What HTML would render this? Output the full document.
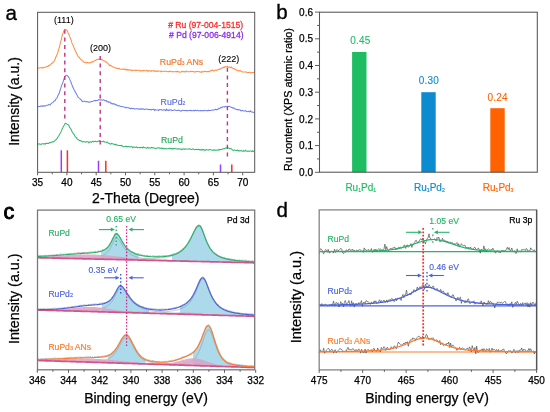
<!DOCTYPE html>
<html><head><meta charset="utf-8"><style>
html,body{margin:0;padding:0;background:#fff;width:550px;height:412px;overflow:hidden}
svg{display:block;filter:blur(0.4px)}
text{font-family:"Liberation Sans", sans-serif}
</style></head><body>
<svg width="550" height="412" viewBox="0 0 550 412">
<rect width="550" height="412" fill="#fff"/>
<text x="5.6" y="20.4" font-size="20.5" fill="#000" text-anchor="start" font-weight="normal"  stroke="#000" stroke-width="0.35">a</text>
<line x1="61.3" y1="150.3" x2="61.3" y2="172" stroke="#9b3cff" stroke-width="1.5"/>
<line x1="67.4" y1="150.3" x2="67.4" y2="172" stroke="#ff2a2a" stroke-width="1.5"/>
<line x1="98.5" y1="160.7" x2="98.5" y2="172" stroke="#9b3cff" stroke-width="1.5"/>
<line x1="105.8" y1="160.7" x2="105.8" y2="172" stroke="#ff2a2a" stroke-width="1.5"/>
<line x1="220.5" y1="164.5" x2="220.5" y2="172" stroke="#9b3cff" stroke-width="1.5"/>
<line x1="231.8" y1="164.5" x2="231.8" y2="172" stroke="#ff2a2a" stroke-width="1.5"/>
<path d="M37.6,68.3 L38.3,68.3 L39.0,68.0 L39.7,67.8 L40.4,67.8 L41.1,67.6 L41.8,67.8 L42.5,68.1 L43.2,67.4 L43.9,67.2 L44.6,67.4 L45.3,67.2 L46.0,66.9 L46.7,66.4 L47.4,66.5 L48.1,66.4 L48.8,65.5 L49.5,65.4 L50.2,64.6 L50.9,64.2 L51.6,63.5 L52.3,63.3 L53.0,62.2 L53.7,61.8 L54.4,60.6 L55.1,59.3 L55.8,57.1 L56.5,56.1 L57.2,54.3 L57.9,52.3 L58.6,49.5 L59.3,47.3 L60.0,44.4 L60.7,41.6 L61.4,39.3 L62.1,36.0 L62.8,33.7 L63.5,31.9 L64.2,30.0 L64.9,29.4 L65.6,29.6 L66.3,30.0 L67.0,30.4 L67.7,31.9 L68.4,33.7 L69.1,34.4 L69.8,36.9 L70.5,38.5 L71.2,40.2 L71.9,42.9 L72.6,44.4 L73.3,45.6 L74.0,47.7 L74.7,49.5 L75.4,50.8 L76.1,52.6 L76.8,53.7 L77.5,55.2 L78.2,56.6 L78.9,57.0 L79.6,58.2 L80.3,58.8 L81.0,59.7 L81.7,60.0 L82.4,60.8 L83.1,61.4 L83.8,62.1 L84.5,62.5 L85.2,62.0 L85.9,62.4 L86.6,63.0 L87.3,62.3 L88.0,62.7 L88.7,62.8 L89.4,63.1 L90.1,62.8 L90.8,62.4 L91.5,62.1 L92.2,61.9 L92.9,62.1 L93.6,61.2 L94.3,60.9 L95.0,60.8 L95.7,60.3 L96.4,59.9 L97.1,59.3 L97.8,59.4 L98.5,59.1 L99.2,59.5 L99.9,59.3 L100.6,59.2 L101.3,59.6 L102.0,59.5 L102.7,60.3 L103.4,60.4 L104.1,61.0 L104.8,61.0 L105.5,62.0 L106.2,61.9 L106.9,62.4 L107.6,63.4 L108.3,63.8 L109.0,64.6 L109.7,65.7 L110.4,65.2 L111.1,65.7 L111.8,66.3 L112.5,66.7 L113.2,66.9 L113.9,67.2 L114.6,67.7 L115.3,67.9 L116.0,67.7 L116.7,68.2 L117.4,68.4 L118.1,68.2 L118.8,68.8 L119.5,68.6 L120.2,69.3 L120.9,69.2 L121.6,69.2 L122.3,69.1 L123.0,69.4 L123.7,68.9 L124.4,69.2 L125.1,69.8 L125.8,69.1 L126.5,70.0 L127.2,69.3 L127.9,70.1 L128.6,69.7 L129.3,70.2 L130.0,70.1 L130.7,69.6 L131.4,70.5 L132.1,70.6 L132.8,70.2 L133.5,70.2 L134.2,70.3 L134.9,70.1 L135.6,70.7 L136.3,70.3 L137.0,70.5 L137.7,70.3 L138.4,70.3 L139.1,70.2 L139.8,71.0 L140.5,70.6 L141.2,70.9 L141.9,70.7 L142.6,70.5 L143.3,70.6 L144.0,70.6 L144.7,70.8 L145.4,70.7 L146.1,70.7 L146.8,70.4 L147.5,70.6 L148.2,71.4 L148.9,70.7 L149.6,70.6 L150.3,71.1 L151.0,71.4 L151.7,70.6 L152.4,71.0 L153.1,70.9 L153.8,70.5 L154.5,71.3 L155.2,71.1 L155.9,71.2 L156.6,70.9 L157.3,71.3 L158.0,71.0 L158.7,71.2 L159.4,70.9 L160.1,70.9 L160.8,71.7 L161.5,71.1 L162.2,71.4 L162.9,71.3 L163.6,71.2 L164.3,71.2 L165.0,71.5 L165.7,71.3 L166.4,71.3 L167.1,71.4 L167.8,71.8 L168.5,71.6 L169.2,71.6 L169.9,71.3 L170.6,71.1 L171.3,71.8 L172.0,71.8 L172.7,71.5 L173.4,71.7 L174.1,71.8 L174.8,71.8 L175.5,71.8 L176.2,71.4 L176.9,72.0 L177.6,71.2 L178.3,71.9 L179.0,71.8 L179.7,71.9 L180.4,72.2 L181.1,72.1 L181.8,71.3 L182.5,71.2 L183.2,71.9 L183.9,71.4 L184.6,71.7 L185.3,72.0 L186.0,71.2 L186.7,71.1 L187.4,71.8 L188.1,71.7 L188.8,71.7 L189.5,71.8 L190.2,71.5 L190.9,71.3 L191.6,71.7 L192.3,71.5 L193.0,71.3 L193.7,71.9 L194.4,71.8 L195.1,71.9 L195.8,71.5 L196.5,71.6 L197.2,71.5 L197.9,71.5 L198.6,71.8 L199.3,71.5 L200.0,71.9 L200.7,71.9 L201.4,72.4 L202.1,71.3 L202.8,72.0 L203.5,71.7 L204.2,71.7 L204.9,71.2 L205.6,71.5 L206.3,71.8 L207.0,71.5 L207.7,71.6 L208.4,71.4 L209.1,71.8 L209.8,71.4 L210.5,70.6 L211.2,71.0 L211.9,70.5 L212.6,70.0 L213.3,70.7 L214.0,71.1 L214.7,70.6 L215.4,70.1 L216.1,70.0 L216.8,70.4 L217.5,69.9 L218.2,69.6 L218.9,69.3 L219.6,69.1 L220.3,69.1 L221.0,68.7 L221.7,68.3 L222.4,67.6 L223.1,67.8 L223.8,67.2 L224.5,67.5 L225.2,66.6 L225.9,66.8 L226.6,66.7 L227.3,66.3 L228.0,67.3 L228.7,67.3 L229.4,66.9 L230.1,67.4 L230.8,67.6 L231.5,67.0 L232.2,68.1 L232.9,68.3 L233.6,68.7 L234.3,68.6 L235.0,69.2 L235.7,69.5 L236.4,70.2 L237.1,70.2 L237.8,70.3 L238.5,71.0 L239.2,70.6 L239.9,70.9 L240.6,70.6 L241.3,71.8 L242.0,71.8 L242.7,71.9 L243.4,71.9 L244.1,71.9 L244.8,72.0 L245.5,72.0 L246.2,72.0 L246.9,72.2 L247.6,72.7 L248.3,72.5 L249.0,72.4 L249.7,72.2 L250.4,72.3 L251.1,73.0 L251.8,72.7 L252.5,72.6 L253.2,72.5 L253.9,72.3 L254.6,72.7" fill="none" stroke="#ff8f45" stroke-width="1.05"/>
<path d="M37.6,106.9 L38.3,106.4 L39.0,106.4 L39.7,106.4 L40.4,106.4 L41.1,105.8 L41.8,106.2 L42.5,105.9 L43.2,106.3 L43.9,105.7 L44.6,106.0 L45.3,106.2 L46.0,105.5 L46.7,105.2 L47.4,105.3 L48.1,105.0 L48.8,104.5 L49.5,104.7 L50.2,104.9 L50.9,103.8 L51.6,103.4 L52.3,102.7 L53.0,102.6 L53.7,101.5 L54.4,100.8 L55.1,100.7 L55.8,99.1 L56.5,98.6 L57.2,97.5 L57.9,95.7 L58.6,94.3 L59.3,93.0 L60.0,90.5 L60.7,88.4 L61.4,86.1 L62.1,84.4 L62.8,82.7 L63.5,80.5 L64.2,78.1 L64.9,76.7 L65.6,75.8 L66.3,75.5 L67.0,75.4 L67.7,76.0 L68.4,76.9 L69.1,77.9 L69.8,79.4 L70.5,81.1 L71.2,82.7 L71.9,84.6 L72.6,86.8 L73.3,88.1 L74.0,89.5 L74.7,90.5 L75.4,92.6 L76.1,93.2 L76.8,94.6 L77.5,96.3 L78.2,97.3 L78.9,97.9 L79.6,98.2 L80.3,99.2 L81.0,99.7 L81.7,100.6 L82.4,101.5 L83.1,101.2 L83.8,101.2 L84.5,101.3 L85.2,101.8 L85.9,101.8 L86.6,101.6 L87.3,102.0 L88.0,101.6 L88.7,102.3 L89.4,102.2 L90.1,102.1 L90.8,101.5 L91.5,101.7 L92.2,101.4 L92.9,101.2 L93.6,101.0 L94.3,100.6 L95.0,100.4 L95.7,100.9 L96.4,100.4 L97.1,100.4 L97.8,100.5 L98.5,99.6 L99.2,99.8 L99.9,100.0 L100.6,100.1 L101.3,99.8 L102.0,100.3 L102.7,100.1 L103.4,99.8 L104.1,100.0 L104.8,100.7 L105.5,100.8 L106.2,100.4 L106.9,101.6 L107.6,101.6 L108.3,102.1 L109.0,101.9 L109.7,102.2 L110.4,102.3 L111.1,103.7 L111.8,103.2 L112.5,104.0 L113.2,103.6 L113.9,104.2 L114.6,103.9 L115.3,104.5 L116.0,105.2 L116.7,104.8 L117.4,105.7 L118.1,105.8 L118.8,105.6 L119.5,105.9 L120.2,106.2 L120.9,106.5 L121.6,106.5 L122.3,106.6 L123.0,106.9 L123.7,106.9 L124.4,106.9 L125.1,107.4 L125.8,107.9 L126.5,107.3 L127.2,107.8 L127.9,107.7 L128.6,107.7 L129.3,108.4 L130.0,108.1 L130.7,108.8 L131.4,108.2 L132.1,108.6 L132.8,108.5 L133.5,108.4 L134.2,108.9 L134.9,108.7 L135.6,109.0 L136.3,108.8 L137.0,108.6 L137.7,108.9 L138.4,109.0 L139.1,109.3 L139.8,108.8 L140.5,109.1 L141.2,108.7 L141.9,109.4 L142.6,108.9 L143.3,108.8 L144.0,109.3 L144.7,109.7 L145.4,109.0 L146.1,109.1 L146.8,109.3 L147.5,109.2 L148.2,109.7 L148.9,109.3 L149.6,109.4 L150.3,109.8 L151.0,109.4 L151.7,109.8 L152.4,109.4 L153.1,109.4 L153.8,109.2 L154.5,110.4 L155.2,109.7 L155.9,109.9 L156.6,109.9 L157.3,109.9 L158.0,109.9 L158.7,110.5 L159.4,109.6 L160.1,109.5 L160.8,109.7 L161.5,109.6 L162.2,110.3 L162.9,110.3 L163.6,109.8 L164.3,109.7 L165.0,110.0 L165.7,110.6 L166.4,109.3 L167.1,110.3 L167.8,109.9 L168.5,110.5 L169.2,109.9 L169.9,110.2 L170.6,109.8 L171.3,110.0 L172.0,110.7 L172.7,110.6 L173.4,110.2 L174.1,110.1 L174.8,109.8 L175.5,110.3 L176.2,110.4 L176.9,110.4 L177.6,110.4 L178.3,110.1 L179.0,110.5 L179.7,110.5 L180.4,110.9 L181.1,111.1 L181.8,110.5 L182.5,110.3 L183.2,110.5 L183.9,110.4 L184.6,110.4 L185.3,110.6 L186.0,110.3 L186.7,110.8 L187.4,110.6 L188.1,110.7 L188.8,110.6 L189.5,110.5 L190.2,110.4 L190.9,110.6 L191.6,110.5 L192.3,110.8 L193.0,110.7 L193.7,110.3 L194.4,110.8 L195.1,110.3 L195.8,110.6 L196.5,110.7 L197.2,110.1 L197.9,110.8 L198.6,110.8 L199.3,110.7 L200.0,110.6 L200.7,110.6 L201.4,110.5 L202.1,110.7 L202.8,110.6 L203.5,110.8 L204.2,110.4 L204.9,110.8 L205.6,110.7 L206.3,110.6 L207.0,110.5 L207.7,110.8 L208.4,110.1 L209.1,110.6 L209.8,110.5 L210.5,110.5 L211.2,110.4 L211.9,110.0 L212.6,110.1 L213.3,110.2 L214.0,110.0 L214.7,109.8 L215.4,109.2 L216.1,109.6 L216.8,109.6 L217.5,109.4 L218.2,109.0 L218.9,108.2 L219.6,108.7 L220.3,108.1 L221.0,107.2 L221.7,107.8 L222.4,107.0 L223.1,106.8 L223.8,106.7 L224.5,107.1 L225.2,106.4 L225.9,106.5 L226.6,106.9 L227.3,106.8 L228.0,106.3 L228.7,106.4 L229.4,106.2 L230.1,106.6 L230.8,107.1 L231.5,107.4 L232.2,107.6 L232.9,108.1 L233.6,107.9 L234.3,108.4 L235.0,108.9 L235.7,109.1 L236.4,109.5 L237.1,109.6 L237.8,109.6 L238.5,110.0 L239.2,109.8 L239.9,109.8 L240.6,110.6 L241.3,110.6 L242.0,110.8 L242.7,110.4 L243.4,110.9 L244.1,110.9 L244.8,110.9 L245.5,110.6 L246.2,111.3 L246.9,111.7 L247.6,111.6 L248.3,111.4 L249.0,111.6 L249.7,111.9 L250.4,110.9 L251.1,111.7 L251.8,112.0 L252.5,112.0 L253.2,112.4 L253.9,112.3 L254.6,112.0" fill="none" stroke="#7282ea" stroke-width="1.05"/>
<path d="M37.6,144.1 L38.3,144.2 L39.0,143.8 L39.7,143.9 L40.4,144.2 L41.1,144.5 L41.8,143.8 L42.5,143.8 L43.2,143.8 L43.9,144.1 L44.6,143.7 L45.3,144.0 L46.0,143.2 L46.7,143.4 L47.4,143.3 L48.1,143.5 L48.8,143.4 L49.5,142.5 L50.2,142.5 L50.9,142.7 L51.6,142.2 L52.3,141.6 L53.0,142.1 L53.7,141.5 L54.4,141.1 L55.1,140.3 L55.8,140.1 L56.5,139.0 L57.2,138.6 L57.9,137.0 L58.6,136.0 L59.3,135.1 L60.0,133.5 L60.7,132.5 L61.4,130.9 L62.1,129.0 L62.8,127.7 L63.5,126.1 L64.2,125.3 L64.9,123.8 L65.6,123.2 L66.3,123.6 L67.0,124.1 L67.7,124.6 L68.4,124.9 L69.1,126.0 L69.8,127.7 L70.5,128.5 L71.2,129.6 L71.9,131.2 L72.6,132.6 L73.3,133.5 L74.0,134.4 L74.7,135.5 L75.4,137.0 L76.1,137.4 L76.8,138.4 L77.5,139.1 L78.2,139.8 L78.9,140.0 L79.6,140.7 L80.3,140.6 L81.0,141.0 L81.7,141.1 L82.4,141.9 L83.1,141.7 L83.8,141.6 L84.5,141.8 L85.2,141.9 L85.9,142.2 L86.6,141.5 L87.3,141.7 L88.0,141.8 L88.7,142.7 L89.4,142.2 L90.1,141.8 L90.8,141.9 L91.5,142.3 L92.2,141.5 L92.9,141.4 L93.6,141.8 L94.3,141.5 L95.0,141.5 L95.7,141.1 L96.4,141.8 L97.1,141.7 L97.8,141.3 L98.5,141.3 L99.2,140.6 L99.9,141.4 L100.6,141.2 L101.3,141.5 L102.0,141.7 L102.7,141.5 L103.4,141.2 L104.1,142.0 L104.8,141.8 L105.5,142.1 L106.2,142.2 L106.9,142.5 L107.6,142.1 L108.3,143.3 L109.0,143.2 L109.7,143.7 L110.4,144.1 L111.1,143.7 L111.8,143.4 L112.5,143.8 L113.2,143.9 L113.9,144.3 L114.6,144.6 L115.3,144.1 L116.0,145.0 L116.7,144.6 L117.4,145.3 L118.1,145.3 L118.8,145.4 L119.5,145.5 L120.2,145.5 L120.9,145.6 L121.6,145.4 L122.3,146.0 L123.0,146.6 L123.7,146.8 L124.4,146.7 L125.1,146.6 L125.8,146.2 L126.5,146.9 L127.2,146.6 L127.9,146.6 L128.6,146.6 L129.3,146.8 L130.0,146.7 L130.7,146.9 L131.4,146.6 L132.1,146.9 L132.8,147.7 L133.5,147.1 L134.2,147.1 L134.9,147.3 L135.6,147.4 L136.3,146.9 L137.0,147.2 L137.7,147.6 L138.4,147.5 L139.1,147.5 L139.8,147.9 L140.5,147.3 L141.2,147.5 L141.9,147.4 L142.6,148.0 L143.3,147.0 L144.0,147.5 L144.7,147.5 L145.4,147.9 L146.1,147.9 L146.8,148.2 L147.5,147.3 L148.2,148.1 L148.9,147.8 L149.6,147.7 L150.3,148.1 L151.0,147.7 L151.7,147.4 L152.4,147.9 L153.1,147.6 L153.8,147.9 L154.5,148.2 L155.2,148.2 L155.9,148.6 L156.6,148.1 L157.3,147.8 L158.0,148.0 L158.7,148.0 L159.4,147.9 L160.1,148.4 L160.8,148.2 L161.5,147.8 L162.2,148.6 L162.9,148.4 L163.6,148.6 L164.3,148.5 L165.0,148.7 L165.7,148.5 L166.4,148.9 L167.1,148.7 L167.8,148.7 L168.5,148.7 L169.2,148.2 L169.9,148.6 L170.6,148.6 L171.3,148.8 L172.0,148.3 L172.7,149.3 L173.4,148.8 L174.1,148.4 L174.8,148.3 L175.5,148.8 L176.2,148.9 L176.9,148.7 L177.6,149.0 L178.3,148.8 L179.0,149.1 L179.7,148.8 L180.4,149.0 L181.1,149.3 L181.8,149.8 L182.5,148.8 L183.2,149.0 L183.9,148.9 L184.6,149.4 L185.3,148.8 L186.0,149.1 L186.7,149.2 L187.4,149.0 L188.1,149.0 L188.8,149.1 L189.5,148.7 L190.2,148.9 L190.9,149.2 L191.6,149.4 L192.3,149.3 L193.0,148.9 L193.7,149.3 L194.4,149.7 L195.1,149.6 L195.8,149.5 L196.5,149.3 L197.2,149.7 L197.9,149.4 L198.6,149.2 L199.3,149.4 L200.0,150.1 L200.7,149.7 L201.4,150.0 L202.1,149.5 L202.8,150.0 L203.5,149.5 L204.2,149.7 L204.9,150.5 L205.6,150.0 L206.3,149.6 L207.0,149.8 L207.7,149.9 L208.4,150.2 L209.1,149.7 L209.8,149.3 L210.5,149.8 L211.2,149.9 L211.9,149.9 L212.6,150.3 L213.3,150.0 L214.0,150.1 L214.7,149.6 L215.4,150.2 L216.1,150.5 L216.8,150.1 L217.5,149.9 L218.2,149.8 L218.9,150.3 L219.6,149.4 L220.3,149.5 L221.0,149.6 L221.7,149.5 L222.4,149.0 L223.1,149.0 L223.8,148.6 L224.5,148.6 L225.2,148.3 L225.9,147.8 L226.6,148.0 L227.3,148.3 L228.0,147.8 L228.7,148.1 L229.4,148.6 L230.1,148.3 L230.8,148.9 L231.5,148.8 L232.2,149.7 L232.9,150.3 L233.6,150.4 L234.3,149.9 L235.0,150.3 L235.7,150.2 L236.4,150.4 L237.1,150.9 L237.8,150.1 L238.5,150.9 L239.2,150.6 L239.9,151.1 L240.6,150.8 L241.3,150.6 L242.0,150.9 L242.7,151.1 L243.4,150.9 L244.1,151.1 L244.8,150.8 L245.5,150.3 L246.2,151.3 L246.9,151.2 L247.6,151.1 L248.3,151.1 L249.0,151.4 L249.7,151.0 L250.4,151.0 L251.1,151.1 L251.8,151.6 L252.5,150.8 L253.2,151.6 L253.9,151.1 L254.6,151.0" fill="none" stroke="#36b870" stroke-width="1.05"/>
<line x1="64.8" y1="29.7" x2="64.8" y2="122" stroke="#c23282" stroke-width="1.4" stroke-dasharray="4,3.7"/>
<line x1="100.2" y1="55.9" x2="100.2" y2="147" stroke="#c23282" stroke-width="1.4" stroke-dasharray="4,3.7"/>
<line x1="227.4" y1="67.7" x2="227.4" y2="157" stroke="#c23282" stroke-width="1.4" stroke-dasharray="4,3.7"/>
<rect x="37.6" y="12.3" width="217.1" height="160.0" fill="none" stroke="#555" stroke-width="1.0"/>
<line x1="37.60" y1="172.3" x2="37.60" y2="175.3" stroke="#606060" stroke-width="1"/>
<text x="37.60" y="186.2" font-size="10" fill="#000" text-anchor="middle" font-weight="normal"  stroke="#000" stroke-width="0.25">35</text>
<line x1="52.25" y1="172.3" x2="52.25" y2="174.3" stroke="#606060" stroke-width="1"/>
<line x1="66.90" y1="172.3" x2="66.90" y2="175.3" stroke="#606060" stroke-width="1"/>
<text x="66.90" y="186.2" font-size="10" fill="#000" text-anchor="middle" font-weight="normal"  stroke="#000" stroke-width="0.25">40</text>
<line x1="81.55" y1="172.3" x2="81.55" y2="174.3" stroke="#606060" stroke-width="1"/>
<line x1="96.20" y1="172.3" x2="96.20" y2="175.3" stroke="#606060" stroke-width="1"/>
<text x="96.20" y="186.2" font-size="10" fill="#000" text-anchor="middle" font-weight="normal"  stroke="#000" stroke-width="0.25">45</text>
<line x1="110.85" y1="172.3" x2="110.85" y2="174.3" stroke="#606060" stroke-width="1"/>
<line x1="125.50" y1="172.3" x2="125.50" y2="175.3" stroke="#606060" stroke-width="1"/>
<text x="125.50" y="186.2" font-size="10" fill="#000" text-anchor="middle" font-weight="normal"  stroke="#000" stroke-width="0.25">50</text>
<line x1="140.15" y1="172.3" x2="140.15" y2="174.3" stroke="#606060" stroke-width="1"/>
<line x1="154.80" y1="172.3" x2="154.80" y2="175.3" stroke="#606060" stroke-width="1"/>
<text x="154.80" y="186.2" font-size="10" fill="#000" text-anchor="middle" font-weight="normal"  stroke="#000" stroke-width="0.25">55</text>
<line x1="169.45" y1="172.3" x2="169.45" y2="174.3" stroke="#606060" stroke-width="1"/>
<line x1="184.10" y1="172.3" x2="184.10" y2="175.3" stroke="#606060" stroke-width="1"/>
<text x="184.10" y="186.2" font-size="10" fill="#000" text-anchor="middle" font-weight="normal"  stroke="#000" stroke-width="0.25">60</text>
<line x1="198.75" y1="172.3" x2="198.75" y2="174.3" stroke="#606060" stroke-width="1"/>
<line x1="213.40" y1="172.3" x2="213.40" y2="175.3" stroke="#606060" stroke-width="1"/>
<text x="213.40" y="186.2" font-size="10" fill="#000" text-anchor="middle" font-weight="normal"  stroke="#000" stroke-width="0.25">65</text>
<line x1="228.05" y1="172.3" x2="228.05" y2="174.3" stroke="#606060" stroke-width="1"/>
<line x1="242.70" y1="172.3" x2="242.70" y2="175.3" stroke="#606060" stroke-width="1"/>
<text x="242.70" y="186.2" font-size="10" fill="#000" text-anchor="middle" font-weight="normal"  stroke="#000" stroke-width="0.25">70</text>
<text x="145.8" y="203.3" font-size="14" fill="#000" text-anchor="middle" font-weight="normal"  stroke="#000" stroke-width="0.25">2-Theta (Degree)</text>
<text transform="translate(19,101.5) rotate(-90)" font-size="14" text-anchor="middle" stroke="#000" stroke-width="0.25">Intensity (a.u.)</text>
<text x="63.8" y="23.2" font-size="9" fill="#000" text-anchor="middle" font-weight="normal"  stroke="#000" stroke-width="0.12">(111)</text>
<text x="100.4" y="51.4" font-size="9" fill="#000" text-anchor="middle" font-weight="normal"  stroke="#000" stroke-width="0.12">(200)</text>
<text x="228.8" y="61.5" font-size="9" fill="#000" text-anchor="middle" font-weight="normal"  stroke="#000" stroke-width="0.12">(222)</text>
<text x="168.2" y="27.8" font-size="8.6" fill="#ff2a2a" text-anchor="start" font-weight="normal"  stroke="#ff2a2a" stroke-width="0.28"># Ru (97-004-1515)</text>
<text x="169" y="37.6" font-size="8.6" fill="#8a2ee8" text-anchor="start" font-weight="normal"  stroke="#8a2ee8" stroke-width="0.28"># Pd (97-006-4914)</text>
<text x="159.8" y="64.5" font-size="8.8" fill="#f07428" text-anchor="start" font-weight="normal"  stroke="#f07428" stroke-width="0.15">RuPd<tspan font-size="5">3</tspan> ANs</text>
<text x="160.6" y="105.2" font-size="8.8" fill="#5c6ee0" text-anchor="start" font-weight="normal"  stroke="#5c6ee0" stroke-width="0.15">RuPd<tspan font-size="5">2</tspan></text>
<text x="161" y="143.3" font-size="8.8" fill="#22ac5c" text-anchor="start" font-weight="normal"  stroke="#22ac5c" stroke-width="0.15">RuPd</text>
<text x="276.3" y="19.4" font-size="20.5" fill="#000" text-anchor="start" font-weight="normal"  stroke="#000" stroke-width="0.35">b</text>
<rect x="352.1" y="52.0" width="14.4" height="120.30000000000001" fill="#1fbd62"/>
<text x="360.3" y="43.8" font-size="10" fill="#1fbd62" text-anchor="middle" font-weight="normal" letter-spacing="0.2" stroke="#1fbd62" stroke-width="0.1">0.45</text>
<text x="360.8" y="191" font-size="10" fill="#1fbd62" text-anchor="middle" font-weight="normal"  stroke="#1fbd62" stroke-width="0.15">Ru<tspan font-size="5.2" dy="1">1</tspan><tspan dy="-1">Pd</tspan><tspan font-size="5.2" dy="1">1</tspan></text>
<rect x="421.3" y="92.2" width="14.4" height="80.10000000000001" fill="#0d8bd0"/>
<text x="428.9" y="84.4" font-size="10" fill="#0d8bd0" text-anchor="middle" font-weight="normal" letter-spacing="0.2" stroke="#0d8bd0" stroke-width="0.1">0.30</text>
<text x="429.4" y="191" font-size="10" fill="#0d8bd0" text-anchor="middle" font-weight="normal"  stroke="#0d8bd0" stroke-width="0.15">Ru<tspan font-size="5.2" dy="1">1</tspan><tspan dy="-1">Pd</tspan><tspan font-size="5.2" dy="1">2</tspan></text>
<rect x="490.3" y="108.2" width="14.4" height="64.10000000000001" fill="#ff6200"/>
<text x="497.6" y="100.7" font-size="10" fill="#ff6200" text-anchor="middle" font-weight="normal" letter-spacing="0.2" stroke="#ff6200" stroke-width="0.1">0.24</text>
<text x="498.1" y="191" font-size="10" fill="#ff6200" text-anchor="middle" font-weight="normal"  stroke="#ff6200" stroke-width="0.15">Ru<tspan font-size="5.2" dy="1">1</tspan><tspan dy="-1">Pd</tspan><tspan font-size="5.2" dy="1">3</tspan></text>
<rect x="319.5" y="12.2" width="217.79999999999995" height="160.0" fill="none" stroke="#555" stroke-width="1.05"/>
<line x1="315.0" y1="172.30" x2="319.5" y2="172.30" stroke="#606060" stroke-width="1"/>
<text x="313" y="175.90" font-size="10" fill="#000" text-anchor="end" font-weight="normal"  stroke="#000" stroke-width="0.25">0.0</text>
<line x1="317.0" y1="158.95" x2="319.5" y2="158.95" stroke="#606060" stroke-width="1"/>
<line x1="315.0" y1="145.60" x2="319.5" y2="145.60" stroke="#606060" stroke-width="1"/>
<text x="313" y="149.20" font-size="10" fill="#000" text-anchor="end" font-weight="normal"  stroke="#000" stroke-width="0.25">0.1</text>
<line x1="317.0" y1="132.25" x2="319.5" y2="132.25" stroke="#606060" stroke-width="1"/>
<line x1="315.0" y1="118.90" x2="319.5" y2="118.90" stroke="#606060" stroke-width="1"/>
<text x="313" y="122.50" font-size="10" fill="#000" text-anchor="end" font-weight="normal"  stroke="#000" stroke-width="0.25">0.2</text>
<line x1="317.0" y1="105.55" x2="319.5" y2="105.55" stroke="#606060" stroke-width="1"/>
<line x1="315.0" y1="92.20" x2="319.5" y2="92.20" stroke="#606060" stroke-width="1"/>
<text x="313" y="95.80" font-size="10" fill="#000" text-anchor="end" font-weight="normal"  stroke="#000" stroke-width="0.25">0.3</text>
<line x1="317.0" y1="78.85" x2="319.5" y2="78.85" stroke="#606060" stroke-width="1"/>
<line x1="315.0" y1="65.50" x2="319.5" y2="65.50" stroke="#606060" stroke-width="1"/>
<text x="313" y="69.10" font-size="10" fill="#000" text-anchor="end" font-weight="normal"  stroke="#000" stroke-width="0.25">0.4</text>
<line x1="317.0" y1="52.15" x2="319.5" y2="52.15" stroke="#606060" stroke-width="1"/>
<line x1="315.0" y1="38.80" x2="319.5" y2="38.80" stroke="#606060" stroke-width="1"/>
<text x="313" y="42.40" font-size="10" fill="#000" text-anchor="end" font-weight="normal"  stroke="#000" stroke-width="0.25">0.5</text>
<line x1="317.0" y1="25.45" x2="319.5" y2="25.45" stroke="#606060" stroke-width="1"/>
<line x1="315.0" y1="12.10" x2="319.5" y2="12.10" stroke="#606060" stroke-width="1"/>
<text x="313" y="15.70" font-size="10" fill="#000" text-anchor="end" font-weight="normal"  stroke="#000" stroke-width="0.25">0.6</text>
<text transform="translate(292,99.5) rotate(-90)" font-size="10.8" text-anchor="middle" stroke="#000" stroke-width="0.25">Ru content (XPS atomic ratio)</text>
<text x="3.6" y="218.6" font-size="21.5" fill="#000" text-anchor="start" font-weight="normal"  stroke="#000" stroke-width="0.9">c</text>
<path d="M101.0,251.3 L101.5,251.2 L102.0,251.0 L102.5,250.8 L103.0,250.6 L103.5,250.4 L104.0,250.2 L104.5,249.9 L105.0,249.6 L105.5,249.3 L106.0,248.9 L106.5,248.5 L107.0,248.1 L107.5,247.6 L108.0,247.1 L108.5,246.5 L109.0,245.8 L109.5,245.1 L110.0,244.3 L110.5,243.5 L111.0,242.6 L111.5,241.6 L112.0,240.6 L112.5,239.5 L113.0,238.4 L113.5,237.4 L114.0,236.4 L114.5,235.5 L115.0,234.7 L115.5,234.2 L116.0,233.9 L116.5,233.8 L117.0,234.0 L117.5,234.3 L118.0,234.8 L118.5,235.4 L119.0,236.0 L119.5,236.8 L120.0,237.6 L120.5,238.5 L121.0,239.4 L121.5,240.3 L122.0,241.2 L122.5,242.1 L123.0,242.9 L123.5,243.8 L124.0,244.5 L124.5,245.3 L125.0,246.0 L125.5,246.6 L126.0,247.3 L126.5,247.8 L127.0,248.4 L127.5,248.9 L128.0,249.4 L128.5,249.8 L129.0,250.3 L129.5,250.7 L130.0,251.0 L130.5,251.4 L131.0,251.7 L131.5,252.0 L132.0,252.3 L132.5,252.6 L133.0,252.8 L133.5,253.1 L134.0,253.3 L134.5,253.5 L135.0,253.7 L135.5,253.9 L136.0,254.1 L136.5,254.2 L137.0,254.4 L137.5,254.6 L138.0,254.7 L138.5,254.9 L138.5,260.1 L138.0,260.1 L137.5,260.0 L137.0,260.0 L136.5,260.0 L136.0,260.0 L135.5,260.0 L135.0,260.0 L134.5,260.0 L134.0,260.0 L133.5,260.0 L133.0,259.9 L132.5,259.9 L132.0,259.9 L131.5,259.9 L131.0,259.9 L130.5,259.9 L130.0,259.9 L129.5,259.9 L129.0,259.8 L128.5,259.8 L128.0,259.8 L127.5,259.8 L127.0,259.8 L126.5,259.8 L126.0,259.8 L125.5,259.8 L125.0,259.8 L124.5,259.7 L124.0,259.7 L123.5,259.7 L123.0,259.7 L122.5,259.7 L122.0,259.7 L121.5,259.7 L121.0,259.7 L120.5,259.6 L120.0,259.6 L119.5,259.6 L119.0,259.6 L118.5,259.6 L118.0,259.6 L117.5,259.6 L117.0,259.6 L116.5,259.6 L116.0,259.5 L115.5,259.5 L115.0,259.5 L114.5,259.5 L114.0,259.5 L113.5,259.5 L113.0,259.5 L112.5,259.5 L112.0,259.4 L111.5,259.4 L111.0,259.4 L110.5,259.4 L110.0,259.4 L109.5,259.4 L109.0,259.4 L108.5,259.4 L108.0,259.4 L107.5,259.3 L107.0,259.3 L106.5,259.3 L106.0,259.3 L105.5,259.3 L105.0,259.3 L104.5,259.3 L104.0,259.3 L103.5,259.2 L103.0,259.2 L102.5,259.2 L102.0,259.2 L101.5,259.2 L101.0,259.2 Z" fill="#acdaeb"/>
<path d="M172.0,255.2 L172.5,255.1 L173.0,255.0 L173.5,254.8 L174.0,254.6 L174.5,254.5 L175.0,254.3 L175.5,254.1 L176.0,253.9 L176.5,253.7 L177.0,253.5 L177.5,253.2 L178.0,253.0 L178.5,252.7 L179.0,252.4 L179.5,252.1 L180.0,251.8 L180.5,251.5 L181.0,251.1 L181.5,250.7 L182.0,250.3 L182.5,249.9 L183.0,249.5 L183.5,249.0 L184.0,248.5 L184.5,248.0 L185.0,247.4 L185.5,246.8 L186.0,246.2 L186.5,245.5 L187.0,244.8 L187.5,244.1 L188.0,243.3 L188.5,242.5 L189.0,241.7 L189.5,240.8 L190.0,239.9 L190.5,239.0 L191.0,238.0 L191.5,237.0 L192.0,236.0 L192.5,234.9 L193.0,233.9 L193.5,232.8 L194.0,231.8 L194.5,230.8 L195.0,229.9 L195.5,229.0 L196.0,228.2 L196.5,227.4 L197.0,226.8 L197.5,226.3 L198.0,225.9 L198.5,225.7 L199.0,225.6 L199.5,225.7 L200.0,226.0 L200.5,226.6 L201.0,227.4 L201.5,228.3 L202.0,229.5 L202.5,230.7 L203.0,232.0 L203.5,233.4 L204.0,234.7 L204.5,236.1 L205.0,237.5 L205.5,238.8 L206.0,240.1 L206.5,241.3 L207.0,242.5 L207.5,243.6 L208.0,244.6 L208.5,245.6 L209.0,246.5 L209.5,247.4 L210.0,248.2 L210.5,249.0 L211.0,249.7 L211.5,250.3 L212.0,250.9 L212.5,251.5 L213.0,252.1 L213.5,252.6 L214.0,253.0 L214.5,253.5 L215.0,253.9 L215.5,254.3 L216.0,254.6 L216.5,255.0 L217.0,255.3 L217.5,255.6 L218.0,255.9 L218.5,256.1 L219.0,256.4 L219.5,256.6 L220.0,256.8 L220.5,257.1 L221.0,257.3 L221.5,257.5 L222.0,257.6 L222.5,257.8 L223.0,258.0 L223.5,258.1 L224.0,258.3 L224.5,258.4 L225.0,258.6 L225.5,258.7 L226.0,258.8 L226.5,258.9 L227.0,259.0 L227.5,259.1 L228.0,259.2 L228.5,259.4 L229.0,259.4 L229.5,259.5 L230.0,259.6 L230.5,259.7 L231.0,259.8 L231.5,259.9 L232.0,260.0 L232.5,260.0 L233.0,260.1 L233.5,260.2 L234.0,260.2 L234.5,260.3 L235.0,260.4 L235.5,260.4 L236.0,260.5 L236.5,260.5 L237.0,260.6 L237.5,260.7 L238.0,260.7 L238.5,260.8 L239.0,260.8 L239.5,260.9 L240.0,260.9 L240.5,260.9 L241.0,261.0 L241.5,261.0 L242.0,261.1 L242.5,261.1 L243.0,261.2 L243.5,261.2 L244.0,261.2 L244.5,261.3 L245.0,261.3 L245.5,261.4 L246.0,261.4 L246.5,261.4 L247.0,261.5 L247.0,262.6 L246.5,262.6 L246.0,262.6 L245.5,262.6 L245.0,262.6 L244.5,262.6 L244.0,262.5 L243.5,262.5 L243.0,262.5 L242.5,262.5 L242.0,262.5 L241.5,262.5 L241.0,262.5 L240.5,262.5 L240.0,262.5 L239.5,262.4 L239.0,262.4 L238.5,262.4 L238.0,262.4 L237.5,262.4 L237.0,262.4 L236.5,262.4 L236.0,262.4 L235.5,262.3 L235.0,262.3 L234.5,262.3 L234.0,262.3 L233.5,262.3 L233.0,262.3 L232.5,262.3 L232.0,262.3 L231.5,262.3 L231.0,262.2 L230.5,262.2 L230.0,262.2 L229.5,262.2 L229.0,262.2 L228.5,262.2 L228.0,262.2 L227.5,262.2 L227.0,262.1 L226.5,262.1 L226.0,262.1 L225.5,262.1 L225.0,262.1 L224.5,262.1 L224.0,262.1 L223.5,262.1 L223.0,262.1 L222.5,262.0 L222.0,262.0 L221.5,262.0 L221.0,262.0 L220.5,262.0 L220.0,262.0 L219.5,262.0 L219.0,262.0 L218.5,261.9 L218.0,261.9 L217.5,261.9 L217.0,261.9 L216.5,261.9 L216.0,261.9 L215.5,261.9 L215.0,261.9 L214.5,261.9 L214.0,261.8 L213.5,261.8 L213.0,261.8 L212.5,261.8 L212.0,261.8 L211.5,261.8 L211.0,261.8 L210.5,261.8 L210.0,261.8 L209.5,261.7 L209.0,261.7 L208.5,261.7 L208.0,261.7 L207.5,261.7 L207.0,261.7 L206.5,261.7 L206.0,261.7 L205.5,261.6 L205.0,261.6 L204.5,261.6 L204.0,261.6 L203.5,261.6 L203.0,261.6 L202.5,261.6 L202.0,261.6 L201.5,261.6 L201.0,261.5 L200.5,261.5 L200.0,261.5 L199.5,261.5 L199.0,261.5 L198.5,261.5 L198.0,261.5 L197.5,261.5 L197.0,261.4 L196.5,261.4 L196.0,261.4 L195.5,261.4 L195.0,261.4 L194.5,261.4 L194.0,261.4 L193.5,261.4 L193.0,261.4 L192.5,261.3 L192.0,261.3 L191.5,261.3 L191.0,261.3 L190.5,261.3 L190.0,261.3 L189.5,261.3 L189.0,261.3 L188.5,261.2 L188.0,261.2 L187.5,261.2 L187.0,261.2 L186.5,261.2 L186.0,261.2 L185.5,261.2 L185.0,261.2 L184.5,261.2 L184.0,261.1 L183.5,261.1 L183.0,261.1 L182.5,261.1 L182.0,261.1 L181.5,261.1 L181.0,261.1 L180.5,261.1 L180.0,261.0 L179.5,261.0 L179.0,261.0 L178.5,261.0 L178.0,261.0 L177.5,261.0 L177.0,261.0 L176.5,261.0 L176.0,261.0 L175.5,260.9 L175.0,260.9 L174.5,260.9 L174.0,260.9 L173.5,260.9 L173.0,260.9 L172.5,260.9 L172.0,260.9 Z" fill="#acdaeb"/>
<path d="M63.0,258.0 L63.5,258.0 L64.0,258.0 L64.5,258.0 L65.0,258.0 L65.5,258.0 L66.0,258.0 L66.5,258.0 L67.0,258.0 L67.5,258.0 L68.0,258.0 L68.5,258.1 L69.0,258.1 L69.5,258.1 L70.0,258.1 L70.5,258.1 L71.0,258.1 L71.5,258.1 L72.0,258.1 L72.5,258.1 L73.0,258.1 L73.5,258.1 L74.0,258.1 L74.5,258.1 L75.0,258.1 L75.5,258.1 L76.0,258.1 L76.5,258.1 L77.0,258.1 L77.5,258.1 L78.0,258.1 L78.5,258.1 L79.0,258.1 L79.5,258.1 L80.0,258.1 L80.5,258.1 L81.0,258.0 L81.5,258.0 L82.0,258.0 L82.5,258.0 L83.0,258.0 L83.5,258.0 L84.0,258.0 L84.5,258.0 L85.0,258.0 L85.5,257.9 L86.0,257.9 L86.5,257.9 L87.0,257.9 L87.5,257.9 L88.0,257.9 L88.5,257.8 L89.0,257.8 L89.5,257.8 L90.0,257.7 L90.5,257.7 L91.0,257.7 L91.5,257.6 L92.0,257.6 L92.5,257.6 L93.0,257.5 L93.5,257.5 L94.0,257.4 L94.5,257.4 L95.0,257.3 L95.5,257.2 L96.0,257.2 L96.5,257.1 L97.0,257.0 L97.5,256.9 L98.0,256.8 L98.5,256.7 L99.0,256.6 L99.5,256.5 L100.0,256.3 L100.5,256.2 L101.0,256.0 L101.5,255.9 L102.0,255.7 L102.5,255.5 L103.0,255.3 L103.5,255.0 L104.0,254.8 L104.5,254.5 L105.0,254.1 L105.5,253.8 L106.0,253.4 L106.5,253.0 L107.0,252.5 L107.5,252.0 L108.0,251.5 L108.5,250.8 L109.0,250.2 L109.5,249.4 L110.0,248.6 L110.5,247.7 L111.0,246.8 L111.5,245.8 L112.0,244.7 L112.5,243.6 L113.0,242.5 L113.5,241.4 L114.0,240.4 L114.5,239.5 L115.0,238.7 L115.5,238.1 L116.0,237.8 L116.5,237.7 L117.0,237.8 L117.5,238.1 L118.0,238.5 L118.5,239.1 L119.0,239.7 L119.5,240.4 L120.0,241.2 L120.5,242.1 L121.0,242.9 L121.5,243.8 L122.0,244.7 L122.5,245.5 L123.0,246.3 L123.5,247.1 L124.0,247.9 L124.5,248.6 L125.0,249.2 L125.5,249.9 L126.0,250.4 L126.5,251.0 L127.0,251.5 L127.5,252.0 L128.0,252.4 L128.5,252.9 L129.0,253.2 L129.5,253.6 L130.0,254.0 L130.5,254.3 L131.0,254.6 L131.5,254.8 L132.0,255.1 L132.5,255.4 L133.0,255.6 L133.5,255.8 L134.0,256.0 L134.5,256.2 L135.0,256.4 L135.5,256.5 L136.0,256.7 L136.5,256.8 L137.0,257.0 L137.5,257.1 L138.0,257.3 L138.5,257.4 L139.0,257.5 L139.5,257.6 L140.0,257.7 L140.5,257.8 L141.0,257.9 L141.5,258.0 L142.0,258.1 L142.5,258.2 L143.0,258.2 L143.5,258.3 L144.0,258.4 L144.5,258.5 L145.0,258.5 L145.5,258.6 L146.0,258.7 L146.5,258.7 L147.0,258.8 L147.5,258.8 L148.0,258.9 L148.5,258.9 L149.0,259.0 L149.5,259.0 L150.0,259.1 L150.5,259.1 L151.0,259.2 L151.5,259.2 L152.0,259.3 L152.5,259.3 L153.0,259.3 L153.5,259.4 L154.0,259.4 L154.5,259.5 L155.0,259.5 L155.5,259.5 L156.0,259.6 L156.5,259.6 L157.0,259.6 L157.5,259.7 L158.0,259.7 L158.5,259.7 L159.0,259.8 L159.5,259.8 L160.0,259.8 L160.5,259.8 L161.0,259.9 L161.5,259.9 L162.0,259.9 L162.5,260.0 L163.0,260.0 L163.5,260.0 L164.0,260.0 L164.5,260.1 L165.0,260.1 L165.5,260.1 L166.0,260.1 L166.5,260.1 L167.0,260.2 L167.5,260.2 L168.0,260.2 L168.5,260.2 L169.0,260.3 L169.5,260.3 L170.0,260.3 L170.5,260.3 L171.0,260.3 L171.5,260.4 L172.0,260.4 L172.5,260.4 L173.0,260.4 L173.5,260.4 L174.0,260.5 L174.5,260.5 L175.0,260.5 L175.5,260.5 L176.0,260.5 L176.5,260.6 L177.0,260.6 L177.5,260.6 L178.0,260.6 L178.5,260.6 L179.0,260.6 L179.5,260.7 L180.0,260.7 L180.5,260.7 L181.0,260.7 L181.5,260.7 L182.0,260.7 L182.5,260.8 L183.0,260.8 L183.5,260.8 L184.0,260.8 L184.5,260.8 L185.0,260.8 L185.5,260.9 L186.0,260.9 L186.5,260.9" fill="none" stroke="#7a8a98" stroke-width="0.45"/>
<path d="M80.5,258.4 L81.0,258.4 L81.5,258.4 L82.0,258.4 L82.5,258.4 L83.0,258.5 L83.5,258.5 L84.0,258.5 L84.5,258.5 L85.0,258.5 L85.5,258.5 L86.0,258.5 L86.5,258.5 L87.0,258.5 L87.5,258.5 L88.0,258.5 L88.5,258.6 L89.0,258.6 L89.5,258.6 L90.0,258.6 L90.5,258.6 L91.0,258.6 L91.5,258.6 L92.0,258.6 L92.5,258.6 L93.0,258.6 L93.5,258.6 L94.0,258.6 L94.5,258.7 L95.0,258.7 L95.5,258.7 L96.0,258.7 L96.5,258.7 L97.0,258.7 L97.5,258.7 L98.0,258.7 L98.5,258.7 L99.0,258.7 L99.5,258.7 L100.0,258.7 L100.5,258.7 L101.0,258.8 L101.5,258.8 L102.0,258.8 L102.5,258.8 L103.0,258.8 L103.5,258.8 L104.0,258.8 L104.5,258.8 L105.0,258.8 L105.5,258.8 L106.0,258.8 L106.5,258.8 L107.0,258.8 L107.5,258.8 L108.0,258.8 L108.5,258.9 L109.0,258.9 L109.5,258.9 L110.0,258.9 L110.5,258.9 L111.0,258.9 L111.5,258.9 L112.0,258.9 L112.5,258.9 L113.0,258.9 L113.5,258.9 L114.0,258.9 L114.5,258.9 L115.0,258.9 L115.5,258.9 L116.0,258.9 L116.5,258.9 L117.0,258.9 L117.5,258.9 L118.0,259.0 L118.5,259.0 L119.0,259.0 L119.5,259.0 L120.0,259.0 L120.5,259.0 L121.0,259.0 L121.5,259.0 L122.0,259.0 L122.5,259.0 L123.0,259.0 L123.5,259.0 L124.0,259.0 L124.5,259.0 L125.0,259.0 L125.5,259.0 L126.0,259.0 L126.5,259.0 L127.0,259.0 L127.5,259.0 L128.0,259.0 L128.5,259.0 L129.0,259.0 L129.5,259.0 L130.0,259.0 L130.5,259.0 L131.0,259.0 L131.5,259.0 L132.0,259.0 L132.5,259.0 L133.0,259.0 L133.5,259.0 L134.0,259.0 L134.5,259.0 L135.0,259.0 L135.5,259.0 L136.0,259.0 L136.5,259.0 L137.0,259.0 L137.5,259.0 L138.0,259.0 L138.5,258.9 L139.0,258.9 L139.5,258.9 L140.0,258.9 L140.5,258.9 L141.0,258.9 L141.5,258.9 L142.0,258.9 L142.5,258.9 L143.0,258.9 L143.5,258.9 L144.0,258.8 L144.5,258.8 L145.0,258.8 L145.5,258.8 L146.0,258.8 L146.5,258.8 L147.0,258.8 L147.5,258.7 L148.0,258.7 L148.5,258.7 L149.0,258.7 L149.5,258.7 L150.0,258.7 L150.5,258.6 L151.0,258.6 L151.5,258.6 L152.0,258.6 L152.5,258.5 L153.0,258.5 L153.5,258.5 L154.0,258.5 L154.5,258.4 L155.0,258.4 L155.5,258.4 L156.0,258.3 L156.5,258.3 L157.0,258.2 L157.5,258.2 L158.0,258.2 L158.5,258.1 L159.0,258.1 L159.5,258.0 L160.0,258.0 L160.5,257.9 L161.0,257.9 L161.5,257.8 L162.0,257.8 L162.5,257.7 L163.0,257.6 L163.5,257.6 L164.0,257.5 L164.5,257.4 L165.0,257.4 L165.5,257.3 L166.0,257.2 L166.5,257.1 L167.0,257.0 L167.5,256.9 L168.0,256.8 L168.5,256.7 L169.0,256.6 L169.5,256.5 L170.0,256.4 L170.5,256.3 L171.0,256.1 L171.5,256.0 L172.0,255.9 L172.5,255.7 L173.0,255.6 L173.5,255.4 L174.0,255.2 L174.5,255.0 L175.0,254.8 L175.5,254.6 L176.0,254.4 L176.5,254.2 L177.0,254.0 L177.5,253.7 L178.0,253.4 L178.5,253.2 L179.0,252.9 L179.5,252.6 L180.0,252.2 L180.5,251.9 L181.0,251.5 L181.5,251.1 L182.0,250.7 L182.5,250.3 L183.0,249.9 L183.5,249.4 L184.0,248.9 L184.5,248.3 L185.0,247.8 L185.5,247.2 L186.0,246.5 L186.5,245.9 L187.0,245.2 L187.5,244.4 L188.0,243.7 L188.5,242.9 L189.0,242.0 L189.5,241.1 L190.0,240.2 L190.5,239.2 L191.0,238.3 L191.5,237.3 L192.0,236.2 L192.5,235.2 L193.0,234.1 L193.5,233.1 L194.0,232.1 L194.5,231.1 L195.0,230.1 L195.5,229.2 L196.0,228.4 L196.5,227.7 L197.0,227.0 L197.5,226.5 L198.0,226.2 L198.5,225.9 L199.0,225.8 L199.5,225.9 L200.0,226.3 L200.5,226.8 L201.0,227.6 L201.5,228.6 L202.0,229.7 L202.5,230.9 L203.0,232.2 L203.5,233.6 L204.0,234.9 L204.5,236.3 L205.0,237.7 L205.5,239.0 L206.0,240.3 L206.5,241.5 L207.0,242.7 L207.5,243.8 L208.0,244.8 L208.5,245.8 L209.0,246.7 L209.5,247.6 L210.0,248.4 L210.5,249.1 L211.0,249.8 L211.5,250.5 L212.0,251.1 L212.5,251.7 L213.0,252.2 L213.5,252.7 L214.0,253.2 L214.5,253.6 L215.0,254.0 L215.5,254.4 L216.0,254.8 L216.5,255.1 L217.0,255.4 L217.5,255.7 L218.0,256.0 L218.5,256.3 L219.0,256.5 L219.5,256.8 L220.0,257.0 L220.5,257.2 L221.0,257.4 L221.5,257.6 L222.0,257.8 L222.5,257.9 L223.0,258.1 L223.5,258.3 L224.0,258.4 L224.5,258.5 L225.0,258.7 L225.5,258.8 L226.0,258.9 L226.5,259.0 L227.0,259.2 L227.5,259.3 L228.0,259.4 L228.5,259.5 L229.0,259.6 L229.5,259.7 L230.0,259.7 L230.5,259.8 L231.0,259.9 L231.5,260.0 L232.0,260.1 L232.5,260.1 L233.0,260.2 L233.5,260.3 L234.0,260.3 L234.5,260.4 L235.0,260.5 L235.5,260.5 L236.0,260.6 L236.5,260.6 L237.0,260.7 L237.5,260.8 L238.0,260.8 L238.5,260.9 L239.0,260.9 L239.5,261.0 L240.0,261.0 L240.5,261.0 L241.0,261.1 L241.5,261.1 L242.0,261.2 L242.5,261.2 L243.0,261.3 L243.5,261.3 L244.0,261.3 L244.5,261.4 L245.0,261.4 L245.5,261.4 L246.0,261.5 L246.5,261.5 L247.0,261.5 L247.5,261.6 L248.0,261.6 L248.5,261.6 L249.0,261.7 L249.5,261.7 L250.0,261.7 L250.5,261.8 L251.0,261.8 L251.5,261.8 L252.0,261.9 L252.5,261.9 L253.0,261.9 L253.5,261.9 L254.0,262.0 L254.5,262.0" fill="none" stroke="#7a8a98" stroke-width="0.45"/>
<path d="M37.5,256.8 L38.0,256.8 L38.5,256.8 L39.0,256.7 L39.5,256.7 L40.0,256.7 L40.5,256.7 L41.0,256.7 L41.5,256.7 L42.0,256.6 L42.5,256.6 L43.0,256.6 L43.5,256.6 L44.0,256.6 L44.5,256.5 L45.0,256.5 L45.5,256.5 L46.0,256.5 L46.5,256.4 L47.0,256.4 L47.5,256.4 L48.0,256.4 L48.5,256.3 L49.0,256.3 L49.5,256.3 L50.0,256.3 L50.5,256.2 L51.0,256.2 L51.5,256.2 L52.0,256.1 L52.5,256.1 L53.0,256.1 L53.5,256.1 L54.0,256.0 L54.5,256.0 L55.0,256.0 L55.5,255.9 L56.0,255.9 L56.5,255.9 L57.0,255.8 L57.5,255.8 L58.0,255.8 L58.5,255.8 L59.0,255.7 L59.5,255.7 L60.0,255.7 L60.5,255.6 L61.0,255.6 L61.5,255.6 L62.0,255.5 L62.5,255.5 L63.0,255.5 L63.5,255.4 L64.0,255.4 L64.5,255.4 L65.0,255.3 L65.5,255.3 L66.0,255.3 L66.5,255.2 L67.0,255.2 L67.5,255.2 L68.0,255.1 L68.5,255.1 L69.0,255.1 L69.5,255.1 L70.0,255.0 L70.5,255.0 L71.0,255.0 L71.5,254.9 L72.0,254.9 L72.5,254.9 L73.0,254.9 L73.5,254.8 L74.0,254.8 L74.5,254.8 L75.0,254.8 L75.5,254.7 L76.0,254.7 L76.5,254.7 L77.0,254.7 L77.5,254.7 L78.0,254.6 L78.5,254.6 L79.0,254.6 L79.5,254.6 L80.0,254.6 L80.5,254.6 L81.0,254.5 L81.5,254.5 L82.0,254.5 L82.5,254.5 L83.0,254.5 L83.5,254.5 L84.0,254.5 L84.5,254.5 L85.0,254.5 L85.5,254.5 L86.0,254.5 L86.5,254.5 L87.0,254.5 L87.5,254.5 L88.0,254.5 L88.5,254.5 L89.0,254.5 L89.5,254.5 L90.0,254.5 L90.5,254.5 L91.0,254.5 L91.5,254.5 L92.0,254.5 L92.5,254.5 L93.0,254.6 L93.5,254.6 L94.0,254.6 L94.5,254.6 L95.0,254.6 L95.5,254.6 L96.0,254.7 L96.5,254.7 L97.0,254.7 L97.5,254.7 L98.0,254.8 L98.5,254.8 L99.0,254.8 L99.5,254.8 L100.0,254.9 L100.5,254.9 L101.0,254.9 L101.5,255.0 L102.0,255.0 L102.5,255.0 L103.0,255.1 L103.5,255.1 L104.0,255.1 L104.5,255.2 L105.0,255.2 L105.5,255.3 L106.0,255.3 L106.5,255.3 L107.0,255.4 L107.5,255.4 L108.0,255.5 L108.5,255.5 L109.0,255.6 L109.5,255.6 L110.0,255.7 L110.5,255.7 L111.0,255.8 L111.5,255.8 L112.0,255.9 L112.5,255.9 L113.0,256.0 L113.5,256.0 L114.0,256.1 L114.5,256.1 L115.0,256.2 L115.5,256.2 L116.0,256.3 L116.5,256.3 L117.0,256.4 L117.5,256.4 L118.0,256.5 L118.5,256.5 L119.0,256.6 L119.5,256.7 L120.0,256.7 L120.5,256.8 L121.0,256.8 L121.5,256.9 L122.0,256.9 L122.5,257.0 L123.0,257.0 L123.5,257.1 L124.0,257.2 L124.5,257.2 L125.0,257.3 L125.5,257.3 L126.0,257.4 L126.5,257.4 L127.0,257.5 L127.5,257.5 L128.0,257.6 L128.5,257.7 L129.0,257.7 L129.5,257.8 L130.0,257.8 L130.5,257.9 L131.0,257.9 L131.5,258.0 L132.0,258.0 L132.5,258.1 L133.0,258.1 L133.5,258.2 L134.0,258.2 L134.5,258.3 L135.0,258.3 L135.5,258.4 L136.0,258.4 L136.5,258.5 L137.0,258.5 L137.5,258.6 L138.0,258.6 L138.5,258.7 L139.0,258.7 L139.5,258.8 L140.0,258.8 L140.5,258.9 L141.0,258.9 L141.5,258.9 L142.0,259.0 L142.5,259.0 L143.0,259.1 L143.5,259.1 L144.0,259.2 L144.5,259.2 L145.0,259.2 L145.5,259.3 L146.0,259.3 L146.5,259.4 L147.0,259.4 L147.5,259.4 L148.0,259.5 L148.5,259.5 L149.0,259.5 L149.5,259.6 L150.0,259.6 L150.5,259.6 L151.0,259.7 L151.5,259.7 L152.0,259.7 L152.5,259.8 L153.0,259.8 L153.5,259.8 L154.0,259.9 L154.5,259.9 L155.0,259.9 L155.5,260.0 L156.0,260.0 L156.5,260.0 L157.0,260.0 L157.5,260.1 L158.0,260.1 L158.5,260.1 L159.0,260.1 L159.5,260.2 L160.0,260.2 L160.5,260.2 L161.0,260.3 L161.5,260.3 L162.0,260.3 L162.5,260.3 L163.0,260.3 L163.5,260.4 L164.0,260.4 L164.5,260.4 L165.0,260.4 L165.5,260.5 L166.0,260.5 L166.5,260.5 L167.0,260.5 L167.5,260.5 L168.0,260.6 L168.5,260.6 L169.0,260.6 L169.5,260.6 L170.0,260.6 L170.5,260.7 L171.0,260.7 L171.5,260.7 L172.0,260.7 L172.5,260.7 L173.0,260.7 L173.5,260.8 L174.0,260.8 L174.5,260.8 L175.0,260.8 L175.5,260.8 L176.0,260.8 L176.5,260.9 L177.0,260.9 L177.5,260.9 L178.0,260.9 L178.5,260.9 L179.0,260.9 L179.5,261.0 L180.0,261.0 L180.5,261.0 L181.0,261.0 L181.5,261.0 L182.0,261.0 L182.5,261.0 L183.0,261.1 L183.5,261.1 L184.0,261.1 L184.5,261.1 L185.0,261.1 L185.5,261.1 L186.0,261.1 L186.5,261.2 L187.0,261.2 L187.5,261.2 L188.0,261.2 L188.5,261.2 L189.0,261.2 L189.5,261.2 L190.0,261.3 L190.5,261.3 L191.0,261.3 L191.5,261.3 L192.0,261.3 L192.5,261.3 L193.0,261.3 L193.5,261.3 L194.0,261.4 L194.5,261.4 L195.0,261.4 L195.5,261.4 L196.0,261.4 L196.5,261.4 L197.0,261.4 L197.5,261.4 L198.0,261.5 L198.5,261.5 L199.0,261.5 L199.5,261.5 L200.0,261.5 L200.5,261.5 L201.0,261.5 L201.5,261.5 L202.0,261.6 L202.5,261.6 L203.0,261.6 L203.5,261.6 L204.0,261.6 L204.5,261.6 L205.0,261.6 L205.5,261.6 L206.0,261.7 L206.5,261.7 L207.0,261.7 L207.5,261.7 L208.0,261.7 L208.5,261.7 L209.0,261.7 L209.5,261.7 L210.0,261.7 L210.5,261.8 L211.0,261.8 L211.5,261.8 L212.0,261.8 L212.5,261.8 L213.0,261.8 L213.5,261.8 L214.0,261.8 L214.5,261.9 L215.0,261.9 L215.5,261.9 L216.0,261.9 L216.5,261.9 L217.0,261.9 L217.5,261.9 L218.0,261.9 L218.5,261.9 L219.0,262.0 L219.5,262.0 L220.0,262.0 L220.5,262.0 L221.0,262.0 L221.5,262.0 L222.0,262.0 L222.5,262.0 L223.0,262.1 L223.5,262.1 L224.0,262.1 L224.5,262.1 L225.0,262.1 L225.5,262.1 L226.0,262.1 L226.5,262.1 L227.0,262.1 L227.5,262.2 L228.0,262.2 L228.5,262.2 L229.0,262.2 L229.5,262.2 L230.0,262.2 L230.5,262.2 L231.0,262.2 L231.5,262.3 L232.0,262.3 L232.5,262.3 L233.0,262.3 L233.5,262.3 L234.0,262.3 L234.5,262.3 L235.0,262.3 L235.5,262.3 L236.0,262.4 L236.5,262.4 L237.0,262.4 L237.5,262.4 L238.0,262.4 L238.5,262.4 L239.0,262.4 L239.5,262.4 L240.0,262.5 L240.5,262.5 L241.0,262.5 L241.5,262.5 L242.0,262.5 L242.5,262.5 L243.0,262.5 L243.5,262.5 L244.0,262.5 L244.5,262.6 L245.0,262.6 L245.5,262.6 L246.0,262.6 L246.5,262.6 L247.0,262.6 L247.5,262.6 L248.0,262.6 L248.5,262.7 L249.0,262.7 L249.5,262.7 L250.0,262.7 L250.5,262.7 L251.0,262.7 L251.5,262.7 L252.0,262.7 L252.5,262.7 L253.0,262.8 L253.5,262.8 L254.0,262.8 L254.5,262.8 L254.7,262.8 L37.5,257.7 Z" fill="#d8a2c6" opacity="0.85"/>
<path d="M37.5,257.7 L38.0,257.7 L38.5,257.7 L39.0,257.7 L39.5,257.7 L40.0,257.8 L40.5,257.8 L41.0,257.8 L41.5,257.8 L42.0,257.8 L42.5,257.8 L43.0,257.8 L43.5,257.8 L44.0,257.9 L44.5,257.9 L45.0,257.9 L45.5,257.9 L46.0,257.9 L46.5,257.9 L47.0,257.9 L47.5,257.9 L48.0,257.9 L48.5,258.0 L49.0,258.0 L49.5,258.0 L50.0,258.0 L50.5,258.0 L51.0,258.0 L51.5,258.0 L52.0,258.0 L52.5,258.1 L53.0,258.1 L53.5,258.1 L54.0,258.1 L54.5,258.1 L55.0,258.1 L55.5,258.1 L56.0,258.1 L56.5,258.1 L57.0,258.2 L57.5,258.2 L58.0,258.2 L58.5,258.2 L59.0,258.2 L59.5,258.2 L60.0,258.2 L60.5,258.2 L61.0,258.3 L61.5,258.3 L62.0,258.3 L62.5,258.3 L63.0,258.3 L63.5,258.3 L64.0,258.3 L64.5,258.3 L65.0,258.3 L65.5,258.4 L66.0,258.4 L66.5,258.4 L67.0,258.4 L67.5,258.4 L68.0,258.4 L68.5,258.4 L69.0,258.4 L69.5,258.5 L70.0,258.5 L70.5,258.5 L71.0,258.5 L71.5,258.5 L72.0,258.5 L72.5,258.5 L73.0,258.5 L73.5,258.5 L74.0,258.6 L74.5,258.6 L75.0,258.6 L75.5,258.6 L76.0,258.6 L76.5,258.6 L77.0,258.6 L77.5,258.6 L78.0,258.7 L78.5,258.7 L79.0,258.7 L79.5,258.7 L80.0,258.7 L80.5,258.7 L81.0,258.7 L81.5,258.7 L82.0,258.7 L82.5,258.8 L83.0,258.8 L83.5,258.8 L84.0,258.8 L84.5,258.8 L85.0,258.8 L85.5,258.8 L86.0,258.8 L86.5,258.9 L87.0,258.9 L87.5,258.9 L88.0,258.9 L88.5,258.9 L89.0,258.9 L89.5,258.9 L90.0,258.9 L90.5,258.9 L91.0,259.0 L91.5,259.0 L92.0,259.0 L92.5,259.0 L93.0,259.0 L93.5,259.0 L94.0,259.0 L94.5,259.0 L95.0,259.1 L95.5,259.1 L96.0,259.1 L96.5,259.1 L97.0,259.1 L97.5,259.1 L98.0,259.1 L98.5,259.1 L99.0,259.1 L99.5,259.2 L100.0,259.2 L100.5,259.2 L101.0,259.2 L101.5,259.2 L102.0,259.2 L102.5,259.2 L103.0,259.2 L103.5,259.2 L104.0,259.3 L104.5,259.3 L105.0,259.3 L105.5,259.3 L106.0,259.3 L106.5,259.3 L107.0,259.3 L107.5,259.3 L108.0,259.4 L108.5,259.4 L109.0,259.4 L109.5,259.4 L110.0,259.4 L110.5,259.4 L111.0,259.4 L111.5,259.4 L112.0,259.4 L112.5,259.5 L113.0,259.5 L113.5,259.5 L114.0,259.5 L114.5,259.5 L115.0,259.5 L115.5,259.5 L116.0,259.5 L116.5,259.6 L117.0,259.6 L117.5,259.6 L118.0,259.6 L118.5,259.6 L119.0,259.6 L119.5,259.6 L120.0,259.6 L120.5,259.6 L121.0,259.7 L121.5,259.7 L122.0,259.7 L122.5,259.7 L123.0,259.7 L123.5,259.7 L124.0,259.7 L124.5,259.7 L125.0,259.8 L125.5,259.8 L126.0,259.8 L126.5,259.8 L127.0,259.8 L127.5,259.8 L128.0,259.8 L128.5,259.8 L129.0,259.8 L129.5,259.9 L130.0,259.9 L130.5,259.9 L131.0,259.9 L131.5,259.9 L132.0,259.9 L132.5,259.9 L133.0,259.9 L133.5,260.0 L134.0,260.0 L134.5,260.0 L135.0,260.0 L135.5,260.0 L136.0,260.0 L136.5,260.0 L137.0,260.0 L137.5,260.0 L138.0,260.1 L138.5,260.1 L139.0,260.1 L139.5,260.1 L140.0,260.1 L140.5,260.1 L141.0,260.1 L141.5,260.1 L142.0,260.2 L142.5,260.2 L143.0,260.2 L143.5,260.2 L144.0,260.2 L144.5,260.2 L145.0,260.2 L145.5,260.2 L146.0,260.2 L146.5,260.3 L147.0,260.3 L147.5,260.3 L148.0,260.3 L148.5,260.3 L149.0,260.3 L149.5,260.3 L150.0,260.3 L150.5,260.4 L151.0,260.4 L151.5,260.4 L152.0,260.4 L152.5,260.4 L153.0,260.4 L153.5,260.4 L154.0,260.4 L154.5,260.4 L155.0,260.5 L155.5,260.5 L156.0,260.5 L156.5,260.5 L157.0,260.5 L157.5,260.5 L158.0,260.5 L158.5,260.5 L159.0,260.6 L159.5,260.6 L160.0,260.6 L160.5,260.6 L161.0,260.6 L161.5,260.6 L162.0,260.6 L162.5,260.6 L163.0,260.6 L163.5,260.7 L164.0,260.7 L164.5,260.7 L165.0,260.7 L165.5,260.7 L166.0,260.7 L166.5,260.7 L167.0,260.7 L167.5,260.8 L168.0,260.8 L168.5,260.8 L169.0,260.8 L169.5,260.8 L170.0,260.8 L170.5,260.8 L171.0,260.8 L171.5,260.8 L172.0,260.9 L172.5,260.9 L173.0,260.9 L173.5,260.9 L174.0,260.9 L174.5,260.9 L175.0,260.9 L175.5,260.9 L176.0,261.0 L176.5,261.0 L177.0,261.0 L177.5,261.0 L178.0,261.0 L178.5,261.0 L179.0,261.0 L179.5,261.0 L180.0,261.0 L180.5,261.1 L181.0,261.1 L181.5,261.1 L182.0,261.1 L182.5,261.1 L183.0,261.1 L183.5,261.1 L184.0,261.1 L184.5,261.2 L185.0,261.2 L185.5,261.2 L186.0,261.2 L186.5,261.2 L187.0,261.2 L187.5,261.2 L188.0,261.2 L188.5,261.2 L189.0,261.3 L189.5,261.3 L190.0,261.3 L190.5,261.3 L191.0,261.3 L191.5,261.3 L192.0,261.3 L192.5,261.3 L193.0,261.4 L193.5,261.4 L194.0,261.4 L194.5,261.4 L195.0,261.4 L195.5,261.4 L196.0,261.4 L196.5,261.4 L197.0,261.4 L197.5,261.5 L198.0,261.5 L198.5,261.5 L199.0,261.5 L199.5,261.5 L200.0,261.5 L200.5,261.5 L201.0,261.5 L201.5,261.6 L202.0,261.6 L202.5,261.6 L203.0,261.6 L203.5,261.6 L204.0,261.6 L204.5,261.6 L205.0,261.6 L205.5,261.6 L206.0,261.7 L206.5,261.7 L207.0,261.7 L207.5,261.7 L208.0,261.7 L208.5,261.7 L209.0,261.7 L209.5,261.7 L210.0,261.8 L210.5,261.8 L211.0,261.8 L211.5,261.8 L212.0,261.8 L212.5,261.8 L213.0,261.8 L213.5,261.8 L214.0,261.8 L214.5,261.9 L215.0,261.9 L215.5,261.9 L216.0,261.9 L216.5,261.9 L217.0,261.9 L217.5,261.9 L218.0,261.9 L218.5,261.9 L219.0,262.0 L219.5,262.0 L220.0,262.0 L220.5,262.0 L221.0,262.0 L221.5,262.0 L222.0,262.0 L222.5,262.0 L223.0,262.1 L223.5,262.1 L224.0,262.1 L224.5,262.1 L225.0,262.1 L225.5,262.1 L226.0,262.1 L226.5,262.1 L227.0,262.1 L227.5,262.2 L228.0,262.2 L228.5,262.2 L229.0,262.2 L229.5,262.2 L230.0,262.2 L230.5,262.2 L231.0,262.2 L231.5,262.3 L232.0,262.3 L232.5,262.3 L233.0,262.3 L233.5,262.3 L234.0,262.3 L234.5,262.3 L235.0,262.3 L235.5,262.3 L236.0,262.4 L236.5,262.4 L237.0,262.4 L237.5,262.4 L238.0,262.4 L238.5,262.4 L239.0,262.4 L239.5,262.4 L240.0,262.5 L240.5,262.5 L241.0,262.5 L241.5,262.5 L242.0,262.5 L242.5,262.5 L243.0,262.5 L243.5,262.5 L244.0,262.5 L244.5,262.6 L245.0,262.6 L245.5,262.6 L246.0,262.6 L246.5,262.6 L247.0,262.6 L247.5,262.6 L248.0,262.6 L248.5,262.7 L249.0,262.7 L249.5,262.7 L250.0,262.7 L250.5,262.7 L251.0,262.7 L251.5,262.7 L252.0,262.7 L252.5,262.7 L253.0,262.8 L253.5,262.8 L254.0,262.8 L254.5,262.8" fill="none" stroke="#d4528a" stroke-width="1.7"/>
<path d="M37.5,256.1 L38.0,255.7 L38.5,255.4 L39.0,255.6 L39.5,255.9 L40.0,256.0 L40.5,255.6 L41.0,255.8 L41.5,255.8 L42.0,255.4 L42.5,255.7 L43.0,255.6 L43.5,255.4 L44.0,255.4 L44.5,255.5 L45.0,255.5 L45.5,255.3 L46.0,255.3 L46.5,255.7 L47.0,255.4 L47.5,255.5 L48.0,255.6 L48.5,255.4 L49.0,255.8 L49.5,255.0 L50.0,255.4 L50.5,255.1 L51.0,255.6 L51.5,255.5 L52.0,254.6 L52.5,254.8 L53.0,255.1 L53.5,255.1 L54.0,255.1 L54.5,254.9 L55.0,255.0 L55.5,255.0 L56.0,254.7 L56.5,255.0 L57.0,254.1 L57.5,254.8 L58.0,254.4 L58.5,254.8 L59.0,254.5 L59.5,254.3 L60.0,254.6 L60.5,254.2 L61.0,254.2 L61.5,254.0 L62.0,254.3 L62.5,254.4 L63.0,254.5 L63.5,254.2 L64.0,254.4 L64.5,254.1 L65.0,254.0 L65.5,254.2 L66.0,254.3 L66.5,253.9 L67.0,253.8 L67.5,253.8 L68.0,253.9 L68.5,253.6 L69.0,254.0 L69.5,253.6 L70.0,253.8 L70.5,253.4 L71.0,253.7 L71.5,253.7 L72.0,253.4 L72.5,254.0 L73.0,253.5 L73.5,253.8 L74.0,253.6 L74.5,253.2 L75.0,253.2 L75.5,253.4 L76.0,253.2 L76.5,253.2 L77.0,253.1 L77.5,252.7 L78.0,253.0 L78.5,252.5 L79.0,253.1 L79.5,252.8 L80.0,252.8 L80.5,252.8 L81.0,252.9 L81.5,252.5 L82.0,252.4 L82.5,252.5 L83.0,252.2 L83.5,252.5 L84.0,253.1 L84.5,252.4 L85.0,252.8 L85.5,252.2 L86.0,252.6 L86.5,252.4 L87.0,252.5 L87.5,252.6 L88.0,252.8 L88.5,252.4 L89.0,252.4 L89.5,252.0 L90.0,252.4 L90.5,252.2 L91.0,252.4 L91.5,252.1 L92.0,252.5 L92.5,251.5 L93.0,251.9 L93.5,252.2 L94.0,251.8 L94.5,251.6 L95.0,251.7 L95.5,251.4 L96.0,251.7 L96.5,252.2 L97.0,251.8 L97.5,251.1 L98.0,251.1 L98.5,251.1 L99.0,251.4 L99.5,250.8 L100.0,250.7 L100.5,251.0 L101.0,250.9 L101.5,250.4 L102.0,250.0 L102.5,249.7 L103.0,249.8 L103.5,249.2 L104.0,249.7 L104.5,249.0 L105.0,249.0 L105.5,249.0 L106.0,248.5 L106.5,247.5 L107.0,247.6 L107.5,247.2 L108.0,246.2 L108.5,245.5 L109.0,245.1 L109.5,244.0 L110.0,244.0 L110.5,242.2 L111.0,241.6 L111.5,240.8 L112.0,239.8 L112.5,238.9 L113.0,237.8 L113.5,236.6 L114.0,236.0 L114.5,234.2 L115.0,234.0 L115.5,233.3 L116.0,233.2 L116.5,233.2 L117.0,233.1 L117.5,233.5 L118.0,234.3 L118.5,234.7 L119.0,235.2 L119.5,236.6 L120.0,237.5 L120.5,237.5 L121.0,238.8 L121.5,240.2 L122.0,240.7 L122.5,241.4 L123.0,242.2 L123.5,242.9 L124.0,243.8 L124.5,244.4 L125.0,245.5 L125.5,245.8 L126.0,246.5 L126.5,246.8 L127.0,247.7 L127.5,248.0 L128.0,248.6 L128.5,249.4 L129.0,249.6 L129.5,250.1 L130.0,250.4 L130.5,250.7 L131.0,251.0 L131.5,251.2 L132.0,251.8 L132.5,251.6 L133.0,252.5 L133.5,252.4 L134.0,252.4 L134.5,252.7 L135.0,252.8 L135.5,253.2 L136.0,253.2 L136.5,253.8 L137.0,253.5 L137.5,253.3 L138.0,253.8 L138.5,253.6 L139.0,254.3 L139.5,254.7 L140.0,254.7 L140.5,254.3 L141.0,254.6 L141.5,255.3 L142.0,255.0 L142.5,255.0 L143.0,255.4 L143.5,255.8 L144.0,255.6 L144.5,255.4 L145.0,255.5 L145.5,255.7 L146.0,255.4 L146.5,255.4 L147.0,255.7 L147.5,255.5 L148.0,255.8 L148.5,255.9 L149.0,256.5 L149.5,255.7 L150.0,255.9 L150.5,256.0 L151.0,256.1 L151.5,256.3 L152.0,256.0 L152.5,255.9 L153.0,255.7 L153.5,255.9 L154.0,256.3 L154.5,256.2 L155.0,255.9 L155.5,256.1 L156.0,256.2 L156.5,256.3 L157.0,256.1 L157.5,256.1 L158.0,255.7 L158.5,255.9 L159.0,256.6 L159.5,255.6 L160.0,256.1 L160.5,256.2 L161.0,256.0 L161.5,255.9 L162.0,256.0 L162.5,256.0 L163.0,256.0 L163.5,255.5 L164.0,255.9 L164.5,255.6 L165.0,255.7 L165.5,255.8 L166.0,255.8 L166.5,255.8 L167.0,255.4 L167.5,255.7 L168.0,255.7 L168.5,255.6 L169.0,255.6 L169.5,255.1 L170.0,255.0 L170.5,255.1 L171.0,254.4 L171.5,254.7 L172.0,254.4 L172.5,254.3 L173.0,253.8 L173.5,253.9 L174.0,253.9 L174.5,254.0 L175.0,253.8 L175.5,253.4 L176.0,253.2 L176.5,252.8 L177.0,252.9 L177.5,252.5 L178.0,252.4 L178.5,252.4 L179.0,251.7 L179.5,251.0 L180.0,250.9 L180.5,250.4 L181.0,250.1 L181.5,250.4 L182.0,249.7 L182.5,248.8 L183.0,248.9 L183.5,248.6 L184.0,247.7 L184.5,247.1 L185.0,246.6 L185.5,246.2 L186.0,245.6 L186.5,245.1 L187.0,244.4 L187.5,243.7 L188.0,243.0 L188.5,242.0 L189.0,240.6 L189.5,240.1 L190.0,239.3 L190.5,238.2 L191.0,237.5 L191.5,236.2 L192.0,235.0 L192.5,234.6 L193.0,233.3 L193.5,232.2 L194.0,231.3 L194.5,230.4 L195.0,229.3 L195.5,227.7 L196.0,227.3 L196.5,226.6 L197.0,225.9 L197.5,225.7 L198.0,225.5 L198.5,224.9 L199.0,224.6 L199.5,225.5 L200.0,225.2 L200.5,225.6 L201.0,226.7 L201.5,227.7 L202.0,228.6 L202.5,230.2 L203.0,231.2 L203.5,232.4 L204.0,234.1 L204.5,235.6 L205.0,236.6 L205.5,238.2 L206.0,239.4 L206.5,241.3 L207.0,241.6 L207.5,243.2 L208.0,243.9 L208.5,244.9 L209.0,246.0 L209.5,246.9 L210.0,247.8 L210.5,248.3 L211.0,248.8 L211.5,249.5 L212.0,250.4 L212.5,251.0 L213.0,251.7 L213.5,252.0 L214.0,252.6 L214.5,253.1 L215.0,253.2 L215.5,253.2 L216.0,253.6 L216.5,253.9 L217.0,255.0 L217.5,254.7 L218.0,255.5 L218.5,255.6 L219.0,256.1 L219.5,256.2 L220.0,256.1 L220.5,256.3 L221.0,256.6 L221.5,256.8 L222.0,256.8 L222.5,257.1 L223.0,257.7 L223.5,257.0 L224.0,257.6 L224.5,257.5 L225.0,257.9 L225.5,258.2 L226.0,258.1 L226.5,258.4 L227.0,257.9 L227.5,258.7 L228.0,258.4 L228.5,258.8 L229.0,258.8 L229.5,258.2 L230.0,258.7 L230.5,259.1 L231.0,259.5 L231.5,259.2 L232.0,259.3 L232.5,259.0 L233.0,259.8 L233.5,259.9 L234.0,259.5 L234.5,259.5 L235.0,259.3 L235.5,259.9 L236.0,260.5 L236.5,260.0 L237.0,260.2 L237.5,260.1 L238.0,259.8 L238.5,260.4 L239.0,259.8 L239.5,260.1 L240.0,260.3 L240.5,260.5 L241.0,260.4 L241.5,260.4 L242.0,260.2 L242.5,260.1 L243.0,260.5 L243.5,260.3 L244.0,260.2 L244.5,260.3 L245.0,260.5 L245.5,260.2 L246.0,260.4 L246.5,260.3 L247.0,260.8 L247.5,260.9 L248.0,261.3 L248.5,260.5 L249.0,260.7 L249.5,261.1 L250.0,260.9 L250.5,260.9 L251.0,261.4 L251.5,261.0 L252.0,260.8 L252.5,260.8 L253.0,261.2 L253.5,261.2 L254.0,260.8 L254.5,261.0" fill="none" stroke="#999" stroke-width="0.7"/>
<path d="M37.5,256.5 L38.0,256.5 L38.5,256.5 L39.0,256.4 L39.5,256.4 L40.0,256.4 L40.5,256.4 L41.0,256.4 L41.5,256.3 L42.0,256.3 L42.5,256.3 L43.0,256.3 L43.5,256.2 L44.0,256.2 L44.5,256.2 L45.0,256.2 L45.5,256.1 L46.0,256.1 L46.5,256.1 L47.0,256.1 L47.5,256.0 L48.0,256.0 L48.5,256.0 L49.0,255.9 L49.5,255.9 L50.0,255.9 L50.5,255.8 L51.0,255.8 L51.5,255.8 L52.0,255.7 L52.5,255.7 L53.0,255.7 L53.5,255.6 L54.0,255.6 L54.5,255.6 L55.0,255.5 L55.5,255.5 L56.0,255.5 L56.5,255.4 L57.0,255.4 L57.5,255.4 L58.0,255.3 L58.5,255.3 L59.0,255.2 L59.5,255.2 L60.0,255.2 L60.5,255.1 L61.0,255.1 L61.5,255.0 L62.0,255.0 L62.5,255.0 L63.0,254.9 L63.5,254.9 L64.0,254.8 L64.5,254.8 L65.0,254.8 L65.5,254.7 L66.0,254.7 L66.5,254.7 L67.0,254.6 L67.5,254.6 L68.0,254.5 L68.5,254.5 L69.0,254.5 L69.5,254.4 L70.0,254.4 L70.5,254.3 L71.0,254.3 L71.5,254.3 L72.0,254.2 L72.5,254.2 L73.0,254.1 L73.5,254.1 L74.0,254.1 L74.5,254.0 L75.0,254.0 L75.5,254.0 L76.0,253.9 L76.5,253.9 L77.0,253.8 L77.5,253.8 L78.0,253.8 L78.5,253.7 L79.0,253.7 L79.5,253.7 L80.0,253.6 L80.5,253.6 L81.0,253.6 L81.5,253.5 L82.0,253.5 L82.5,253.5 L83.0,253.4 L83.5,253.4 L84.0,253.4 L84.5,253.3 L85.0,253.3 L85.5,253.3 L86.0,253.2 L86.5,253.2 L87.0,253.2 L87.5,253.1 L88.0,253.1 L88.5,253.1 L89.0,253.0 L89.5,253.0 L90.0,253.0 L90.5,252.9 L91.0,252.9 L91.5,252.8 L92.0,252.8 L92.5,252.7 L93.0,252.7 L93.5,252.6 L94.0,252.6 L94.5,252.5 L95.0,252.5 L95.5,252.4 L96.0,252.3 L96.5,252.3 L97.0,252.2 L97.5,252.1 L98.0,252.0 L98.5,251.9 L99.0,251.8 L99.5,251.7 L100.0,251.6 L100.5,251.5 L101.0,251.3 L101.5,251.2 L102.0,251.0 L102.5,250.8 L103.0,250.6 L103.5,250.4 L104.0,250.2 L104.5,249.9 L105.0,249.6 L105.5,249.3 L106.0,248.9 L106.5,248.5 L107.0,248.1 L107.5,247.6 L108.0,247.1 L108.5,246.5 L109.0,245.8 L109.5,245.1 L110.0,244.3 L110.5,243.5 L111.0,242.6 L111.5,241.6 L112.0,240.6 L112.5,239.5 L113.0,238.4 L113.5,237.4 L114.0,236.4 L114.5,235.5 L115.0,234.7 L115.5,234.2 L116.0,233.9 L116.5,233.8 L117.0,234.0 L117.5,234.3 L118.0,234.8 L118.5,235.4 L119.0,236.0 L119.5,236.8 L120.0,237.6 L120.5,238.5 L121.0,239.4 L121.5,240.3 L122.0,241.2 L122.5,242.1 L123.0,242.9 L123.5,243.8 L124.0,244.5 L124.5,245.3 L125.0,246.0 L125.5,246.6 L126.0,247.3 L126.5,247.8 L127.0,248.4 L127.5,248.9 L128.0,249.4 L128.5,249.8 L129.0,250.3 L129.5,250.7 L130.0,251.0 L130.5,251.4 L131.0,251.7 L131.5,252.0 L132.0,252.3 L132.5,252.6 L133.0,252.8 L133.5,253.1 L134.0,253.3 L134.5,253.5 L135.0,253.7 L135.5,253.9 L136.0,254.1 L136.5,254.2 L137.0,254.4 L137.5,254.6 L138.0,254.7 L138.5,254.9 L139.0,255.0 L139.5,255.1 L140.0,255.2 L140.5,255.3 L141.0,255.4 L141.5,255.6 L142.0,255.6 L142.5,255.7 L143.0,255.8 L143.5,255.9 L144.0,256.0 L144.5,256.1 L145.0,256.1 L145.5,256.2 L146.0,256.3 L146.5,256.3 L147.0,256.4 L147.5,256.4 L148.0,256.5 L148.5,256.5 L149.0,256.6 L149.5,256.6 L150.0,256.7 L150.5,256.7 L151.0,256.7 L151.5,256.8 L152.0,256.8 L152.5,256.8 L153.0,256.8 L153.5,256.9 L154.0,256.9 L154.5,256.9 L155.0,256.9 L155.5,256.9 L156.0,256.9 L156.5,256.9 L157.0,256.9 L157.5,256.9 L158.0,256.9 L158.5,256.9 L159.0,256.9 L159.5,256.9 L160.0,256.8 L160.5,256.8 L161.0,256.8 L161.5,256.8 L162.0,256.7 L162.5,256.7 L163.0,256.7 L163.5,256.6 L164.0,256.6 L164.5,256.5 L165.0,256.5 L165.5,256.4 L166.0,256.4 L166.5,256.3 L167.0,256.2 L167.5,256.2 L168.0,256.1 L168.5,256.0 L169.0,255.9 L169.5,255.8 L170.0,255.7 L170.5,255.6 L171.0,255.5 L171.5,255.4 L172.0,255.2 L172.5,255.1 L173.0,255.0 L173.5,254.8 L174.0,254.6 L174.5,254.5 L175.0,254.3 L175.5,254.1 L176.0,253.9 L176.5,253.7 L177.0,253.5 L177.5,253.2 L178.0,253.0 L178.5,252.7 L179.0,252.4 L179.5,252.1 L180.0,251.8 L180.5,251.5 L181.0,251.1 L181.5,250.7 L182.0,250.3 L182.5,249.9 L183.0,249.5 L183.5,249.0 L184.0,248.5 L184.5,248.0 L185.0,247.4 L185.5,246.8 L186.0,246.2 L186.5,245.5 L187.0,244.8 L187.5,244.1 L188.0,243.3 L188.5,242.5 L189.0,241.7 L189.5,240.8 L190.0,239.9 L190.5,239.0 L191.0,238.0 L191.5,237.0 L192.0,236.0 L192.5,234.9 L193.0,233.9 L193.5,232.8 L194.0,231.8 L194.5,230.8 L195.0,229.9 L195.5,229.0 L196.0,228.2 L196.5,227.4 L197.0,226.8 L197.5,226.3 L198.0,225.9 L198.5,225.7 L199.0,225.6 L199.5,225.7 L200.0,226.0 L200.5,226.6 L201.0,227.4 L201.5,228.3 L202.0,229.5 L202.5,230.7 L203.0,232.0 L203.5,233.4 L204.0,234.7 L204.5,236.1 L205.0,237.5 L205.5,238.8 L206.0,240.1 L206.5,241.3 L207.0,242.5 L207.5,243.6 L208.0,244.6 L208.5,245.6 L209.0,246.5 L209.5,247.4 L210.0,248.2 L210.5,249.0 L211.0,249.7 L211.5,250.3 L212.0,250.9 L212.5,251.5 L213.0,252.1 L213.5,252.6 L214.0,253.0 L214.5,253.5 L215.0,253.9 L215.5,254.3 L216.0,254.6 L216.5,255.0 L217.0,255.3 L217.5,255.6 L218.0,255.9 L218.5,256.1 L219.0,256.4 L219.5,256.6 L220.0,256.8 L220.5,257.1 L221.0,257.3 L221.5,257.5 L222.0,257.6 L222.5,257.8 L223.0,258.0 L223.5,258.1 L224.0,258.3 L224.5,258.4 L225.0,258.6 L225.5,258.7 L226.0,258.8 L226.5,258.9 L227.0,259.0 L227.5,259.1 L228.0,259.2 L228.5,259.4 L229.0,259.4 L229.5,259.5 L230.0,259.6 L230.5,259.7 L231.0,259.8 L231.5,259.9 L232.0,260.0 L232.5,260.0 L233.0,260.1 L233.5,260.2 L234.0,260.2 L234.5,260.3 L235.0,260.4 L235.5,260.4 L236.0,260.5 L236.5,260.5 L237.0,260.6 L237.5,260.7 L238.0,260.7 L238.5,260.8 L239.0,260.8 L239.5,260.9 L240.0,260.9 L240.5,260.9 L241.0,261.0 L241.5,261.0 L242.0,261.1 L242.5,261.1 L243.0,261.2 L243.5,261.2 L244.0,261.2 L244.5,261.3 L245.0,261.3 L245.5,261.4 L246.0,261.4 L246.5,261.4 L247.0,261.5 L247.5,261.5 L248.0,261.5 L248.5,261.6 L249.0,261.6 L249.5,261.6 L250.0,261.7 L250.5,261.7 L251.0,261.7 L251.5,261.7 L252.0,261.8 L252.5,261.8 L253.0,261.8 L253.5,261.9 L254.0,261.9 L254.5,261.9" fill="none" stroke="#2ab26a" stroke-width="1.1"/>
<text x="48.4" y="236.0" font-size="8.6" fill="#2ab26a" text-anchor="start" font-weight="normal"  stroke="#2ab26a" stroke-width="0.15">RuPd</text>
<path d="M102.0,304.0 L102.5,303.9 L103.0,303.8 L103.5,303.7 L104.0,303.5 L104.5,303.4 L105.0,303.2 L105.5,303.0 L106.0,302.8 L106.5,302.6 L107.0,302.4 L107.5,302.1 L108.0,301.8 L108.5,301.5 L109.0,301.2 L109.5,300.8 L110.0,300.4 L110.5,299.9 L111.0,299.4 L111.5,298.9 L112.0,298.3 L112.5,297.6 L113.0,296.9 L113.5,296.2 L114.0,295.3 L114.5,294.5 L115.0,293.6 L115.5,292.6 L116.0,291.7 L116.5,290.7 L117.0,289.7 L117.5,288.8 L118.0,288.0 L118.5,287.3 L119.0,286.7 L119.5,286.2 L120.0,286.0 L120.5,285.9 L121.0,286.1 L121.5,286.3 L122.0,286.6 L122.5,287.0 L123.0,287.5 L123.5,288.1 L124.0,288.8 L124.5,289.5 L125.0,290.2 L125.5,291.0 L126.0,291.7 L126.5,292.5 L127.0,293.3 L127.5,294.1 L128.0,294.9 L128.5,295.6 L129.0,296.4 L129.5,297.1 L130.0,297.8 L130.5,298.5 L131.0,299.1 L131.5,299.7 L132.0,300.3 L132.5,300.8 L133.0,301.3 L133.5,301.8 L134.0,302.3 L134.5,302.8 L135.0,303.2 L135.5,303.6 L136.0,304.0 L136.5,304.3 L137.0,304.7 L137.5,305.0 L138.0,305.3 L138.5,305.6 L139.0,305.9 L139.5,306.1 L140.0,306.4 L140.5,306.6 L141.0,306.8 L141.5,307.0 L142.0,307.2 L142.5,307.4 L143.0,307.6 L143.5,307.7 L144.0,307.9 L144.5,308.1 L145.0,308.2 L145.5,308.3 L146.0,308.5 L146.5,308.6 L147.0,308.7 L147.5,308.8 L148.0,308.9 L148.5,309.0 L149.0,309.1 L149.0,313.2 L148.5,313.2 L148.0,313.2 L147.5,313.2 L147.0,313.2 L146.5,313.2 L146.0,313.1 L145.5,313.1 L145.0,313.1 L144.5,313.1 L144.0,313.1 L143.5,313.1 L143.0,313.1 L142.5,313.0 L142.0,313.0 L141.5,313.0 L141.0,313.0 L140.5,313.0 L140.0,313.0 L139.5,313.0 L139.0,312.9 L138.5,312.9 L138.0,312.9 L137.5,312.9 L137.0,312.9 L136.5,312.9 L136.0,312.9 L135.5,312.8 L135.0,312.8 L134.5,312.8 L134.0,312.8 L133.5,312.8 L133.0,312.8 L132.5,312.8 L132.0,312.7 L131.5,312.7 L131.0,312.7 L130.5,312.7 L130.0,312.7 L129.5,312.7 L129.0,312.7 L128.5,312.6 L128.0,312.6 L127.5,312.6 L127.0,312.6 L126.5,312.6 L126.0,312.6 L125.5,312.6 L125.0,312.5 L124.5,312.5 L124.0,312.5 L123.5,312.5 L123.0,312.5 L122.5,312.5 L122.0,312.5 L121.5,312.4 L121.0,312.4 L120.5,312.4 L120.0,312.4 L119.5,312.4 L119.0,312.4 L118.5,312.3 L118.0,312.3 L117.5,312.3 L117.0,312.3 L116.5,312.3 L116.0,312.3 L115.5,312.3 L115.0,312.2 L114.5,312.2 L114.0,312.2 L113.5,312.2 L113.0,312.2 L112.5,312.2 L112.0,312.2 L111.5,312.1 L111.0,312.1 L110.5,312.1 L110.0,312.1 L109.5,312.1 L109.0,312.1 L108.5,312.1 L108.0,312.0 L107.5,312.0 L107.0,312.0 L106.5,312.0 L106.0,312.0 L105.5,312.0 L105.0,312.0 L104.5,311.9 L104.0,311.9 L103.5,311.9 L103.0,311.9 L102.5,311.9 L102.0,311.9 Z" fill="#acdaeb"/>
<path d="M180.0,306.8 L180.5,306.6 L181.0,306.4 L181.5,306.1 L182.0,305.9 L182.5,305.7 L183.0,305.4 L183.5,305.1 L184.0,304.9 L184.5,304.6 L185.0,304.3 L185.5,303.9 L186.0,303.6 L186.5,303.2 L187.0,302.8 L187.5,302.4 L188.0,301.9 L188.5,301.4 L189.0,300.9 L189.5,300.4 L190.0,299.8 L190.5,299.2 L191.0,298.6 L191.5,297.9 L192.0,297.1 L192.5,296.3 L193.0,295.5 L193.5,294.6 L194.0,293.7 L194.5,292.7 L195.0,291.7 L195.5,290.6 L196.0,289.5 L196.5,288.3 L197.0,287.1 L197.5,285.9 L198.0,284.8 L198.5,283.6 L199.0,282.5 L199.5,281.4 L200.0,280.4 L200.5,279.6 L201.0,278.9 L201.5,278.3 L202.0,278.0 L202.5,277.8 L203.0,277.8 L203.5,278.1 L204.0,278.6 L204.5,279.2 L205.0,280.1 L205.5,281.1 L206.0,282.2 L206.5,283.4 L207.0,284.6 L207.5,286.0 L208.0,287.3 L208.5,288.6 L209.0,289.9 L209.5,291.2 L210.0,292.5 L210.5,293.7 L211.0,294.8 L211.5,295.9 L212.0,296.9 L212.5,297.9 L213.0,298.8 L213.5,299.7 L214.0,300.5 L214.5,301.3 L215.0,302.0 L215.5,302.7 L216.0,303.4 L216.5,304.0 L217.0,304.5 L217.5,305.0 L218.0,305.5 L218.5,306.0 L219.0,306.4 L219.5,306.9 L220.0,307.2 L220.5,307.6 L221.0,308.0 L221.5,308.3 L222.0,308.6 L222.5,308.9 L223.0,309.2 L223.5,309.4 L224.0,309.7 L224.5,309.9 L225.0,310.1 L225.5,310.3 L226.0,310.5 L226.5,310.7 L227.0,310.9 L227.5,311.1 L228.0,311.2 L228.5,311.4 L229.0,311.5 L229.5,311.7 L230.0,311.8 L230.5,312.0 L231.0,312.1 L231.5,312.2 L232.0,312.3 L232.5,312.4 L233.0,312.5 L233.5,312.6 L234.0,312.7 L234.5,312.8 L235.0,312.9 L235.5,313.0 L236.0,313.1 L236.5,313.2 L237.0,313.3 L237.5,313.4 L238.0,313.4 L238.5,313.5 L239.0,313.6 L239.5,313.6 L240.0,313.7 L240.5,313.8 L241.0,313.8 L241.5,313.9 L242.0,314.0 L242.5,314.0 L243.0,314.1 L243.5,314.1 L244.0,314.2 L244.5,314.2 L245.0,314.3 L245.5,314.3 L246.0,314.4 L246.5,314.4 L247.0,314.5 L247.5,314.5 L248.0,314.6 L248.5,314.6 L249.0,314.7 L249.5,314.7 L250.0,314.8 L250.5,314.8 L251.0,314.8 L251.5,314.9 L252.0,314.9 L252.5,314.9 L253.0,315.0 L253.5,315.0 L254.0,315.1 L254.0,316.3 L253.5,316.3 L253.0,316.3 L252.5,316.2 L252.0,316.2 L251.5,316.2 L251.0,316.2 L250.5,316.2 L250.0,316.2 L249.5,316.1 L249.0,316.1 L248.5,316.1 L248.0,316.1 L247.5,316.1 L247.0,316.1 L246.5,316.1 L246.0,316.0 L245.5,316.0 L245.0,316.0 L244.5,316.0 L244.0,316.0 L243.5,316.0 L243.0,316.0 L242.5,315.9 L242.0,315.9 L241.5,315.9 L241.0,315.9 L240.5,315.9 L240.0,315.9 L239.5,315.9 L239.0,315.8 L238.5,315.8 L238.0,315.8 L237.5,315.8 L237.0,315.8 L236.5,315.8 L236.0,315.8 L235.5,315.7 L235.0,315.7 L234.5,315.7 L234.0,315.7 L233.5,315.7 L233.0,315.7 L232.5,315.7 L232.0,315.6 L231.5,315.6 L231.0,315.6 L230.5,315.6 L230.0,315.6 L229.5,315.6 L229.0,315.6 L228.5,315.5 L228.0,315.5 L227.5,315.5 L227.0,315.5 L226.5,315.5 L226.0,315.5 L225.5,315.5 L225.0,315.4 L224.5,315.4 L224.0,315.4 L223.5,315.4 L223.0,315.4 L222.5,315.4 L222.0,315.4 L221.5,315.3 L221.0,315.3 L220.5,315.3 L220.0,315.3 L219.5,315.3 L219.0,315.3 L218.5,315.2 L218.0,315.2 L217.5,315.2 L217.0,315.2 L216.5,315.2 L216.0,315.2 L215.5,315.2 L215.0,315.1 L214.5,315.1 L214.0,315.1 L213.5,315.1 L213.0,315.1 L212.5,315.1 L212.0,315.1 L211.5,315.0 L211.0,315.0 L210.5,315.0 L210.0,315.0 L209.5,315.0 L209.0,315.0 L208.5,315.0 L208.0,314.9 L207.5,314.9 L207.0,314.9 L206.5,314.9 L206.0,314.9 L205.5,314.9 L205.0,314.9 L204.5,314.8 L204.0,314.8 L203.5,314.8 L203.0,314.8 L202.5,314.8 L202.0,314.8 L201.5,314.8 L201.0,314.7 L200.5,314.7 L200.0,314.7 L199.5,314.7 L199.0,314.7 L198.5,314.7 L198.0,314.7 L197.5,314.6 L197.0,314.6 L196.5,314.6 L196.0,314.6 L195.5,314.6 L195.0,314.6 L194.5,314.6 L194.0,314.5 L193.5,314.5 L193.0,314.5 L192.5,314.5 L192.0,314.5 L191.5,314.5 L191.0,314.5 L190.5,314.4 L190.0,314.4 L189.5,314.4 L189.0,314.4 L188.5,314.4 L188.0,314.4 L187.5,314.4 L187.0,314.3 L186.5,314.3 L186.0,314.3 L185.5,314.3 L185.0,314.3 L184.5,314.3 L184.0,314.2 L183.5,314.2 L183.0,314.2 L182.5,314.2 L182.0,314.2 L181.5,314.2 L181.0,314.2 L180.5,314.1 L180.0,314.1 Z" fill="#acdaeb"/>
<path d="M53.0,310.1 L53.5,310.2 L54.0,310.2 L54.5,310.2 L55.0,310.2 L55.5,310.2 L56.0,310.2 L56.5,310.2 L57.0,310.2 L57.5,310.2 L58.0,310.2 L58.5,310.3 L59.0,310.3 L59.5,310.3 L60.0,310.3 L60.5,310.3 L61.0,310.3 L61.5,310.3 L62.0,310.3 L62.5,310.3 L63.0,310.3 L63.5,310.3 L64.0,310.3 L64.5,310.3 L65.0,310.4 L65.5,310.4 L66.0,310.4 L66.5,310.4 L67.0,310.4 L67.5,310.4 L68.0,310.4 L68.5,310.4 L69.0,310.4 L69.5,310.4 L70.0,310.4 L70.5,310.4 L71.0,310.4 L71.5,310.4 L72.0,310.4 L72.5,310.4 L73.0,310.4 L73.5,310.4 L74.0,310.4 L74.5,310.4 L75.0,310.4 L75.5,310.4 L76.0,310.4 L76.5,310.4 L77.0,310.4 L77.5,310.4 L78.0,310.4 L78.5,310.4 L79.0,310.4 L79.5,310.4 L80.0,310.4 L80.5,310.4 L81.0,310.4 L81.5,310.4 L82.0,310.4 L82.5,310.4 L83.0,310.4 L83.5,310.4 L84.0,310.4 L84.5,310.3 L85.0,310.3 L85.5,310.3 L86.0,310.3 L86.5,310.3 L87.0,310.3 L87.5,310.2 L88.0,310.2 L88.5,310.2 L89.0,310.2 L89.5,310.1 L90.0,310.1 L90.5,310.1 L91.0,310.1 L91.5,310.0 L92.0,310.0 L92.5,309.9 L93.0,309.9 L93.5,309.9 L94.0,309.8 L94.5,309.8 L95.0,309.7 L95.5,309.7 L96.0,309.6 L96.5,309.5 L97.0,309.5 L97.5,309.4 L98.0,309.3 L98.5,309.2 L99.0,309.1 L99.5,309.0 L100.0,308.9 L100.5,308.8 L101.0,308.7 L101.5,308.5 L102.0,308.4 L102.5,308.3 L103.0,308.1 L103.5,307.9 L104.0,307.7 L104.5,307.5 L105.0,307.3 L105.5,307.1 L106.0,306.8 L106.5,306.5 L107.0,306.2 L107.5,305.9 L108.0,305.5 L108.5,305.2 L109.0,304.8 L109.5,304.3 L110.0,303.8 L110.5,303.3 L111.0,302.7 L111.5,302.1 L112.0,301.4 L112.5,300.7 L113.0,299.9 L113.5,299.1 L114.0,298.2 L114.5,297.3 L115.0,296.4 L115.5,295.3 L116.0,294.3 L116.5,293.3 L117.0,292.3 L117.5,291.3 L118.0,290.4 L118.5,289.6 L119.0,288.9 L119.5,288.4 L120.0,288.1 L120.5,288.0 L121.0,288.1 L121.5,288.3 L122.0,288.6 L122.5,288.9 L123.0,289.4 L123.5,289.9 L124.0,290.5 L124.5,291.2 L125.0,291.9 L125.5,292.6 L126.0,293.3 L126.5,294.1 L127.0,294.8 L127.5,295.6 L128.0,296.3 L128.5,297.1 L129.0,297.8 L129.5,298.4 L130.0,299.1 L130.5,299.7 L131.0,300.3 L131.5,300.9 L132.0,301.5 L132.5,302.0 L133.0,302.5 L133.5,303.0 L134.0,303.4 L134.5,303.9 L135.0,304.3 L135.5,304.7 L136.0,305.0 L136.5,305.4 L137.0,305.7 L137.5,306.0 L138.0,306.3 L138.5,306.6 L139.0,306.9 L139.5,307.1 L140.0,307.4 L140.5,307.6 L141.0,307.8 L141.5,308.0 L142.0,308.2 L142.5,308.4 L143.0,308.6 L143.5,308.8 L144.0,308.9 L144.5,309.1 L145.0,309.2 L145.5,309.4 L146.0,309.5 L146.5,309.7 L147.0,309.8 L147.5,309.9 L148.0,310.0 L148.5,310.1 L149.0,310.2 L149.5,310.3 L150.0,310.4 L150.5,310.5 L151.0,310.6 L151.5,310.7 L152.0,310.8 L152.5,310.9 L153.0,311.0 L153.5,311.1 L154.0,311.1 L154.5,311.2 L155.0,311.3 L155.5,311.4 L156.0,311.4 L156.5,311.5 L157.0,311.6 L157.5,311.6 L158.0,311.7 L158.5,311.7 L159.0,311.8 L159.5,311.8 L160.0,311.9 L160.5,312.0 L161.0,312.0 L161.5,312.1 L162.0,312.1 L162.5,312.2 L163.0,312.2 L163.5,312.2 L164.0,312.3 L164.5,312.3 L165.0,312.4 L165.5,312.4 L166.0,312.5 L166.5,312.5 L167.0,312.5 L167.5,312.6 L168.0,312.6 L168.5,312.7 L169.0,312.7 L169.5,312.7 L170.0,312.8 L170.5,312.8 L171.0,312.8 L171.5,312.9 L172.0,312.9 L172.5,312.9 L173.0,313.0 L173.5,313.0 L174.0,313.0 L174.5,313.1 L175.0,313.1 L175.5,313.1 L176.0,313.1 L176.5,313.2 L177.0,313.2 L177.5,313.2 L178.0,313.3 L178.5,313.3 L179.0,313.3 L179.5,313.3 L180.0,313.4 L180.5,313.4 L181.0,313.4 L181.5,313.5 L182.0,313.5 L182.5,313.5 L183.0,313.5 L183.5,313.6 L184.0,313.6 L184.5,313.6 L185.0,313.6 L185.5,313.7 L186.0,313.7 L186.5,313.7 L187.0,313.7 L187.5,313.7 L188.0,313.8 L188.5,313.8 L189.0,313.8 L189.5,313.8 L190.0,313.9 L190.5,313.9 L191.0,313.9 L191.5,313.9 L192.0,314.0 L192.5,314.0 L193.0,314.0 L193.5,314.0 L194.0,314.0 L194.5,314.1 L195.0,314.1 L195.5,314.1 L196.0,314.1 L196.5,314.1 L197.0,314.2 L197.5,314.2 L198.0,314.2 L198.5,314.2 L199.0,314.2 L199.5,314.3 L200.0,314.3 L200.5,314.3 L201.0,314.3 L201.5,314.3 L202.0,314.4 L202.5,314.4 L203.0,314.4 L203.5,314.4 L204.0,314.4 L204.5,314.5 L205.0,314.5 L205.5,314.5 L206.0,314.5 L206.5,314.5 L207.0,314.6 L207.5,314.6 L208.0,314.6 L208.5,314.6 L209.0,314.6 L209.5,314.6 L210.0,314.7 L210.5,314.7 L211.0,314.7 L211.5,314.7 L212.0,314.7 L212.5,314.8 L213.0,314.8 L213.5,314.8 L214.0,314.8 L214.5,314.8 L215.0,314.8 L215.5,314.9 L216.0,314.9" fill="none" stroke="#7a8a98" stroke-width="0.45"/>
<path d="M103.0,311.6 L103.5,311.6 L104.0,311.6 L104.5,311.6 L105.0,311.6 L105.5,311.7 L106.0,311.7 L106.5,311.7 L107.0,311.7 L107.5,311.7 L108.0,311.7 L108.5,311.7 L109.0,311.7 L109.5,311.7 L110.0,311.8 L110.5,311.8 L111.0,311.8 L111.5,311.8 L112.0,311.8 L112.5,311.8 L113.0,311.8 L113.5,311.8 L114.0,311.8 L114.5,311.8 L115.0,311.9 L115.5,311.9 L116.0,311.9 L116.5,311.9 L117.0,311.9 L117.5,311.9 L118.0,311.9 L118.5,311.9 L119.0,311.9 L119.5,311.9 L120.0,312.0 L120.5,312.0 L121.0,312.0 L121.5,312.0 L122.0,312.0 L122.5,312.0 L123.0,312.0 L123.5,312.0 L124.0,312.0 L124.5,312.0 L125.0,312.0 L125.5,312.1 L126.0,312.1 L126.5,312.1 L127.0,312.1 L127.5,312.1 L128.0,312.1 L128.5,312.1 L129.0,312.1 L129.5,312.1 L130.0,312.1 L130.5,312.1 L131.0,312.1 L131.5,312.1 L132.0,312.1 L132.5,312.2 L133.0,312.2 L133.5,312.2 L134.0,312.2 L134.5,312.2 L135.0,312.2 L135.5,312.2 L136.0,312.2 L136.5,312.2 L137.0,312.2 L137.5,312.2 L138.0,312.2 L138.5,312.2 L139.0,312.2 L139.5,312.2 L140.0,312.2 L140.5,312.2 L141.0,312.2 L141.5,312.2 L142.0,312.2 L142.5,312.2 L143.0,312.2 L143.5,312.2 L144.0,312.2 L144.5,312.2 L145.0,312.2 L145.5,312.2 L146.0,312.2 L146.5,312.2 L147.0,312.2 L147.5,312.2 L148.0,312.2 L148.5,312.2 L149.0,312.2 L149.5,312.2 L150.0,312.2 L150.5,312.2 L151.0,312.2 L151.5,312.2 L152.0,312.2 L152.5,312.2 L153.0,312.2 L153.5,312.2 L154.0,312.1 L154.5,312.1 L155.0,312.1 L155.5,312.1 L156.0,312.1 L156.5,312.1 L157.0,312.1 L157.5,312.1 L158.0,312.0 L158.5,312.0 L159.0,312.0 L159.5,312.0 L160.0,312.0 L160.5,311.9 L161.0,311.9 L161.5,311.9 L162.0,311.9 L162.5,311.8 L163.0,311.8 L163.5,311.8 L164.0,311.8 L164.5,311.7 L165.0,311.7 L165.5,311.7 L166.0,311.6 L166.5,311.6 L167.0,311.5 L167.5,311.5 L168.0,311.4 L168.5,311.4 L169.0,311.3 L169.5,311.3 L170.0,311.2 L170.5,311.2 L171.0,311.1 L171.5,311.0 L172.0,311.0 L172.5,310.9 L173.0,310.8 L173.5,310.7 L174.0,310.6 L174.5,310.5 L175.0,310.4 L175.5,310.3 L176.0,310.2 L176.5,310.1 L177.0,310.0 L177.5,309.9 L178.0,309.7 L178.5,309.6 L179.0,309.4 L179.5,309.3 L180.0,309.1 L180.5,308.9 L181.0,308.7 L181.5,308.5 L182.0,308.3 L182.5,308.1 L183.0,307.9 L183.5,307.6 L184.0,307.3 L184.5,307.0 L185.0,306.7 L185.5,306.4 L186.0,306.0 L186.5,305.7 L187.0,305.3 L187.5,304.8 L188.0,304.4 L188.5,303.9 L189.0,303.4 L189.5,302.8 L190.0,302.2 L190.5,301.6 L191.0,300.9 L191.5,300.2 L192.0,299.4 L192.5,298.6 L193.0,297.8 L193.5,296.8 L194.0,295.9 L194.5,294.9 L195.0,293.8 L195.5,292.7 L196.0,291.5 L196.5,290.3 L197.0,289.1 L197.5,287.9 L198.0,286.6 L198.5,285.4 L199.0,284.3 L199.5,283.2 L200.0,282.1 L200.5,281.2 L201.0,280.5 L201.5,279.9 L202.0,279.5 L202.5,279.3 L203.0,279.3 L203.5,279.5 L204.0,279.9 L204.5,280.5 L205.0,281.3 L205.5,282.2 L206.0,283.3 L206.5,284.5 L207.0,285.7 L207.5,287.0 L208.0,288.3 L208.5,289.6 L209.0,290.8 L209.5,292.1 L210.0,293.3 L210.5,294.5 L211.0,295.6 L211.5,296.7 L212.0,297.7 L212.5,298.6 L213.0,299.5 L213.5,300.4 L214.0,301.2 L214.5,301.9 L215.0,302.6 L215.5,303.3 L216.0,303.9 L216.5,304.5 L217.0,305.0 L217.5,305.5 L218.0,306.0 L218.5,306.4 L219.0,306.9 L219.5,307.3 L220.0,307.6 L220.5,308.0 L221.0,308.3 L221.5,308.6 L222.0,308.9 L222.5,309.2 L223.0,309.5 L223.5,309.7 L224.0,310.0 L224.5,310.2 L225.0,310.4 L225.5,310.6 L226.0,310.8 L226.5,311.0 L227.0,311.2 L227.5,311.3 L228.0,311.5 L228.5,311.7 L229.0,311.8 L229.5,311.9 L230.0,312.1 L230.5,312.2 L231.0,312.3 L231.5,312.4 L232.0,312.6 L232.5,312.7 L233.0,312.8 L233.5,312.9 L234.0,313.0 L234.5,313.1 L235.0,313.1 L235.5,313.2 L236.0,313.3 L236.5,313.4 L237.0,313.5 L237.5,313.6 L238.0,313.6 L238.5,313.7 L239.0,313.8 L239.5,313.8 L240.0,313.9 L240.5,314.0 L241.0,314.0 L241.5,314.1 L242.0,314.1 L242.5,314.2 L243.0,314.3 L243.5,314.3 L244.0,314.4 L244.5,314.4 L245.0,314.5 L245.5,314.5 L246.0,314.6 L246.5,314.6 L247.0,314.7 L247.5,314.7 L248.0,314.7 L248.5,314.8 L249.0,314.8 L249.5,314.9 L250.0,314.9 L250.5,315.0 L251.0,315.0 L251.5,315.0 L252.0,315.1 L252.5,315.1 L253.0,315.1 L253.5,315.2 L254.0,315.2 L254.5,315.2" fill="none" stroke="#7a8a98" stroke-width="0.45"/>
<path d="M37.5,309.9 L38.0,309.9 L38.5,309.9 L39.0,309.9 L39.5,309.9 L40.0,309.9 L40.5,309.9 L41.0,309.9 L41.5,309.9 L42.0,309.9 L42.5,309.9 L43.0,309.9 L43.5,309.9 L44.0,309.9 L44.5,309.9 L45.0,309.9 L45.5,309.9 L46.0,309.9 L46.5,309.9 L47.0,309.9 L47.5,309.9 L48.0,309.9 L48.5,309.9 L49.0,309.9 L49.5,309.9 L50.0,309.9 L50.5,309.9 L51.0,309.8 L51.5,309.8 L52.0,309.8 L52.5,309.8 L53.0,309.8 L53.5,309.8 L54.0,309.7 L54.5,309.7 L55.0,309.7 L55.5,309.7 L56.0,309.6 L56.5,309.6 L57.0,309.6 L57.5,309.5 L58.0,309.5 L58.5,309.5 L59.0,309.5 L59.5,309.4 L60.0,309.4 L60.5,309.3 L61.0,309.3 L61.5,309.3 L62.0,309.2 L62.5,309.2 L63.0,309.1 L63.5,309.1 L64.0,309.0 L64.5,309.0 L65.0,308.9 L65.5,308.9 L66.0,308.8 L66.5,308.8 L67.0,308.7 L67.5,308.7 L68.0,308.6 L68.5,308.6 L69.0,308.5 L69.5,308.5 L70.0,308.4 L70.5,308.4 L71.0,308.3 L71.5,308.3 L72.0,308.2 L72.5,308.1 L73.0,308.1 L73.5,308.0 L74.0,308.0 L74.5,307.9 L75.0,307.9 L75.5,307.8 L76.0,307.7 L76.5,307.7 L77.0,307.6 L77.5,307.6 L78.0,307.5 L78.5,307.5 L79.0,307.4 L79.5,307.4 L80.0,307.4 L80.5,307.3 L81.0,307.3 L81.5,307.2 L82.0,307.2 L82.5,307.2 L83.0,307.1 L83.5,307.1 L84.0,307.1 L84.5,307.0 L85.0,307.0 L85.5,307.0 L86.0,307.0 L86.5,306.9 L87.0,306.9 L87.5,306.9 L88.0,306.9 L88.5,306.9 L89.0,306.9 L89.5,306.9 L90.0,306.9 L90.5,306.9 L91.0,306.9 L91.5,306.9 L92.0,306.9 L92.5,306.9 L93.0,307.0 L93.5,307.0 L94.0,307.0 L94.5,307.0 L95.0,307.1 L95.5,307.1 L96.0,307.1 L96.5,307.2 L97.0,307.2 L97.5,307.3 L98.0,307.3 L98.5,307.4 L99.0,307.4 L99.5,307.5 L100.0,307.5 L100.5,307.6 L101.0,307.6 L101.5,307.7 L102.0,307.8 L102.5,307.8 L103.0,307.9 L103.5,308.0 L104.0,308.0 L104.5,308.1 L105.0,308.2 L105.5,308.3 L106.0,308.4 L106.5,308.4 L107.0,308.5 L107.5,308.6 L108.0,308.7 L108.5,308.8 L109.0,308.8 L109.5,308.9 L110.0,309.0 L110.5,309.1 L111.0,309.2 L111.5,309.3 L112.0,309.4 L112.5,309.4 L113.0,309.5 L113.5,309.6 L114.0,309.7 L114.5,309.8 L115.0,309.9 L115.5,309.9 L116.0,310.0 L116.5,310.1 L117.0,310.2 L117.5,310.3 L118.0,310.4 L118.5,310.4 L119.0,310.5 L119.5,310.6 L120.0,310.7 L120.5,310.7 L121.0,310.8 L121.5,310.9 L122.0,311.0 L122.5,311.0 L123.0,311.1 L123.5,311.2 L124.0,311.2 L124.5,311.3 L125.0,311.4 L125.5,311.4 L126.0,311.5 L126.5,311.6 L127.0,311.6 L127.5,311.7 L128.0,311.7 L128.5,311.8 L129.0,311.8 L129.5,311.9 L130.0,311.9 L130.5,312.0 L131.0,312.0 L131.5,312.1 L132.0,312.1 L132.5,312.2 L133.0,312.2 L133.5,312.3 L134.0,312.3 L134.5,312.3 L135.0,312.4 L135.5,312.4 L136.0,312.5 L136.5,312.5 L137.0,312.5 L137.5,312.6 L138.0,312.6 L138.5,312.6 L139.0,312.7 L139.5,312.7 L140.0,312.7 L140.5,312.7 L141.0,312.8 L141.5,312.8 L142.0,312.8 L142.5,312.9 L143.0,312.9 L143.5,312.9 L144.0,312.9 L144.5,313.0 L145.0,313.0 L145.5,313.0 L146.0,313.0 L146.5,313.0 L147.0,313.1 L147.5,313.1 L148.0,313.1 L148.5,313.1 L149.0,313.1 L149.5,313.1 L150.0,313.2 L150.5,313.2 L151.0,313.2 L151.5,313.2 L152.0,313.2 L152.5,313.2 L153.0,313.2 L153.5,313.3 L154.0,313.3 L154.5,313.3 L155.0,313.3 L155.5,313.3 L156.0,313.3 L156.5,313.3 L157.0,313.3 L157.5,313.3 L158.0,313.3 L158.5,313.3 L159.0,313.3 L159.5,313.3 L160.0,313.3 L160.5,313.3 L161.0,313.3 L161.5,313.3 L162.0,313.3 L162.5,313.3 L163.0,313.3 L163.5,313.3 L164.0,313.3 L164.5,313.3 L165.0,313.2 L165.5,313.2 L166.0,313.2 L166.5,313.2 L167.0,313.2 L167.5,313.2 L168.0,313.2 L168.5,313.1 L169.0,313.1 L169.5,313.1 L170.0,313.1 L170.5,313.0 L171.0,313.0 L171.5,313.0 L172.0,313.0 L172.5,312.9 L173.0,312.9 L173.5,312.9 L174.0,312.9 L174.5,312.8 L175.0,312.8 L175.5,312.8 L176.0,312.8 L176.5,312.7 L177.0,312.7 L177.5,312.7 L178.0,312.7 L178.5,312.6 L179.0,312.6 L179.5,312.6 L180.0,312.6 L180.5,312.5 L181.0,312.5 L181.5,312.5 L182.0,312.5 L182.5,312.5 L183.0,312.5 L183.5,312.5 L184.0,312.5 L184.5,312.5 L185.0,312.5 L185.5,312.5 L186.0,312.5 L186.5,312.5 L187.0,312.5 L187.5,312.5 L188.0,312.5 L188.5,312.5 L189.0,312.5 L189.5,312.6 L190.0,312.6 L190.5,312.6 L191.0,312.6 L191.5,312.7 L192.0,312.7 L192.5,312.7 L193.0,312.8 L193.5,312.8 L194.0,312.8 L194.5,312.9 L195.0,312.9 L195.5,313.0 L196.0,313.0 L196.5,313.1 L197.0,313.1 L197.5,313.2 L198.0,313.2 L198.5,313.3 L199.0,313.3 L199.5,313.4 L200.0,313.5 L200.5,313.5 L201.0,313.6 L201.5,313.6 L202.0,313.7 L202.5,313.7 L203.0,313.8 L203.5,313.8 L204.0,313.9 L204.5,314.0 L205.0,314.0 L205.5,314.1 L206.0,314.1 L206.5,314.2 L207.0,314.2 L207.5,314.3 L208.0,314.3 L208.5,314.4 L209.0,314.4 L209.5,314.5 L210.0,314.5 L210.5,314.5 L211.0,314.6 L211.5,314.6 L212.0,314.7 L212.5,314.7 L213.0,314.7 L213.5,314.8 L214.0,314.8 L214.5,314.9 L215.0,314.9 L215.5,314.9 L216.0,315.0 L216.5,315.0 L217.0,315.0 L217.5,315.0 L218.0,315.1 L218.5,315.1 L219.0,315.1 L219.5,315.2 L220.0,315.2 L220.5,315.2 L221.0,315.2 L221.5,315.2 L222.0,315.3 L222.5,315.3 L223.0,315.3 L223.5,315.3 L224.0,315.4 L224.5,315.4 L225.0,315.4 L225.5,315.4 L226.0,315.4 L226.5,315.4 L227.0,315.5 L227.5,315.5 L228.0,315.5 L228.5,315.5 L229.0,315.5 L229.5,315.6 L230.0,315.6 L230.5,315.6 L231.0,315.6 L231.5,315.6 L232.0,315.6 L232.5,315.6 L233.0,315.7 L233.5,315.7 L234.0,315.7 L234.5,315.7 L235.0,315.7 L235.5,315.7 L236.0,315.8 L236.5,315.8 L237.0,315.8 L237.5,315.8 L238.0,315.8 L238.5,315.8 L239.0,315.8 L239.5,315.9 L240.0,315.9 L240.5,315.9 L241.0,315.9 L241.5,315.9 L242.0,315.9 L242.5,315.9 L243.0,316.0 L243.5,316.0 L244.0,316.0 L244.5,316.0 L245.0,316.0 L245.5,316.0 L246.0,316.0 L246.5,316.1 L247.0,316.1 L247.5,316.1 L248.0,316.1 L248.5,316.1 L249.0,316.1 L249.5,316.1 L250.0,316.2 L250.5,316.2 L251.0,316.2 L251.5,316.2 L252.0,316.2 L252.5,316.2 L253.0,316.3 L253.5,316.3 L254.0,316.3 L254.5,316.3 L254.7,316.3 L37.5,310.0 Z" fill="#d8a2c6" opacity="0.85"/>
<path d="M37.5,310.0 L38.0,310.0 L38.5,310.0 L39.0,310.0 L39.5,310.1 L40.0,310.1 L40.5,310.1 L41.0,310.1 L41.5,310.1 L42.0,310.1 L42.5,310.1 L43.0,310.2 L43.5,310.2 L44.0,310.2 L44.5,310.2 L45.0,310.2 L45.5,310.2 L46.0,310.2 L46.5,310.3 L47.0,310.3 L47.5,310.3 L48.0,310.3 L48.5,310.3 L49.0,310.3 L49.5,310.3 L50.0,310.4 L50.5,310.4 L51.0,310.4 L51.5,310.4 L52.0,310.4 L52.5,310.4 L53.0,310.4 L53.5,310.5 L54.0,310.5 L54.5,310.5 L55.0,310.5 L55.5,310.5 L56.0,310.5 L56.5,310.6 L57.0,310.6 L57.5,310.6 L58.0,310.6 L58.5,310.6 L59.0,310.6 L59.5,310.6 L60.0,310.7 L60.5,310.7 L61.0,310.7 L61.5,310.7 L62.0,310.7 L62.5,310.7 L63.0,310.7 L63.5,310.8 L64.0,310.8 L64.5,310.8 L65.0,310.8 L65.5,310.8 L66.0,310.8 L66.5,310.8 L67.0,310.9 L67.5,310.9 L68.0,310.9 L68.5,310.9 L69.0,310.9 L69.5,310.9 L70.0,310.9 L70.5,311.0 L71.0,311.0 L71.5,311.0 L72.0,311.0 L72.5,311.0 L73.0,311.0 L73.5,311.0 L74.0,311.1 L74.5,311.1 L75.0,311.1 L75.5,311.1 L76.0,311.1 L76.5,311.1 L77.0,311.1 L77.5,311.2 L78.0,311.2 L78.5,311.2 L79.0,311.2 L79.5,311.2 L80.0,311.2 L80.5,311.2 L81.0,311.3 L81.5,311.3 L82.0,311.3 L82.5,311.3 L83.0,311.3 L83.5,311.3 L84.0,311.3 L84.5,311.4 L85.0,311.4 L85.5,311.4 L86.0,311.4 L86.5,311.4 L87.0,311.4 L87.5,311.5 L88.0,311.5 L88.5,311.5 L89.0,311.5 L89.5,311.5 L90.0,311.5 L90.5,311.5 L91.0,311.6 L91.5,311.6 L92.0,311.6 L92.5,311.6 L93.0,311.6 L93.5,311.6 L94.0,311.6 L94.5,311.7 L95.0,311.7 L95.5,311.7 L96.0,311.7 L96.5,311.7 L97.0,311.7 L97.5,311.7 L98.0,311.8 L98.5,311.8 L99.0,311.8 L99.5,311.8 L100.0,311.8 L100.5,311.8 L101.0,311.8 L101.5,311.9 L102.0,311.9 L102.5,311.9 L103.0,311.9 L103.5,311.9 L104.0,311.9 L104.5,311.9 L105.0,312.0 L105.5,312.0 L106.0,312.0 L106.5,312.0 L107.0,312.0 L107.5,312.0 L108.0,312.0 L108.5,312.1 L109.0,312.1 L109.5,312.1 L110.0,312.1 L110.5,312.1 L111.0,312.1 L111.5,312.1 L112.0,312.2 L112.5,312.2 L113.0,312.2 L113.5,312.2 L114.0,312.2 L114.5,312.2 L115.0,312.2 L115.5,312.3 L116.0,312.3 L116.5,312.3 L117.0,312.3 L117.5,312.3 L118.0,312.3 L118.5,312.3 L119.0,312.4 L119.5,312.4 L120.0,312.4 L120.5,312.4 L121.0,312.4 L121.5,312.4 L122.0,312.5 L122.5,312.5 L123.0,312.5 L123.5,312.5 L124.0,312.5 L124.5,312.5 L125.0,312.5 L125.5,312.6 L126.0,312.6 L126.5,312.6 L127.0,312.6 L127.5,312.6 L128.0,312.6 L128.5,312.6 L129.0,312.7 L129.5,312.7 L130.0,312.7 L130.5,312.7 L131.0,312.7 L131.5,312.7 L132.0,312.7 L132.5,312.8 L133.0,312.8 L133.5,312.8 L134.0,312.8 L134.5,312.8 L135.0,312.8 L135.5,312.8 L136.0,312.9 L136.5,312.9 L137.0,312.9 L137.5,312.9 L138.0,312.9 L138.5,312.9 L139.0,312.9 L139.5,313.0 L140.0,313.0 L140.5,313.0 L141.0,313.0 L141.5,313.0 L142.0,313.0 L142.5,313.0 L143.0,313.1 L143.5,313.1 L144.0,313.1 L144.5,313.1 L145.0,313.1 L145.5,313.1 L146.0,313.1 L146.5,313.2 L147.0,313.2 L147.5,313.2 L148.0,313.2 L148.5,313.2 L149.0,313.2 L149.5,313.2 L150.0,313.3 L150.5,313.3 L151.0,313.3 L151.5,313.3 L152.0,313.3 L152.5,313.3 L153.0,313.4 L153.5,313.4 L154.0,313.4 L154.5,313.4 L155.0,313.4 L155.5,313.4 L156.0,313.4 L156.5,313.5 L157.0,313.5 L157.5,313.5 L158.0,313.5 L158.5,313.5 L159.0,313.5 L159.5,313.5 L160.0,313.6 L160.5,313.6 L161.0,313.6 L161.5,313.6 L162.0,313.6 L162.5,313.6 L163.0,313.6 L163.5,313.7 L164.0,313.7 L164.5,313.7 L165.0,313.7 L165.5,313.7 L166.0,313.7 L166.5,313.7 L167.0,313.8 L167.5,313.8 L168.0,313.8 L168.5,313.8 L169.0,313.8 L169.5,313.8 L170.0,313.8 L170.5,313.9 L171.0,313.9 L171.5,313.9 L172.0,313.9 L172.5,313.9 L173.0,313.9 L173.5,313.9 L174.0,314.0 L174.5,314.0 L175.0,314.0 L175.5,314.0 L176.0,314.0 L176.5,314.0 L177.0,314.0 L177.5,314.1 L178.0,314.1 L178.5,314.1 L179.0,314.1 L179.5,314.1 L180.0,314.1 L180.5,314.1 L181.0,314.2 L181.5,314.2 L182.0,314.2 L182.5,314.2 L183.0,314.2 L183.5,314.2 L184.0,314.2 L184.5,314.3 L185.0,314.3 L185.5,314.3 L186.0,314.3 L186.5,314.3 L187.0,314.3 L187.5,314.4 L188.0,314.4 L188.5,314.4 L189.0,314.4 L189.5,314.4 L190.0,314.4 L190.5,314.4 L191.0,314.5 L191.5,314.5 L192.0,314.5 L192.5,314.5 L193.0,314.5 L193.5,314.5 L194.0,314.5 L194.5,314.6 L195.0,314.6 L195.5,314.6 L196.0,314.6 L196.5,314.6 L197.0,314.6 L197.5,314.6 L198.0,314.7 L198.5,314.7 L199.0,314.7 L199.5,314.7 L200.0,314.7 L200.5,314.7 L201.0,314.7 L201.5,314.8 L202.0,314.8 L202.5,314.8 L203.0,314.8 L203.5,314.8 L204.0,314.8 L204.5,314.8 L205.0,314.9 L205.5,314.9 L206.0,314.9 L206.5,314.9 L207.0,314.9 L207.5,314.9 L208.0,314.9 L208.5,315.0 L209.0,315.0 L209.5,315.0 L210.0,315.0 L210.5,315.0 L211.0,315.0 L211.5,315.0 L212.0,315.1 L212.5,315.1 L213.0,315.1 L213.5,315.1 L214.0,315.1 L214.5,315.1 L215.0,315.1 L215.5,315.2 L216.0,315.2 L216.5,315.2 L217.0,315.2 L217.5,315.2 L218.0,315.2 L218.5,315.2 L219.0,315.3 L219.5,315.3 L220.0,315.3 L220.5,315.3 L221.0,315.3 L221.5,315.3 L222.0,315.4 L222.5,315.4 L223.0,315.4 L223.5,315.4 L224.0,315.4 L224.5,315.4 L225.0,315.4 L225.5,315.5 L226.0,315.5 L226.5,315.5 L227.0,315.5 L227.5,315.5 L228.0,315.5 L228.5,315.5 L229.0,315.6 L229.5,315.6 L230.0,315.6 L230.5,315.6 L231.0,315.6 L231.5,315.6 L232.0,315.6 L232.5,315.7 L233.0,315.7 L233.5,315.7 L234.0,315.7 L234.5,315.7 L235.0,315.7 L235.5,315.7 L236.0,315.8 L236.5,315.8 L237.0,315.8 L237.5,315.8 L238.0,315.8 L238.5,315.8 L239.0,315.8 L239.5,315.9 L240.0,315.9 L240.5,315.9 L241.0,315.9 L241.5,315.9 L242.0,315.9 L242.5,315.9 L243.0,316.0 L243.5,316.0 L244.0,316.0 L244.5,316.0 L245.0,316.0 L245.5,316.0 L246.0,316.0 L246.5,316.1 L247.0,316.1 L247.5,316.1 L248.0,316.1 L248.5,316.1 L249.0,316.1 L249.5,316.1 L250.0,316.2 L250.5,316.2 L251.0,316.2 L251.5,316.2 L252.0,316.2 L252.5,316.2 L253.0,316.3 L253.5,316.3 L254.0,316.3 L254.5,316.3" fill="none" stroke="#d4528a" stroke-width="1.7"/>
<path d="M37.5,309.0 L38.0,309.0 L38.5,308.7 L39.0,309.0 L39.5,309.0 L40.0,308.4 L40.5,308.8 L41.0,309.0 L41.5,308.8 L42.0,308.4 L42.5,308.8 L43.0,309.1 L43.5,309.3 L44.0,308.3 L44.5,309.5 L45.0,308.6 L45.5,309.1 L46.0,309.2 L46.5,309.1 L47.0,308.9 L47.5,308.5 L48.0,309.0 L48.5,308.6 L49.0,308.2 L49.5,309.5 L50.0,308.9 L50.5,309.2 L51.0,308.5 L51.5,309.1 L52.0,309.1 L52.5,309.0 L53.0,308.6 L53.5,308.3 L54.0,308.5 L54.5,308.0 L55.0,308.1 L55.5,308.5 L56.0,308.2 L56.5,308.4 L57.0,308.4 L57.5,308.8 L58.0,308.6 L58.5,308.3 L59.0,308.5 L59.5,308.0 L60.0,308.1 L60.5,308.3 L61.0,307.8 L61.5,308.0 L62.0,307.6 L62.5,308.0 L63.0,308.3 L63.5,307.6 L64.0,307.8 L64.5,307.5 L65.0,307.4 L65.5,307.3 L66.0,307.9 L66.5,308.1 L67.0,307.5 L67.5,307.2 L68.0,307.5 L68.5,307.1 L69.0,307.4 L69.5,307.2 L70.0,307.1 L70.5,307.1 L71.0,306.7 L71.5,306.7 L72.0,306.3 L72.5,306.6 L73.0,306.2 L73.5,306.5 L74.0,306.2 L74.5,306.4 L75.0,306.4 L75.5,305.9 L76.0,306.0 L76.5,305.9 L77.0,306.2 L77.5,306.4 L78.0,306.1 L78.5,305.7 L79.0,306.1 L79.5,305.3 L80.0,306.0 L80.5,305.4 L81.0,304.8 L81.5,306.1 L82.0,305.8 L82.5,305.1 L83.0,305.3 L83.5,305.1 L84.0,305.2 L84.5,304.7 L85.0,304.9 L85.5,305.1 L86.0,305.0 L86.5,305.2 L87.0,304.8 L87.5,305.4 L88.0,304.5 L88.5,304.7 L89.0,304.2 L89.5,304.3 L90.0,304.9 L90.5,304.3 L91.0,304.6 L91.5,304.4 L92.0,304.1 L92.5,304.3 L93.0,304.2 L93.5,304.1 L94.0,304.4 L94.5,304.3 L95.0,304.0 L95.5,303.9 L96.0,304.1 L96.5,304.0 L97.0,304.2 L97.5,304.6 L98.0,304.1 L98.5,303.8 L99.0,303.7 L99.5,303.5 L100.0,303.4 L100.5,303.3 L101.0,303.4 L101.5,303.3 L102.0,303.5 L102.5,303.1 L103.0,303.0 L103.5,302.7 L104.0,303.2 L104.5,302.8 L105.0,303.0 L105.5,302.5 L106.0,302.5 L106.5,301.9 L107.0,301.9 L107.5,302.1 L108.0,300.8 L108.5,301.1 L109.0,300.9 L109.5,300.2 L110.0,299.9 L110.5,299.5 L111.0,298.5 L111.5,298.3 L112.0,297.3 L112.5,296.7 L113.0,296.1 L113.5,295.4 L114.0,294.7 L114.5,293.9 L115.0,292.5 L115.5,292.4 L116.0,291.3 L116.5,290.2 L117.0,289.0 L117.5,288.1 L118.0,287.4 L118.5,286.7 L119.0,285.5 L119.5,285.7 L120.0,286.0 L120.5,284.8 L121.0,285.6 L121.5,285.7 L122.0,285.9 L122.5,286.7 L123.0,286.5 L123.5,287.5 L124.0,288.4 L124.5,288.7 L125.0,289.4 L125.5,290.3 L126.0,290.9 L126.5,292.2 L127.0,292.4 L127.5,293.6 L128.0,293.9 L128.5,295.1 L129.0,295.7 L129.5,295.7 L130.0,297.1 L130.5,297.5 L131.0,298.3 L131.5,299.4 L132.0,299.3 L132.5,299.8 L133.0,301.0 L133.5,301.2 L134.0,302.0 L134.5,302.1 L135.0,302.3 L135.5,302.9 L136.0,303.6 L136.5,303.9 L137.0,304.0 L137.5,304.3 L138.0,304.6 L138.5,304.7 L139.0,305.6 L139.5,305.4 L140.0,305.4 L140.5,305.8 L141.0,306.3 L141.5,306.5 L142.0,306.5 L142.5,306.5 L143.0,306.9 L143.5,306.6 L144.0,306.9 L144.5,307.6 L145.0,307.4 L145.5,307.7 L146.0,308.1 L146.5,308.1 L147.0,308.0 L147.5,308.7 L148.0,308.4 L148.5,308.2 L149.0,308.6 L149.5,308.6 L150.0,308.4 L150.5,308.7 L151.0,308.7 L151.5,308.3 L152.0,308.8 L152.5,308.9 L153.0,308.9 L153.5,308.6 L154.0,309.0 L154.5,309.1 L155.0,309.2 L155.5,308.9 L156.0,309.4 L156.5,309.0 L157.0,309.2 L157.5,309.7 L158.0,309.2 L158.5,309.2 L159.0,309.6 L159.5,309.3 L160.0,309.3 L160.5,309.4 L161.0,309.6 L161.5,308.8 L162.0,309.1 L162.5,309.1 L163.0,309.0 L163.5,309.1 L164.0,309.1 L164.5,309.3 L165.0,309.0 L165.5,309.2 L166.0,309.2 L166.5,308.9 L167.0,309.1 L167.5,309.4 L168.0,309.0 L168.5,308.7 L169.0,308.8 L169.5,308.5 L170.0,308.7 L170.5,308.8 L171.0,308.3 L171.5,308.4 L172.0,308.6 L172.5,308.1 L173.0,308.2 L173.5,307.8 L174.0,307.7 L174.5,307.7 L175.0,308.2 L175.5,307.4 L176.0,307.3 L176.5,307.1 L177.0,307.1 L177.5,307.1 L178.0,306.8 L178.5,307.1 L179.0,306.5 L179.5,306.6 L180.0,306.2 L180.5,306.0 L181.0,305.3 L181.5,305.4 L182.0,305.2 L182.5,304.9 L183.0,304.2 L183.5,304.7 L184.0,304.1 L184.5,303.8 L185.0,303.5 L185.5,303.2 L186.0,303.0 L186.5,302.2 L187.0,301.9 L187.5,301.7 L188.0,301.3 L188.5,300.6 L189.0,300.1 L189.5,299.5 L190.0,299.1 L190.5,298.8 L191.0,297.6 L191.5,297.5 L192.0,296.6 L192.5,295.5 L193.0,295.0 L193.5,293.5 L194.0,292.5 L194.5,291.7 L195.0,290.9 L195.5,289.8 L196.0,288.6 L196.5,287.6 L197.0,285.9 L197.5,285.4 L198.0,283.7 L198.5,282.7 L199.0,281.7 L199.5,280.4 L200.0,279.4 L200.5,278.6 L201.0,278.2 L201.5,277.8 L202.0,277.4 L202.5,276.8 L203.0,276.9 L203.5,277.2 L204.0,278.0 L204.5,278.0 L205.0,279.7 L205.5,280.2 L206.0,281.3 L206.5,282.8 L207.0,284.2 L207.5,285.3 L208.0,286.8 L208.5,288.0 L209.0,289.5 L209.5,290.8 L210.0,291.7 L210.5,293.3 L211.0,294.2 L211.5,295.2 L212.0,296.0 L212.5,297.1 L213.0,298.3 L213.5,298.7 L214.0,300.0 L214.5,300.7 L215.0,301.4 L215.5,301.5 L216.0,302.6 L216.5,303.4 L217.0,303.6 L217.5,304.4 L218.0,304.2 L218.5,305.5 L219.0,305.6 L219.5,306.4 L220.0,306.1 L220.5,307.1 L221.0,307.2 L221.5,307.8 L222.0,307.7 L222.5,308.0 L223.0,309.0 L223.5,308.5 L224.0,308.8 L224.5,309.1 L225.0,309.2 L225.5,309.9 L226.0,310.3 L226.5,309.8 L227.0,309.8 L227.5,310.7 L228.0,310.8 L228.5,310.9 L229.0,311.1 L229.5,310.8 L230.0,311.1 L230.5,310.9 L231.0,311.0 L231.5,311.8 L232.0,311.5 L232.5,312.3 L233.0,311.9 L233.5,311.8 L234.0,312.2 L234.5,312.6 L235.0,312.4 L235.5,312.0 L236.0,312.5 L236.5,312.8 L237.0,312.5 L237.5,312.5 L238.0,313.0 L238.5,312.8 L239.0,312.6 L239.5,312.8 L240.0,312.8 L240.5,313.2 L241.0,313.2 L241.5,313.5 L242.0,313.4 L242.5,312.9 L243.0,313.5 L243.5,313.7 L244.0,313.6 L244.5,313.8 L245.0,313.5 L245.5,313.4 L246.0,313.9 L246.5,313.5 L247.0,313.2 L247.5,314.1 L248.0,313.7 L248.5,313.8 L249.0,313.6 L249.5,313.7 L250.0,313.8 L250.5,314.0 L251.0,314.2 L251.5,313.6 L252.0,314.4 L252.5,314.0 L253.0,314.0 L253.5,314.5 L254.0,314.3 L254.5,314.0" fill="none" stroke="#999" stroke-width="0.7"/>
<path d="M37.5,309.6 L38.0,309.6 L38.5,309.6 L39.0,309.6 L39.5,309.6 L40.0,309.6 L40.5,309.6 L41.0,309.6 L41.5,309.6 L42.0,309.6 L42.5,309.6 L43.0,309.6 L43.5,309.6 L44.0,309.6 L44.5,309.6 L45.0,309.6 L45.5,309.6 L46.0,309.6 L46.5,309.5 L47.0,309.5 L47.5,309.5 L48.0,309.5 L48.5,309.5 L49.0,309.5 L49.5,309.5 L50.0,309.5 L50.5,309.4 L51.0,309.4 L51.5,309.4 L52.0,309.4 L52.5,309.4 L53.0,309.3 L53.5,309.3 L54.0,309.3 L54.5,309.3 L55.0,309.2 L55.5,309.2 L56.0,309.2 L56.5,309.1 L57.0,309.1 L57.5,309.1 L58.0,309.0 L58.5,309.0 L59.0,308.9 L59.5,308.9 L60.0,308.9 L60.5,308.8 L61.0,308.8 L61.5,308.7 L62.0,308.7 L62.5,308.6 L63.0,308.6 L63.5,308.5 L64.0,308.5 L64.5,308.4 L65.0,308.3 L65.5,308.3 L66.0,308.2 L66.5,308.2 L67.0,308.1 L67.5,308.0 L68.0,308.0 L68.5,307.9 L69.0,307.9 L69.5,307.8 L70.0,307.7 L70.5,307.7 L71.0,307.6 L71.5,307.5 L72.0,307.4 L72.5,307.4 L73.0,307.3 L73.5,307.2 L74.0,307.2 L74.5,307.1 L75.0,307.0 L75.5,307.0 L76.0,306.9 L76.5,306.8 L77.0,306.7 L77.5,306.7 L78.0,306.6 L78.5,306.5 L79.0,306.5 L79.5,306.4 L80.0,306.3 L80.5,306.3 L81.0,306.2 L81.5,306.1 L82.0,306.1 L82.5,306.0 L83.0,306.0 L83.5,305.9 L84.0,305.8 L84.5,305.8 L85.0,305.7 L85.5,305.7 L86.0,305.6 L86.5,305.6 L87.0,305.5 L87.5,305.5 L88.0,305.4 L88.5,305.4 L89.0,305.3 L89.5,305.3 L90.0,305.2 L90.5,305.2 L91.0,305.2 L91.5,305.1 L92.0,305.1 L92.5,305.0 L93.0,305.0 L93.5,305.0 L94.0,304.9 L94.5,304.9 L95.0,304.8 L95.5,304.8 L96.0,304.8 L96.5,304.7 L97.0,304.7 L97.5,304.6 L98.0,304.6 L98.5,304.5 L99.0,304.5 L99.5,304.4 L100.0,304.3 L100.5,304.3 L101.0,304.2 L101.5,304.1 L102.0,304.0 L102.5,303.9 L103.0,303.8 L103.5,303.7 L104.0,303.5 L104.5,303.4 L105.0,303.2 L105.5,303.0 L106.0,302.8 L106.5,302.6 L107.0,302.4 L107.5,302.1 L108.0,301.8 L108.5,301.5 L109.0,301.2 L109.5,300.8 L110.0,300.4 L110.5,299.9 L111.0,299.4 L111.5,298.9 L112.0,298.3 L112.5,297.6 L113.0,296.9 L113.5,296.2 L114.0,295.3 L114.5,294.5 L115.0,293.6 L115.5,292.6 L116.0,291.7 L116.5,290.7 L117.0,289.7 L117.5,288.8 L118.0,288.0 L118.5,287.3 L119.0,286.7 L119.5,286.2 L120.0,286.0 L120.5,285.9 L121.0,286.1 L121.5,286.3 L122.0,286.6 L122.5,287.0 L123.0,287.5 L123.5,288.1 L124.0,288.8 L124.5,289.5 L125.0,290.2 L125.5,291.0 L126.0,291.7 L126.5,292.5 L127.0,293.3 L127.5,294.1 L128.0,294.9 L128.5,295.6 L129.0,296.4 L129.5,297.1 L130.0,297.8 L130.5,298.5 L131.0,299.1 L131.5,299.7 L132.0,300.3 L132.5,300.8 L133.0,301.3 L133.5,301.8 L134.0,302.3 L134.5,302.8 L135.0,303.2 L135.5,303.6 L136.0,304.0 L136.5,304.3 L137.0,304.7 L137.5,305.0 L138.0,305.3 L138.5,305.6 L139.0,305.9 L139.5,306.1 L140.0,306.4 L140.5,306.6 L141.0,306.8 L141.5,307.0 L142.0,307.2 L142.5,307.4 L143.0,307.6 L143.5,307.7 L144.0,307.9 L144.5,308.1 L145.0,308.2 L145.5,308.3 L146.0,308.5 L146.5,308.6 L147.0,308.7 L147.5,308.8 L148.0,308.9 L148.5,309.0 L149.0,309.1 L149.5,309.2 L150.0,309.3 L150.5,309.4 L151.0,309.4 L151.5,309.5 L152.0,309.6 L152.5,309.6 L153.0,309.7 L153.5,309.7 L154.0,309.8 L154.5,309.8 L155.0,309.9 L155.5,309.9 L156.0,309.9 L156.5,310.0 L157.0,310.0 L157.5,310.0 L158.0,310.0 L158.5,310.1 L159.0,310.1 L159.5,310.1 L160.0,310.1 L160.5,310.1 L161.0,310.1 L161.5,310.1 L162.0,310.1 L162.5,310.0 L163.0,310.0 L163.5,310.0 L164.0,310.0 L164.5,309.9 L165.0,309.9 L165.5,309.9 L166.0,309.8 L166.5,309.8 L167.0,309.7 L167.5,309.7 L168.0,309.6 L168.5,309.6 L169.0,309.5 L169.5,309.4 L170.0,309.4 L170.5,309.3 L171.0,309.2 L171.5,309.1 L172.0,309.0 L172.5,308.9 L173.0,308.8 L173.5,308.7 L174.0,308.6 L174.5,308.5 L175.0,308.4 L175.5,308.2 L176.0,308.1 L176.5,308.0 L177.0,307.8 L177.5,307.7 L178.0,307.5 L178.5,307.3 L179.0,307.2 L179.5,307.0 L180.0,306.8 L180.5,306.6 L181.0,306.4 L181.5,306.1 L182.0,305.9 L182.5,305.7 L183.0,305.4 L183.5,305.1 L184.0,304.9 L184.5,304.6 L185.0,304.3 L185.5,303.9 L186.0,303.6 L186.5,303.2 L187.0,302.8 L187.5,302.4 L188.0,301.9 L188.5,301.4 L189.0,300.9 L189.5,300.4 L190.0,299.8 L190.5,299.2 L191.0,298.6 L191.5,297.9 L192.0,297.1 L192.5,296.3 L193.0,295.5 L193.5,294.6 L194.0,293.7 L194.5,292.7 L195.0,291.7 L195.5,290.6 L196.0,289.5 L196.5,288.3 L197.0,287.1 L197.5,285.9 L198.0,284.8 L198.5,283.6 L199.0,282.5 L199.5,281.4 L200.0,280.4 L200.5,279.6 L201.0,278.9 L201.5,278.3 L202.0,278.0 L202.5,277.8 L203.0,277.8 L203.5,278.1 L204.0,278.6 L204.5,279.2 L205.0,280.1 L205.5,281.1 L206.0,282.2 L206.5,283.4 L207.0,284.6 L207.5,286.0 L208.0,287.3 L208.5,288.6 L209.0,289.9 L209.5,291.2 L210.0,292.5 L210.5,293.7 L211.0,294.8 L211.5,295.9 L212.0,296.9 L212.5,297.9 L213.0,298.8 L213.5,299.7 L214.0,300.5 L214.5,301.3 L215.0,302.0 L215.5,302.7 L216.0,303.4 L216.5,304.0 L217.0,304.5 L217.5,305.0 L218.0,305.5 L218.5,306.0 L219.0,306.4 L219.5,306.9 L220.0,307.2 L220.5,307.6 L221.0,308.0 L221.5,308.3 L222.0,308.6 L222.5,308.9 L223.0,309.2 L223.5,309.4 L224.0,309.7 L224.5,309.9 L225.0,310.1 L225.5,310.3 L226.0,310.5 L226.5,310.7 L227.0,310.9 L227.5,311.1 L228.0,311.2 L228.5,311.4 L229.0,311.5 L229.5,311.7 L230.0,311.8 L230.5,312.0 L231.0,312.1 L231.5,312.2 L232.0,312.3 L232.5,312.4 L233.0,312.5 L233.5,312.6 L234.0,312.7 L234.5,312.8 L235.0,312.9 L235.5,313.0 L236.0,313.1 L236.5,313.2 L237.0,313.3 L237.5,313.4 L238.0,313.4 L238.5,313.5 L239.0,313.6 L239.5,313.6 L240.0,313.7 L240.5,313.8 L241.0,313.8 L241.5,313.9 L242.0,314.0 L242.5,314.0 L243.0,314.1 L243.5,314.1 L244.0,314.2 L244.5,314.2 L245.0,314.3 L245.5,314.3 L246.0,314.4 L246.5,314.4 L247.0,314.5 L247.5,314.5 L248.0,314.6 L248.5,314.6 L249.0,314.7 L249.5,314.7 L250.0,314.8 L250.5,314.8 L251.0,314.8 L251.5,314.9 L252.0,314.9 L252.5,314.9 L253.0,315.0 L253.5,315.0 L254.0,315.1 L254.5,315.1" fill="none" stroke="#4a63dd" stroke-width="1.1"/>
<text x="48.4" y="296.8" font-size="8.6" fill="#4a63dd" text-anchor="start" font-weight="normal"  stroke="#4a63dd" stroke-width="0.15">RuPd<tspan font-size="5.5">2</tspan></text>
<path d="M108.0,355.8 L108.5,355.6 L109.0,355.4 L109.5,355.1 L110.0,354.8 L110.5,354.5 L111.0,354.2 L111.5,353.8 L112.0,353.4 L112.5,353.0 L113.0,352.5 L113.5,352.0 L114.0,351.5 L114.5,350.9 L115.0,350.3 L115.5,349.6 L116.0,348.9 L116.5,348.2 L117.0,347.5 L117.5,346.7 L118.0,345.8 L118.5,345.0 L119.0,344.1 L119.5,343.3 L120.0,342.4 L120.5,341.5 L121.0,340.6 L121.5,339.7 L122.0,338.9 L122.5,338.1 L123.0,337.4 L123.5,336.7 L124.0,336.1 L124.5,335.7 L125.0,335.3 L125.5,335.0 L126.0,334.9 L126.5,334.9 L127.0,335.1 L127.5,335.4 L128.0,335.8 L128.5,336.3 L129.0,337.0 L129.5,337.7 L130.0,338.6 L130.5,339.4 L131.0,340.4 L131.5,341.4 L132.0,342.4 L132.5,343.4 L133.0,344.4 L133.5,345.4 L134.0,346.4 L134.5,347.4 L135.0,348.3 L135.5,349.2 L136.0,350.1 L136.5,350.9 L137.0,351.7 L137.5,352.5 L138.0,353.2 L138.5,353.9 L139.0,354.5 L139.5,355.1 L140.0,355.7 L140.5,356.2 L141.0,356.7 L141.5,357.1 L142.0,357.6 L142.5,357.9 L143.0,358.3 L143.5,358.6 L144.0,358.9 L144.5,359.2 L145.0,359.5 L145.5,359.7 L145.5,364.0 L145.0,364.0 L144.5,363.9 L144.0,363.9 L143.5,363.9 L143.0,363.9 L142.5,363.9 L142.0,363.9 L141.5,363.9 L141.0,363.8 L140.5,363.8 L140.0,363.8 L139.5,363.8 L139.0,363.8 L138.5,363.8 L138.0,363.7 L137.5,363.7 L137.0,363.7 L136.5,363.7 L136.0,363.7 L135.5,363.7 L135.0,363.6 L134.5,363.6 L134.0,363.6 L133.5,363.6 L133.0,363.6 L132.5,363.6 L132.0,363.5 L131.5,363.5 L131.0,363.5 L130.5,363.5 L130.0,363.5 L129.5,363.5 L129.0,363.4 L128.5,363.4 L128.0,363.4 L127.5,363.4 L127.0,363.4 L126.5,363.4 L126.0,363.4 L125.5,363.3 L125.0,363.3 L124.5,363.3 L124.0,363.3 L123.5,363.3 L123.0,363.3 L122.5,363.2 L122.0,363.2 L121.5,363.2 L121.0,363.2 L120.5,363.2 L120.0,363.2 L119.5,363.1 L119.0,363.1 L118.5,363.1 L118.0,363.1 L117.5,363.1 L117.0,363.1 L116.5,363.0 L116.0,363.0 L115.5,363.0 L115.0,363.0 L114.5,363.0 L114.0,363.0 L113.5,362.9 L113.0,362.9 L112.5,362.9 L112.0,362.9 L111.5,362.9 L111.0,362.9 L110.5,362.9 L110.0,362.8 L109.5,362.8 L109.0,362.8 L108.5,362.8 L108.0,362.8 Z" fill="#acdaeb"/>
<path d="M193.0,352.7 L193.5,352.2 L194.0,351.8 L194.5,351.3 L195.0,350.7 L195.5,350.1 L196.0,349.5 L196.5,348.8 L197.0,348.1 L197.5,347.3 L198.0,346.4 L198.5,345.5 L199.0,344.5 L199.5,343.5 L200.0,342.4 L200.5,341.2 L201.0,340.0 L201.5,338.7 L202.0,337.4 L202.5,336.1 L203.0,334.8 L203.5,333.5 L204.0,332.2 L204.5,330.9 L205.0,329.7 L205.5,328.6 L206.0,327.6 L206.5,326.8 L207.0,326.2 L207.5,325.8 L208.0,325.6 L208.5,325.7 L209.0,325.9 L209.5,326.5 L210.0,327.2 L210.5,328.2 L211.0,329.3 L211.5,330.6 L212.0,332.0 L212.5,333.5 L213.0,335.1 L213.5,336.7 L214.0,338.3 L214.5,339.9 L215.0,341.5 L215.5,343.1 L216.0,344.6 L216.5,346.1 L217.0,347.5 L217.5,348.9 L218.0,350.1 L218.5,351.4 L219.0,352.5 L219.5,353.6 L220.0,354.6 L220.5,355.5 L221.0,356.3 L221.5,357.1 L222.0,357.9 L222.5,358.5 L223.0,359.1 L223.5,359.7 L224.0,360.2 L224.5,360.7 L225.0,361.1 L225.5,361.5 L226.0,361.8 L226.5,362.2 L227.0,362.4 L227.5,362.7 L228.0,363.0 L228.5,363.2 L229.0,363.4 L229.5,363.6 L230.0,363.7 L230.5,363.9 L231.0,364.1 L231.5,364.2 L232.0,364.3 L232.5,364.4 L233.0,364.6 L233.5,364.7 L234.0,364.8 L234.5,364.9 L235.0,364.9 L235.5,365.0 L236.0,365.1 L236.5,365.2 L237.0,365.3 L237.5,365.3 L238.0,365.4 L238.5,365.5 L239.0,365.5 L239.5,365.6 L240.0,365.7 L240.5,365.7 L241.0,365.8 L241.5,365.8 L242.0,365.9 L242.5,365.9 L242.5,367.1 L242.0,367.1 L241.5,367.1 L241.0,367.1 L240.5,367.0 L240.0,367.0 L239.5,367.0 L239.0,367.0 L238.5,367.0 L238.0,367.0 L237.5,366.9 L237.0,366.9 L236.5,366.9 L236.0,366.9 L235.5,366.9 L235.0,366.9 L234.5,366.8 L234.0,366.8 L233.5,366.8 L233.0,366.8 L232.5,366.8 L232.0,366.8 L231.5,366.8 L231.0,366.7 L230.5,366.7 L230.0,366.7 L229.5,366.7 L229.0,366.7 L228.5,366.7 L228.0,366.6 L227.5,366.6 L227.0,366.6 L226.5,366.6 L226.0,366.6 L225.5,366.6 L225.0,366.5 L224.5,366.5 L224.0,366.5 L223.5,366.5 L223.0,366.5 L222.5,366.5 L222.0,366.4 L221.5,366.4 L221.0,366.4 L220.5,366.4 L220.0,366.4 L219.5,366.4 L219.0,366.3 L218.5,366.3 L218.0,366.3 L217.5,366.3 L217.0,366.3 L216.5,366.3 L216.0,366.3 L215.5,366.2 L215.0,366.2 L214.5,366.2 L214.0,366.2 L213.5,366.2 L213.0,366.2 L212.5,366.1 L212.0,366.1 L211.5,366.1 L211.0,366.1 L210.5,366.1 L210.0,366.1 L209.5,366.0 L209.0,366.0 L208.5,366.0 L208.0,366.0 L207.5,366.0 L207.0,366.0 L206.5,365.9 L206.0,365.9 L205.5,365.9 L205.0,365.9 L204.5,365.9 L204.0,365.9 L203.5,365.8 L203.0,365.8 L202.5,365.8 L202.0,365.8 L201.5,365.8 L201.0,365.8 L200.5,365.8 L200.0,365.7 L199.5,365.7 L199.0,365.7 L198.5,365.7 L198.0,365.7 L197.5,365.7 L197.0,365.6 L196.5,365.6 L196.0,365.6 L195.5,365.6 L195.0,365.6 L194.5,365.6 L194.0,365.5 L193.5,365.5 L193.0,365.5 Z" fill="#acdaeb"/>
<path d="M62.0,361.0 L62.5,361.0 L63.0,361.0 L63.5,361.0 L64.0,361.0 L64.5,361.0 L65.0,361.1 L65.5,361.1 L66.0,361.1 L66.5,361.1 L67.0,361.1 L67.5,361.1 L68.0,361.1 L68.5,361.1 L69.0,361.1 L69.5,361.1 L70.0,361.2 L70.5,361.2 L71.0,361.2 L71.5,361.2 L72.0,361.2 L72.5,361.2 L73.0,361.2 L73.5,361.2 L74.0,361.2 L74.5,361.2 L75.0,361.2 L75.5,361.2 L76.0,361.3 L76.5,361.3 L77.0,361.3 L77.5,361.3 L78.0,361.3 L78.5,361.3 L79.0,361.3 L79.5,361.3 L80.0,361.3 L80.5,361.3 L81.0,361.3 L81.5,361.3 L82.0,361.3 L82.5,361.3 L83.0,361.3 L83.5,361.3 L84.0,361.3 L84.5,361.3 L85.0,361.3 L85.5,361.3 L86.0,361.3 L86.5,361.3 L87.0,361.3 L87.5,361.3 L88.0,361.3 L88.5,361.3 L89.0,361.3 L89.5,361.3 L90.0,361.3 L90.5,361.3 L91.0,361.3 L91.5,361.3 L92.0,361.2 L92.5,361.2 L93.0,361.2 L93.5,361.2 L94.0,361.2 L94.5,361.2 L95.0,361.2 L95.5,361.1 L96.0,361.1 L96.5,361.1 L97.0,361.1 L97.5,361.0 L98.0,361.0 L98.5,361.0 L99.0,360.9 L99.5,360.9 L100.0,360.8 L100.5,360.8 L101.0,360.7 L101.5,360.7 L102.0,360.6 L102.5,360.5 L103.0,360.5 L103.5,360.4 L104.0,360.3 L104.5,360.2 L105.0,360.0 L105.5,359.9 L106.0,359.8 L106.5,359.6 L107.0,359.4 L107.5,359.2 L108.0,359.0 L108.5,358.8 L109.0,358.5 L109.5,358.3 L110.0,358.0 L110.5,357.6 L111.0,357.3 L111.5,356.9 L112.0,356.4 L112.5,356.0 L113.0,355.5 L113.5,354.9 L114.0,354.4 L114.5,353.7 L115.0,353.1 L115.5,352.4 L116.0,351.7 L116.5,350.9 L117.0,350.1 L117.5,349.3 L118.0,348.5 L118.5,347.6 L119.0,346.7 L119.5,345.8 L120.0,344.9 L120.5,343.9 L121.0,343.0 L121.5,342.1 L122.0,341.3 L122.5,340.4 L123.0,339.7 L123.5,339.0 L124.0,338.4 L124.5,337.9 L125.0,337.5 L125.5,337.2 L126.0,337.0 L126.5,337.0 L127.0,337.1 L127.5,337.4 L128.0,337.7 L128.5,338.3 L129.0,338.9 L129.5,339.6 L130.0,340.4 L130.5,341.3 L131.0,342.2 L131.5,343.1 L132.0,344.1 L132.5,345.1 L133.0,346.1 L133.5,347.1 L134.0,348.0 L134.5,349.0 L135.0,349.9 L135.5,350.8 L136.0,351.6 L136.5,352.4 L137.0,353.2 L137.5,353.9 L138.0,354.6 L138.5,355.3 L139.0,355.9 L139.5,356.5 L140.0,357.0 L140.5,357.5 L141.0,358.0 L141.5,358.4 L142.0,358.8 L142.5,359.2 L143.0,359.5 L143.5,359.8 L144.0,360.1 L144.5,360.3 L145.0,360.6 L145.5,360.8 L146.0,361.0 L146.5,361.2 L147.0,361.4 L147.5,361.5 L148.0,361.7 L148.5,361.8 L149.0,361.9 L149.5,362.0 L150.0,362.2 L150.5,362.3 L151.0,362.4 L151.5,362.4 L152.0,362.5 L152.5,362.6 L153.0,362.7 L153.5,362.7 L154.0,362.8 L154.5,362.9 L155.0,362.9 L155.5,363.0 L156.0,363.1 L156.5,363.1 L157.0,363.2 L157.5,363.2 L158.0,363.3 L158.5,363.3 L159.0,363.4 L159.5,363.4 L160.0,363.5 L160.5,363.5 L161.0,363.5 L161.5,363.6 L162.0,363.6 L162.5,363.7 L163.0,363.7 L163.5,363.7 L164.0,363.8 L164.5,363.8 L165.0,363.8 L165.5,363.9 L166.0,363.9 L166.5,363.9 L167.0,364.0 L167.5,364.0 L168.0,364.0 L168.5,364.1 L169.0,364.1 L169.5,364.1 L170.0,364.2 L170.5,364.2 L171.0,364.2 L171.5,364.3 L172.0,364.3 L172.5,364.3 L173.0,364.3 L173.5,364.4 L174.0,364.4 L174.5,364.4 L175.0,364.4 L175.5,364.5 L176.0,364.5 L176.5,364.5 L177.0,364.5 L177.5,364.6 L178.0,364.6 L178.5,364.6 L179.0,364.6 L179.5,364.7 L180.0,364.7 L180.5,364.7 L181.0,364.7 L181.5,364.8 L182.0,364.8 L182.5,364.8 L183.0,364.8 L183.5,364.8 L184.0,364.9 L184.5,364.9 L185.0,364.9 L185.5,364.9 L186.0,365.0 L186.5,365.0 L187.0,365.0 L187.5,365.0 L188.0,365.0 L188.5,365.1" fill="none" stroke="#7a8a98" stroke-width="0.45"/>
<path d="M143.5,363.6 L144.0,363.6 L144.5,363.6 L145.0,363.6 L145.5,363.7 L146.0,363.7 L146.5,363.7 L147.0,363.7 L147.5,363.7 L148.0,363.7 L148.5,363.7 L149.0,363.7 L149.5,363.7 L150.0,363.8 L150.5,363.8 L151.0,363.8 L151.5,363.8 L152.0,363.8 L152.5,363.8 L153.0,363.8 L153.5,363.8 L154.0,363.8 L154.5,363.8 L155.0,363.8 L155.5,363.9 L156.0,363.9 L156.5,363.9 L157.0,363.9 L157.5,363.9 L158.0,363.9 L158.5,363.9 L159.0,363.9 L159.5,363.9 L160.0,363.9 L160.5,363.9 L161.0,363.9 L161.5,363.9 L162.0,363.9 L162.5,363.9 L163.0,363.9 L163.5,363.9 L164.0,363.9 L164.5,363.9 L165.0,363.9 L165.5,363.9 L166.0,363.9 L166.5,363.9 L167.0,363.9 L167.5,363.9 L168.0,363.9 L168.5,363.9 L169.0,363.9 L169.5,363.9 L170.0,363.9 L170.5,363.9 L171.0,363.9 L171.5,363.9 L172.0,363.9 L172.5,363.9 L173.0,363.9 L173.5,363.9 L174.0,363.9 L174.5,363.9 L175.0,363.8 L175.5,363.8 L176.0,363.8 L176.5,363.8 L177.0,363.8 L177.5,363.7 L178.0,363.7 L178.5,363.7 L179.0,363.7 L179.5,363.6 L180.0,363.6 L180.5,363.6 L181.0,363.5 L181.5,363.5 L182.0,363.5 L182.5,363.4 L183.0,363.4 L183.5,363.3 L184.0,363.2 L184.5,363.2 L185.0,363.1 L185.5,363.0 L186.0,363.0 L186.5,362.9 L187.0,362.8 L187.5,362.6 L188.0,362.5 L188.5,362.4 L189.0,362.2 L189.5,362.1 L190.0,361.9 L190.5,361.6 L191.0,361.4 L191.5,361.1 L192.0,360.8 L192.5,360.5 L193.0,360.1 L193.5,359.7 L194.0,359.3 L194.5,358.8 L195.0,358.2 L195.5,357.6 L196.0,356.9 L196.5,356.2 L197.0,355.4 L197.5,354.5 L198.0,353.6 L198.5,352.6 L199.0,351.5 L199.5,350.3 L200.0,349.1 L200.5,347.9 L201.0,346.5 L201.5,345.1 L202.0,343.7 L202.5,342.3 L203.0,340.8 L203.5,339.3 L204.0,337.9 L204.5,336.4 L205.0,335.1 L205.5,333.8 L206.0,332.7 L206.5,331.7 L207.0,331.0 L207.5,330.4 L208.0,330.0 L208.5,329.9 L209.0,330.1 L209.5,330.4 L210.0,331.0 L210.5,331.8 L211.0,332.8 L211.5,333.9 L212.0,335.2 L212.5,336.6 L213.0,338.0 L213.5,339.4 L214.0,340.9 L214.5,342.4 L215.0,343.9 L215.5,345.3 L216.0,346.7 L216.5,348.1 L217.0,349.4 L217.5,350.6 L218.0,351.8 L218.5,352.9 L219.0,354.0 L219.5,354.9 L220.0,355.8 L220.5,356.7 L221.0,357.5 L221.5,358.2 L222.0,358.8 L222.5,359.4 L223.0,360.0 L223.5,360.5 L224.0,361.0 L224.5,361.4 L225.0,361.8 L225.5,362.1 L226.0,362.4 L226.5,362.7 L227.0,362.9 L227.5,363.2 L228.0,363.4 L228.5,363.6 L229.0,363.8 L229.5,363.9 L230.0,364.1 L230.5,364.2 L231.0,364.3 L231.5,364.5 L232.0,364.6 L232.5,364.7 L233.0,364.8 L233.5,364.9 L234.0,365.0 L234.5,365.0 L235.0,365.1 L235.5,365.2 L236.0,365.3 L236.5,365.3 L237.0,365.4 L237.5,365.5 L238.0,365.5 L238.5,365.6 L239.0,365.7 L239.5,365.7 L240.0,365.8 L240.5,365.8 L241.0,365.9 L241.5,365.9 L242.0,366.0 L242.5,366.0 L243.0,366.1 L243.5,366.1 L244.0,366.2 L244.5,366.2 L245.0,366.2 L245.5,366.3 L246.0,366.3 L246.5,366.4 L247.0,366.4 L247.5,366.4 L248.0,366.5 L248.5,366.5 L249.0,366.5 L249.5,366.6 L250.0,366.6 L250.5,366.6 L251.0,366.7 L251.5,366.7 L252.0,366.7 L252.5,366.8 L253.0,366.8 L253.5,366.8 L254.0,366.9 L254.5,366.9" fill="none" stroke="#7a8a98" stroke-width="0.45"/>
<path d="M37.5,359.8 L38.0,359.8 L38.5,359.8 L39.0,359.8 L39.5,359.8 L40.0,359.7 L40.5,359.7 L41.0,359.7 L41.5,359.7 L42.0,359.7 L42.5,359.7 L43.0,359.7 L43.5,359.7 L44.0,359.7 L44.5,359.7 L45.0,359.7 L45.5,359.6 L46.0,359.6 L46.5,359.6 L47.0,359.6 L47.5,359.6 L48.0,359.6 L48.5,359.6 L49.0,359.6 L49.5,359.5 L50.0,359.5 L50.5,359.5 L51.0,359.5 L51.5,359.5 L52.0,359.5 L52.5,359.4 L53.0,359.4 L53.5,359.4 L54.0,359.4 L54.5,359.4 L55.0,359.4 L55.5,359.3 L56.0,359.3 L56.5,359.3 L57.0,359.3 L57.5,359.3 L58.0,359.2 L58.5,359.2 L59.0,359.2 L59.5,359.2 L60.0,359.2 L60.5,359.2 L61.0,359.1 L61.5,359.1 L62.0,359.1 L62.5,359.1 L63.0,359.1 L63.5,359.0 L64.0,359.0 L64.5,359.0 L65.0,359.0 L65.5,359.0 L66.0,358.9 L66.5,358.9 L67.0,358.9 L67.5,358.9 L68.0,358.9 L68.5,358.9 L69.0,358.8 L69.5,358.8 L70.0,358.8 L70.5,358.8 L71.0,358.8 L71.5,358.8 L72.0,358.7 L72.5,358.7 L73.0,358.7 L73.5,358.7 L74.0,358.7 L74.5,358.7 L75.0,358.7 L75.5,358.7 L76.0,358.6 L76.5,358.6 L77.0,358.6 L77.5,358.6 L78.0,358.6 L78.5,358.6 L79.0,358.6 L79.5,358.6 L80.0,358.6 L80.5,358.6 L81.0,358.6 L81.5,358.6 L82.0,358.6 L82.5,358.6 L83.0,358.6 L83.5,358.6 L84.0,358.6 L84.5,358.6 L85.0,358.6 L85.5,358.6 L86.0,358.6 L86.5,358.6 L87.0,358.6 L87.5,358.6 L88.0,358.6 L88.5,358.6 L89.0,358.6 L89.5,358.6 L90.0,358.7 L90.5,358.7 L91.0,358.7 L91.5,358.7 L92.0,358.7 L92.5,358.7 L93.0,358.7 L93.5,358.8 L94.0,358.8 L94.5,358.8 L95.0,358.8 L95.5,358.8 L96.0,358.9 L96.5,358.9 L97.0,358.9 L97.5,358.9 L98.0,359.0 L98.5,359.0 L99.0,359.0 L99.5,359.1 L100.0,359.1 L100.5,359.1 L101.0,359.1 L101.5,359.2 L102.0,359.2 L102.5,359.2 L103.0,359.3 L103.5,359.3 L104.0,359.4 L104.5,359.4 L105.0,359.4 L105.5,359.5 L106.0,359.5 L106.5,359.6 L107.0,359.6 L107.5,359.6 L108.0,359.7 L108.5,359.7 L109.0,359.8 L109.5,359.8 L110.0,359.9 L110.5,359.9 L111.0,359.9 L111.5,360.0 L112.0,360.0 L112.5,360.1 L113.0,360.1 L113.5,360.2 L114.0,360.2 L114.5,360.3 L115.0,360.3 L115.5,360.4 L116.0,360.4 L116.5,360.5 L117.0,360.5 L117.5,360.6 L118.0,360.6 L118.5,360.7 L119.0,360.7 L119.5,360.8 L120.0,360.8 L120.5,360.9 L121.0,360.9 L121.5,361.0 L122.0,361.0 L122.5,361.1 L123.0,361.1 L123.5,361.2 L124.0,361.2 L124.5,361.3 L125.0,361.3 L125.5,361.4 L126.0,361.4 L126.5,361.5 L127.0,361.5 L127.5,361.6 L128.0,361.6 L128.5,361.7 L129.0,361.7 L129.5,361.8 L130.0,361.8 L130.5,361.9 L131.0,361.9 L131.5,362.0 L132.0,362.0 L132.5,362.1 L133.0,362.1 L133.5,362.2 L134.0,362.2 L134.5,362.3 L135.0,362.3 L135.5,362.4 L136.0,362.4 L136.5,362.5 L137.0,362.5 L137.5,362.5 L138.0,362.6 L138.5,362.6 L139.0,362.7 L139.5,362.7 L140.0,362.8 L140.5,362.8 L141.0,362.8 L141.5,362.9 L142.0,362.9 L142.5,363.0 L143.0,363.0 L143.5,363.0 L144.0,363.1 L144.5,363.1 L145.0,363.2 L145.5,363.2 L146.0,363.2 L146.5,363.3 L147.0,363.3 L147.5,363.3 L148.0,363.4 L148.5,363.4 L149.0,363.4 L149.5,363.5 L150.0,363.5 L150.5,363.5 L151.0,363.6 L151.5,363.6 L152.0,363.6 L152.5,363.6 L153.0,363.7 L153.5,363.7 L154.0,363.7 L154.5,363.7 L155.0,363.7 L155.5,363.8 L156.0,363.8 L156.5,363.8 L157.0,363.8 L157.5,363.8 L158.0,363.8 L158.5,363.8 L159.0,363.8 L159.5,363.8 L160.0,363.8 L160.5,363.8 L161.0,363.8 L161.5,363.8 L162.0,363.8 L162.5,363.8 L163.0,363.8 L163.5,363.7 L164.0,363.7 L164.5,363.7 L165.0,363.7 L165.5,363.6 L166.0,363.6 L166.5,363.5 L167.0,363.5 L167.5,363.4 L168.0,363.4 L168.5,363.3 L169.0,363.3 L169.5,363.2 L170.0,363.1 L170.5,363.0 L171.0,363.0 L171.5,362.9 L172.0,362.8 L172.5,362.7 L173.0,362.6 L173.5,362.5 L174.0,362.4 L174.5,362.2 L175.0,362.1 L175.5,362.0 L176.0,361.9 L176.5,361.8 L177.0,361.6 L177.5,361.5 L178.0,361.3 L178.5,361.2 L179.0,361.1 L179.5,360.9 L180.0,360.8 L180.5,360.6 L181.0,360.5 L181.5,360.4 L182.0,360.2 L182.5,360.1 L183.0,359.9 L183.5,359.8 L184.0,359.7 L184.5,359.5 L185.0,359.4 L185.5,359.3 L186.0,359.2 L186.5,359.1 L187.0,359.0 L187.5,358.9 L188.0,358.8 L188.5,358.7 L189.0,358.6 L189.5,358.5 L190.0,358.5 L190.5,358.4 L191.0,358.4 L191.5,358.3 L192.0,358.3 L192.5,358.3 L193.0,358.3 L193.5,358.3 L194.0,358.3 L194.5,358.3 L195.0,358.4 L195.5,358.4 L196.0,358.5 L196.5,358.5 L197.0,358.6 L197.5,358.7 L198.0,358.7 L198.5,358.8 L199.0,358.9 L199.5,359.1 L200.0,359.2 L200.5,359.3 L201.0,359.4 L201.5,359.6 L202.0,359.7 L202.5,359.9 L203.0,360.0 L203.5,360.2 L204.0,360.4 L204.5,360.5 L205.0,360.7 L205.5,360.9 L206.0,361.0 L206.5,361.2 L207.0,361.4 L207.5,361.6 L208.0,361.7 L208.5,361.9 L209.0,362.1 L209.5,362.3 L210.0,362.4 L210.5,362.6 L211.0,362.8 L211.5,363.0 L212.0,363.1 L212.5,363.3 L213.0,363.4 L213.5,363.6 L214.0,363.7 L214.5,363.9 L215.0,364.0 L215.5,364.2 L216.0,364.3 L216.5,364.4 L217.0,364.6 L217.5,364.7 L218.0,364.8 L218.5,364.9 L219.0,365.0 L219.5,365.1 L220.0,365.2 L220.5,365.3 L221.0,365.4 L221.5,365.5 L222.0,365.6 L222.5,365.7 L223.0,365.7 L223.5,365.8 L224.0,365.9 L224.5,365.9 L225.0,366.0 L225.5,366.1 L226.0,366.1 L226.5,366.2 L227.0,366.2 L227.5,366.3 L228.0,366.3 L228.5,366.4 L229.0,366.4 L229.5,366.4 L230.0,366.5 L230.5,366.5 L231.0,366.6 L231.5,366.6 L232.0,366.6 L232.5,366.7 L233.0,366.7 L233.5,366.7 L234.0,366.7 L234.5,366.8 L235.0,366.8 L235.5,366.8 L236.0,366.8 L236.5,366.9 L237.0,366.9 L237.5,366.9 L238.0,366.9 L238.5,366.9 L239.0,367.0 L239.5,367.0 L240.0,367.0 L240.5,367.0 L241.0,367.0 L241.5,367.1 L242.0,367.1 L242.5,367.1 L243.0,367.1 L243.5,367.1 L244.0,367.1 L244.5,367.2 L245.0,367.2 L245.5,367.2 L246.0,367.2 L246.5,367.2 L247.0,367.2 L247.5,367.3 L248.0,367.3 L248.5,367.3 L249.0,367.3 L249.5,367.3 L250.0,367.3 L250.5,367.4 L251.0,367.4 L251.5,367.4 L252.0,367.4 L252.5,367.4 L253.0,367.4 L253.5,367.5 L254.0,367.5 L254.5,367.5 L254.7,367.5 L37.5,360.5 Z" fill="#d8a2c6" opacity="0.85"/>
<path d="M37.5,360.5 L38.0,360.5 L38.5,360.5 L39.0,360.5 L39.5,360.6 L40.0,360.6 L40.5,360.6 L41.0,360.6 L41.5,360.6 L42.0,360.6 L42.5,360.7 L43.0,360.7 L43.5,360.7 L44.0,360.7 L44.5,360.7 L45.0,360.7 L45.5,360.8 L46.0,360.8 L46.5,360.8 L47.0,360.8 L47.5,360.8 L48.0,360.8 L48.5,360.9 L49.0,360.9 L49.5,360.9 L50.0,360.9 L50.5,360.9 L51.0,360.9 L51.5,361.0 L52.0,361.0 L52.5,361.0 L53.0,361.0 L53.5,361.0 L54.0,361.0 L54.5,361.0 L55.0,361.1 L55.5,361.1 L56.0,361.1 L56.5,361.1 L57.0,361.1 L57.5,361.1 L58.0,361.2 L58.5,361.2 L59.0,361.2 L59.5,361.2 L60.0,361.2 L60.5,361.2 L61.0,361.3 L61.5,361.3 L62.0,361.3 L62.5,361.3 L63.0,361.3 L63.5,361.3 L64.0,361.4 L64.5,361.4 L65.0,361.4 L65.5,361.4 L66.0,361.4 L66.5,361.4 L67.0,361.5 L67.5,361.5 L68.0,361.5 L68.5,361.5 L69.0,361.5 L69.5,361.5 L70.0,361.5 L70.5,361.6 L71.0,361.6 L71.5,361.6 L72.0,361.6 L72.5,361.6 L73.0,361.6 L73.5,361.7 L74.0,361.7 L74.5,361.7 L75.0,361.7 L75.5,361.7 L76.0,361.7 L76.5,361.8 L77.0,361.8 L77.5,361.8 L78.0,361.8 L78.5,361.8 L79.0,361.8 L79.5,361.9 L80.0,361.9 L80.5,361.9 L81.0,361.9 L81.5,361.9 L82.0,361.9 L82.5,362.0 L83.0,362.0 L83.5,362.0 L84.0,362.0 L84.5,362.0 L85.0,362.0 L85.5,362.0 L86.0,362.1 L86.5,362.1 L87.0,362.1 L87.5,362.1 L88.0,362.1 L88.5,362.1 L89.0,362.2 L89.5,362.2 L90.0,362.2 L90.5,362.2 L91.0,362.2 L91.5,362.2 L92.0,362.3 L92.5,362.3 L93.0,362.3 L93.5,362.3 L94.0,362.3 L94.5,362.3 L95.0,362.4 L95.5,362.4 L96.0,362.4 L96.5,362.4 L97.0,362.4 L97.5,362.4 L98.0,362.4 L98.5,362.5 L99.0,362.5 L99.5,362.5 L100.0,362.5 L100.5,362.5 L101.0,362.5 L101.5,362.6 L102.0,362.6 L102.5,362.6 L103.0,362.6 L103.5,362.6 L104.0,362.6 L104.5,362.7 L105.0,362.7 L105.5,362.7 L106.0,362.7 L106.5,362.7 L107.0,362.7 L107.5,362.8 L108.0,362.8 L108.5,362.8 L109.0,362.8 L109.5,362.8 L110.0,362.8 L110.5,362.9 L111.0,362.9 L111.5,362.9 L112.0,362.9 L112.5,362.9 L113.0,362.9 L113.5,362.9 L114.0,363.0 L114.5,363.0 L115.0,363.0 L115.5,363.0 L116.0,363.0 L116.5,363.0 L117.0,363.1 L117.5,363.1 L118.0,363.1 L118.5,363.1 L119.0,363.1 L119.5,363.1 L120.0,363.2 L120.5,363.2 L121.0,363.2 L121.5,363.2 L122.0,363.2 L122.5,363.2 L123.0,363.3 L123.5,363.3 L124.0,363.3 L124.5,363.3 L125.0,363.3 L125.5,363.3 L126.0,363.4 L126.5,363.4 L127.0,363.4 L127.5,363.4 L128.0,363.4 L128.5,363.4 L129.0,363.4 L129.5,363.5 L130.0,363.5 L130.5,363.5 L131.0,363.5 L131.5,363.5 L132.0,363.5 L132.5,363.6 L133.0,363.6 L133.5,363.6 L134.0,363.6 L134.5,363.6 L135.0,363.6 L135.5,363.7 L136.0,363.7 L136.5,363.7 L137.0,363.7 L137.5,363.7 L138.0,363.7 L138.5,363.8 L139.0,363.8 L139.5,363.8 L140.0,363.8 L140.5,363.8 L141.0,363.8 L141.5,363.9 L142.0,363.9 L142.5,363.9 L143.0,363.9 L143.5,363.9 L144.0,363.9 L144.5,363.9 L145.0,364.0 L145.5,364.0 L146.0,364.0 L146.5,364.0 L147.0,364.0 L147.5,364.0 L148.0,364.1 L148.5,364.1 L149.0,364.1 L149.5,364.1 L150.0,364.1 L150.5,364.1 L151.0,364.2 L151.5,364.2 L152.0,364.2 L152.5,364.2 L153.0,364.2 L153.5,364.2 L154.0,364.3 L154.5,364.3 L155.0,364.3 L155.5,364.3 L156.0,364.3 L156.5,364.3 L157.0,364.4 L157.5,364.4 L158.0,364.4 L158.5,364.4 L159.0,364.4 L159.5,364.4 L160.0,364.4 L160.5,364.5 L161.0,364.5 L161.5,364.5 L162.0,364.5 L162.5,364.5 L163.0,364.5 L163.5,364.6 L164.0,364.6 L164.5,364.6 L165.0,364.6 L165.5,364.6 L166.0,364.6 L166.5,364.7 L167.0,364.7 L167.5,364.7 L168.0,364.7 L168.5,364.7 L169.0,364.7 L169.5,364.8 L170.0,364.8 L170.5,364.8 L171.0,364.8 L171.5,364.8 L172.0,364.8 L172.5,364.9 L173.0,364.9 L173.5,364.9 L174.0,364.9 L174.5,364.9 L175.0,364.9 L175.5,364.9 L176.0,365.0 L176.5,365.0 L177.0,365.0 L177.5,365.0 L178.0,365.0 L178.5,365.0 L179.0,365.1 L179.5,365.1 L180.0,365.1 L180.5,365.1 L181.0,365.1 L181.5,365.1 L182.0,365.2 L182.5,365.2 L183.0,365.2 L183.5,365.2 L184.0,365.2 L184.5,365.2 L185.0,365.3 L185.5,365.3 L186.0,365.3 L186.5,365.3 L187.0,365.3 L187.5,365.3 L188.0,365.4 L188.5,365.4 L189.0,365.4 L189.5,365.4 L190.0,365.4 L190.5,365.4 L191.0,365.4 L191.5,365.5 L192.0,365.5 L192.5,365.5 L193.0,365.5 L193.5,365.5 L194.0,365.5 L194.5,365.6 L195.0,365.6 L195.5,365.6 L196.0,365.6 L196.5,365.6 L197.0,365.6 L197.5,365.7 L198.0,365.7 L198.5,365.7 L199.0,365.7 L199.5,365.7 L200.0,365.7 L200.5,365.8 L201.0,365.8 L201.5,365.8 L202.0,365.8 L202.5,365.8 L203.0,365.8 L203.5,365.8 L204.0,365.9 L204.5,365.9 L205.0,365.9 L205.5,365.9 L206.0,365.9 L206.5,365.9 L207.0,366.0 L207.5,366.0 L208.0,366.0 L208.5,366.0 L209.0,366.0 L209.5,366.0 L210.0,366.1 L210.5,366.1 L211.0,366.1 L211.5,366.1 L212.0,366.1 L212.5,366.1 L213.0,366.2 L213.5,366.2 L214.0,366.2 L214.5,366.2 L215.0,366.2 L215.5,366.2 L216.0,366.3 L216.5,366.3 L217.0,366.3 L217.5,366.3 L218.0,366.3 L218.5,366.3 L219.0,366.3 L219.5,366.4 L220.0,366.4 L220.5,366.4 L221.0,366.4 L221.5,366.4 L222.0,366.4 L222.5,366.5 L223.0,366.5 L223.5,366.5 L224.0,366.5 L224.5,366.5 L225.0,366.5 L225.5,366.6 L226.0,366.6 L226.5,366.6 L227.0,366.6 L227.5,366.6 L228.0,366.6 L228.5,366.7 L229.0,366.7 L229.5,366.7 L230.0,366.7 L230.5,366.7 L231.0,366.7 L231.5,366.8 L232.0,366.8 L232.5,366.8 L233.0,366.8 L233.5,366.8 L234.0,366.8 L234.5,366.8 L235.0,366.9 L235.5,366.9 L236.0,366.9 L236.5,366.9 L237.0,366.9 L237.5,366.9 L238.0,367.0 L238.5,367.0 L239.0,367.0 L239.5,367.0 L240.0,367.0 L240.5,367.0 L241.0,367.1 L241.5,367.1 L242.0,367.1 L242.5,367.1 L243.0,367.1 L243.5,367.1 L244.0,367.2 L244.5,367.2 L245.0,367.2 L245.5,367.2 L246.0,367.2 L246.5,367.2 L247.0,367.3 L247.5,367.3 L248.0,367.3 L248.5,367.3 L249.0,367.3 L249.5,367.3 L250.0,367.3 L250.5,367.4 L251.0,367.4 L251.5,367.4 L252.0,367.4 L252.5,367.4 L253.0,367.4 L253.5,367.5 L254.0,367.5 L254.5,367.5" fill="none" stroke="#d4528a" stroke-width="1.7"/>
<path d="M37.5,359.3 L38.0,358.6 L38.5,358.9 L39.0,358.9 L39.5,359.2 L40.0,358.7 L40.5,359.1 L41.0,358.6 L41.5,359.1 L42.0,358.6 L42.5,358.7 L43.0,359.2 L43.5,358.8 L44.0,358.8 L44.5,359.3 L45.0,358.8 L45.5,358.5 L46.0,358.9 L46.5,358.4 L47.0,358.9 L47.5,358.9 L48.0,358.5 L48.5,358.4 L49.0,358.6 L49.5,358.6 L50.0,358.3 L50.5,358.7 L51.0,358.0 L51.5,358.4 L52.0,358.4 L52.5,358.4 L53.0,358.5 L53.5,358.1 L54.0,358.5 L54.5,358.3 L55.0,358.2 L55.5,358.0 L56.0,358.0 L56.5,358.4 L57.0,358.0 L57.5,358.3 L58.0,358.5 L58.5,358.5 L59.0,358.6 L59.5,358.1 L60.0,357.9 L60.5,358.4 L61.0,358.2 L61.5,358.3 L62.0,358.0 L62.5,358.3 L63.0,358.2 L63.5,358.1 L64.0,358.1 L64.5,358.0 L65.0,357.9 L65.5,357.9 L66.0,358.1 L66.5,357.7 L67.0,358.2 L67.5,357.7 L68.0,358.0 L68.5,357.7 L69.0,357.6 L69.5,358.2 L70.0,357.6 L70.5,357.3 L71.0,357.4 L71.5,357.5 L72.0,358.1 L72.5,357.6 L73.0,357.7 L73.5,357.2 L74.0,357.6 L74.5,357.6 L75.0,357.9 L75.5,357.2 L76.0,357.5 L76.5,357.4 L77.0,357.1 L77.5,357.3 L78.0,357.2 L78.5,356.7 L79.0,357.4 L79.5,357.4 L80.0,357.1 L80.5,356.9 L81.0,357.6 L81.5,357.3 L82.0,357.4 L82.5,357.5 L83.0,357.0 L83.5,357.3 L84.0,357.0 L84.5,357.1 L85.0,357.1 L85.5,357.1 L86.0,357.3 L86.5,357.1 L87.0,357.0 L87.5,356.9 L88.0,357.1 L88.5,356.8 L89.0,356.9 L89.5,357.0 L90.0,356.8 L90.5,356.9 L91.0,356.8 L91.5,357.4 L92.0,357.2 L92.5,357.0 L93.0,356.9 L93.5,357.4 L94.0,356.9 L94.5,356.8 L95.0,356.9 L95.5,356.9 L96.0,357.1 L96.5,356.8 L97.0,357.3 L97.5,356.5 L98.0,356.9 L98.5,356.4 L99.0,357.1 L99.5,356.6 L100.0,356.6 L100.5,356.8 L101.0,356.8 L101.5,356.2 L102.0,356.3 L102.5,356.0 L103.0,356.4 L103.5,356.2 L104.0,356.1 L104.5,355.9 L105.0,355.9 L105.5,355.7 L106.0,355.9 L106.5,356.0 L107.0,355.0 L107.5,355.3 L108.0,355.0 L108.5,355.0 L109.0,354.4 L109.5,354.4 L110.0,353.9 L110.5,354.0 L111.0,353.5 L111.5,353.1 L112.0,352.8 L112.5,352.2 L113.0,351.4 L113.5,351.5 L114.0,350.8 L114.5,350.2 L115.0,349.8 L115.5,349.2 L116.0,348.0 L116.5,347.3 L117.0,347.1 L117.5,346.3 L118.0,345.0 L118.5,344.0 L119.0,343.3 L119.5,342.4 L120.0,341.3 L120.5,340.8 L121.0,339.6 L121.5,338.7 L122.0,338.4 L122.5,337.2 L123.0,336.7 L123.5,336.2 L124.0,335.6 L124.5,334.9 L125.0,334.6 L125.5,334.1 L126.0,334.6 L126.5,334.4 L127.0,334.1 L127.5,334.7 L128.0,335.3 L128.5,335.7 L129.0,336.7 L129.5,337.4 L130.0,337.7 L130.5,338.7 L131.0,339.4 L131.5,340.7 L132.0,341.7 L132.5,343.4 L133.0,343.7 L133.5,344.2 L134.0,345.5 L134.5,346.7 L135.0,347.3 L135.5,348.3 L136.0,349.3 L136.5,350.3 L137.0,351.0 L137.5,351.6 L138.0,352.7 L138.5,353.1 L139.0,353.7 L139.5,354.1 L140.0,354.8 L140.5,355.7 L141.0,355.6 L141.5,356.4 L142.0,357.0 L142.5,357.2 L143.0,357.7 L143.5,357.7 L144.0,358.6 L144.5,358.8 L145.0,358.8 L145.5,358.6 L146.0,359.0 L146.5,359.7 L147.0,360.0 L147.5,359.9 L148.0,360.3 L148.5,359.9 L149.0,360.2 L149.5,360.3 L150.0,360.6 L150.5,360.2 L151.0,360.9 L151.5,361.1 L152.0,360.6 L152.5,360.6 L153.0,361.1 L153.5,360.9 L154.0,360.5 L154.5,361.4 L155.0,361.3 L155.5,361.2 L156.0,361.9 L156.5,361.4 L157.0,361.3 L157.5,361.5 L158.0,361.3 L158.5,361.4 L159.0,361.7 L159.5,361.5 L160.0,361.5 L160.5,362.0 L161.0,361.8 L161.5,361.8 L162.0,361.8 L162.5,361.7 L163.0,362.0 L163.5,361.6 L164.0,362.1 L164.5,361.3 L165.0,361.5 L165.5,361.2 L166.0,361.4 L166.5,361.6 L167.0,361.7 L167.5,361.2 L168.0,361.3 L168.5,361.1 L169.0,360.9 L169.5,360.8 L170.0,361.0 L170.5,360.5 L171.0,360.8 L171.5,360.7 L172.0,360.4 L172.5,360.2 L173.0,360.0 L173.5,360.7 L174.0,359.8 L174.5,360.4 L175.0,360.0 L175.5,359.6 L176.0,359.3 L176.5,359.7 L177.0,359.7 L177.5,358.8 L178.0,358.8 L178.5,359.0 L179.0,358.6 L179.5,358.9 L180.0,358.1 L180.5,358.2 L181.0,357.5 L181.5,358.2 L182.0,357.3 L182.5,356.7 L183.0,357.0 L183.5,356.8 L184.0,357.1 L184.5,356.4 L185.0,356.2 L185.5,356.2 L186.0,356.2 L186.5,355.6 L187.0,355.6 L187.5,355.3 L188.0,354.9 L188.5,354.7 L189.0,354.5 L189.5,354.0 L190.0,354.2 L190.5,353.3 L191.0,353.6 L191.5,353.3 L192.0,352.7 L192.5,352.2 L193.0,351.9 L193.5,351.6 L194.0,351.3 L194.5,350.6 L195.0,350.3 L195.5,349.3 L196.0,348.9 L196.5,347.7 L197.0,347.6 L197.5,346.6 L198.0,345.6 L198.5,345.1 L199.0,344.0 L199.5,342.1 L200.0,341.7 L200.5,340.1 L201.0,339.5 L201.5,338.6 L202.0,336.6 L202.5,335.4 L203.0,334.0 L203.5,332.8 L204.0,331.6 L204.5,330.5 L205.0,328.8 L205.5,328.3 L206.0,326.7 L206.5,326.2 L207.0,325.8 L207.5,325.3 L208.0,324.7 L208.5,324.8 L209.0,325.1 L209.5,325.8 L210.0,326.8 L210.5,327.2 L211.0,328.8 L211.5,330.1 L212.0,331.5 L212.5,333.0 L213.0,334.8 L213.5,336.1 L214.0,337.8 L214.5,339.4 L215.0,341.3 L215.5,341.9 L216.0,344.3 L216.5,345.3 L217.0,346.7 L217.5,347.9 L218.0,349.0 L218.5,350.6 L219.0,351.6 L219.5,353.0 L220.0,353.5 L220.5,355.1 L221.0,355.7 L221.5,356.4 L222.0,357.0 L222.5,357.6 L223.0,358.1 L223.5,358.9 L224.0,359.5 L224.5,359.9 L225.0,360.0 L225.5,360.7 L226.0,360.9 L226.5,361.5 L227.0,362.2 L227.5,362.2 L228.0,362.2 L228.5,362.1 L229.0,362.3 L229.5,362.4 L230.0,363.2 L230.5,363.0 L231.0,363.4 L231.5,363.3 L232.0,363.6 L232.5,364.1 L233.0,363.7 L233.5,363.9 L234.0,363.9 L234.5,364.4 L235.0,364.0 L235.5,364.0 L236.0,364.1 L236.5,364.1 L237.0,364.7 L237.5,365.3 L238.0,364.5 L238.5,365.0 L239.0,364.9 L239.5,364.6 L240.0,364.9 L240.5,365.0 L241.0,364.9 L241.5,365.6 L242.0,364.7 L242.5,365.3 L243.0,365.3 L243.5,365.2 L244.0,365.4 L244.5,365.6 L245.0,365.5 L245.5,365.6 L246.0,365.7 L246.5,365.1 L247.0,366.0 L247.5,366.2 L248.0,365.9 L248.5,366.0 L249.0,365.4 L249.5,365.8 L250.0,365.6 L250.5,365.7 L251.0,366.1 L251.5,365.7 L252.0,365.9 L252.5,365.5 L253.0,366.0 L253.5,366.1 L254.0,365.9 L254.5,365.9" fill="none" stroke="#999" stroke-width="0.7"/>
<path d="M37.5,359.6 L38.0,359.6 L38.5,359.6 L39.0,359.5 L39.5,359.5 L40.0,359.5 L40.5,359.5 L41.0,359.5 L41.5,359.5 L42.0,359.5 L42.5,359.5 L43.0,359.5 L43.5,359.5 L44.0,359.4 L44.5,359.4 L45.0,359.4 L45.5,359.4 L46.0,359.4 L46.5,359.4 L47.0,359.4 L47.5,359.3 L48.0,359.3 L48.5,359.3 L49.0,359.3 L49.5,359.3 L50.0,359.3 L50.5,359.2 L51.0,359.2 L51.5,359.2 L52.0,359.2 L52.5,359.2 L53.0,359.1 L53.5,359.1 L54.0,359.1 L54.5,359.1 L55.0,359.1 L55.5,359.0 L56.0,359.0 L56.5,359.0 L57.0,359.0 L57.5,358.9 L58.0,358.9 L58.5,358.9 L59.0,358.9 L59.5,358.9 L60.0,358.8 L60.5,358.8 L61.0,358.8 L61.5,358.8 L62.0,358.7 L62.5,358.7 L63.0,358.7 L63.5,358.7 L64.0,358.6 L64.5,358.6 L65.0,358.6 L65.5,358.6 L66.0,358.5 L66.5,358.5 L67.0,358.5 L67.5,358.5 L68.0,358.4 L68.5,358.4 L69.0,358.4 L69.5,358.4 L70.0,358.3 L70.5,358.3 L71.0,358.3 L71.5,358.3 L72.0,358.3 L72.5,358.2 L73.0,358.2 L73.5,358.2 L74.0,358.2 L74.5,358.1 L75.0,358.1 L75.5,358.1 L76.0,358.1 L76.5,358.1 L77.0,358.0 L77.5,358.0 L78.0,358.0 L78.5,358.0 L79.0,358.0 L79.5,358.0 L80.0,357.9 L80.5,357.9 L81.0,357.9 L81.5,357.9 L82.0,357.9 L82.5,357.9 L83.0,357.8 L83.5,357.8 L84.0,357.8 L84.5,357.8 L85.0,357.8 L85.5,357.8 L86.0,357.8 L86.5,357.7 L87.0,357.7 L87.5,357.7 L88.0,357.7 L88.5,357.7 L89.0,357.7 L89.5,357.7 L90.0,357.7 L90.5,357.6 L91.0,357.6 L91.5,357.6 L92.0,357.6 L92.5,357.6 L93.0,357.6 L93.5,357.6 L94.0,357.6 L94.5,357.5 L95.0,357.5 L95.5,357.5 L96.0,357.5 L96.5,357.5 L97.0,357.5 L97.5,357.4 L98.0,357.4 L98.5,357.4 L99.0,357.4 L99.5,357.3 L100.0,357.3 L100.5,357.3 L101.0,357.2 L101.5,357.2 L102.0,357.1 L102.5,357.1 L103.0,357.0 L103.5,356.9 L104.0,356.9 L104.5,356.8 L105.0,356.7 L105.5,356.6 L106.0,356.5 L106.5,356.3 L107.0,356.2 L107.5,356.0 L108.0,355.8 L108.5,355.6 L109.0,355.4 L109.5,355.1 L110.0,354.8 L110.5,354.5 L111.0,354.2 L111.5,353.8 L112.0,353.4 L112.5,353.0 L113.0,352.5 L113.5,352.0 L114.0,351.5 L114.5,350.9 L115.0,350.3 L115.5,349.6 L116.0,348.9 L116.5,348.2 L117.0,347.5 L117.5,346.7 L118.0,345.8 L118.5,345.0 L119.0,344.1 L119.5,343.3 L120.0,342.4 L120.5,341.5 L121.0,340.6 L121.5,339.7 L122.0,338.9 L122.5,338.1 L123.0,337.4 L123.5,336.7 L124.0,336.1 L124.5,335.7 L125.0,335.3 L125.5,335.0 L126.0,334.9 L126.5,334.9 L127.0,335.1 L127.5,335.4 L128.0,335.8 L128.5,336.3 L129.0,337.0 L129.5,337.7 L130.0,338.6 L130.5,339.4 L131.0,340.4 L131.5,341.4 L132.0,342.4 L132.5,343.4 L133.0,344.4 L133.5,345.4 L134.0,346.4 L134.5,347.4 L135.0,348.3 L135.5,349.2 L136.0,350.1 L136.5,350.9 L137.0,351.7 L137.5,352.5 L138.0,353.2 L138.5,353.9 L139.0,354.5 L139.5,355.1 L140.0,355.7 L140.5,356.2 L141.0,356.7 L141.5,357.1 L142.0,357.6 L142.5,357.9 L143.0,358.3 L143.5,358.6 L144.0,358.9 L144.5,359.2 L145.0,359.5 L145.5,359.7 L146.0,359.9 L146.5,360.1 L147.0,360.3 L147.5,360.5 L148.0,360.6 L148.5,360.8 L149.0,360.9 L149.5,361.0 L150.0,361.2 L150.5,361.3 L151.0,361.4 L151.5,361.5 L152.0,361.5 L152.5,361.6 L153.0,361.7 L153.5,361.8 L154.0,361.8 L154.5,361.9 L155.0,362.0 L155.5,362.0 L156.0,362.1 L156.5,362.1 L157.0,362.1 L157.5,362.2 L158.0,362.2 L158.5,362.2 L159.0,362.3 L159.5,362.3 L160.0,362.3 L160.5,362.3 L161.0,362.3 L161.5,362.3 L162.0,362.3 L162.5,362.3 L163.0,362.3 L163.5,362.3 L164.0,362.3 L164.5,362.3 L165.0,362.2 L165.5,362.2 L166.0,362.2 L166.5,362.1 L167.0,362.1 L167.5,362.0 L168.0,362.0 L168.5,361.9 L169.0,361.8 L169.5,361.8 L170.0,361.7 L170.5,361.6 L171.0,361.5 L171.5,361.4 L172.0,361.3 L172.5,361.2 L173.0,361.1 L173.5,360.9 L174.0,360.8 L174.5,360.7 L175.0,360.5 L175.5,360.4 L176.0,360.3 L176.5,360.1 L177.0,359.9 L177.5,359.8 L178.0,359.6 L178.5,359.4 L179.0,359.3 L179.5,359.1 L180.0,358.9 L180.5,358.7 L181.0,358.5 L181.5,358.3 L182.0,358.1 L182.5,357.9 L183.0,357.8 L183.5,357.6 L184.0,357.4 L184.5,357.1 L185.0,356.9 L185.5,356.7 L186.0,356.5 L186.5,356.3 L187.0,356.1 L187.5,355.9 L188.0,355.6 L188.5,355.4 L189.0,355.2 L189.5,354.9 L190.0,354.6 L190.5,354.4 L191.0,354.1 L191.5,353.7 L192.0,353.4 L192.5,353.0 L193.0,352.7 L193.5,352.2 L194.0,351.8 L194.5,351.3 L195.0,350.7 L195.5,350.1 L196.0,349.5 L196.5,348.8 L197.0,348.1 L197.5,347.3 L198.0,346.4 L198.5,345.5 L199.0,344.5 L199.5,343.5 L200.0,342.4 L200.5,341.2 L201.0,340.0 L201.5,338.7 L202.0,337.4 L202.5,336.1 L203.0,334.8 L203.5,333.5 L204.0,332.2 L204.5,330.9 L205.0,329.7 L205.5,328.6 L206.0,327.6 L206.5,326.8 L207.0,326.2 L207.5,325.8 L208.0,325.6 L208.5,325.7 L209.0,325.9 L209.5,326.5 L210.0,327.2 L210.5,328.2 L211.0,329.3 L211.5,330.6 L212.0,332.0 L212.5,333.5 L213.0,335.1 L213.5,336.7 L214.0,338.3 L214.5,339.9 L215.0,341.5 L215.5,343.1 L216.0,344.6 L216.5,346.1 L217.0,347.5 L217.5,348.9 L218.0,350.1 L218.5,351.4 L219.0,352.5 L219.5,353.6 L220.0,354.6 L220.5,355.5 L221.0,356.3 L221.5,357.1 L222.0,357.9 L222.5,358.5 L223.0,359.1 L223.5,359.7 L224.0,360.2 L224.5,360.7 L225.0,361.1 L225.5,361.5 L226.0,361.8 L226.5,362.2 L227.0,362.4 L227.5,362.7 L228.0,363.0 L228.5,363.2 L229.0,363.4 L229.5,363.6 L230.0,363.7 L230.5,363.9 L231.0,364.1 L231.5,364.2 L232.0,364.3 L232.5,364.4 L233.0,364.6 L233.5,364.7 L234.0,364.8 L234.5,364.9 L235.0,364.9 L235.5,365.0 L236.0,365.1 L236.5,365.2 L237.0,365.3 L237.5,365.3 L238.0,365.4 L238.5,365.5 L239.0,365.5 L239.5,365.6 L240.0,365.7 L240.5,365.7 L241.0,365.8 L241.5,365.8 L242.0,365.9 L242.5,365.9 L243.0,366.0 L243.5,366.0 L244.0,366.1 L244.5,366.1 L245.0,366.1 L245.5,366.2 L246.0,366.2 L246.5,366.3 L247.0,366.3 L247.5,366.3 L248.0,366.4 L248.5,366.4 L249.0,366.5 L249.5,366.5 L250.0,366.5 L250.5,366.6 L251.0,366.6 L251.5,366.6 L252.0,366.7 L252.5,366.7 L253.0,366.7 L253.5,366.8 L254.0,366.8 L254.5,366.8" fill="none" stroke="#ff7a2a" stroke-width="1.1"/>
<text x="48.4" y="350.0" font-size="8.6" fill="#ff7a2a" text-anchor="start" font-weight="normal"  stroke="#ff7a2a" stroke-width="0.15">RuPd<tspan font-size="5.5">3</tspan> ANs</text>
<line x1="126.6" y1="226" x2="126.6" y2="347" stroke="#d42a8a" stroke-width="1.3" stroke-dasharray="1.6,1.6"/>
<line x1="116.2" y1="226" x2="116.2" y2="246" stroke="#2ab26a" stroke-width="1.3" stroke-dasharray="1.6,2"/>
<line x1="120.7" y1="274" x2="120.7" y2="294" stroke="#3050e0" stroke-width="1.3" stroke-dasharray="1.6,2"/>
<line x1="99" y1="229.6" x2="111.8" y2="229.6" stroke="#2ab26a" stroke-width="1.1"/>
<path d="M114.8,229.6 L110.8,227.6 L110.8,231.6 Z" fill="#2ab26a"/>
<line x1="144" y1="229.6" x2="131.5" y2="229.6" stroke="#2ab26a" stroke-width="1.1"/>
<path d="M128.5,229.6 L132.5,227.6 L132.5,231.6 Z" fill="#2ab26a"/>
<line x1="104" y1="277.8" x2="116.5" y2="277.8" stroke="#4a63dd" stroke-width="1.1"/>
<path d="M119.5,277.8 L115.5,275.8 L115.5,279.8 Z" fill="#4a63dd"/>
<line x1="143.7" y1="277.8" x2="131.5" y2="277.8" stroke="#4a63dd" stroke-width="1.1"/>
<path d="M128.5,277.8 L132.5,275.8 L132.5,279.8 Z" fill="#4a63dd"/>
<text x="106.3" y="222.2" font-size="8.6" fill="#2ab26a" text-anchor="start" font-weight="normal"  stroke="#2ab26a" stroke-width="0.15">0.65 eV</text>
<text x="88.6" y="273.2" font-size="8.6" fill="#4a63dd" text-anchor="start" font-weight="normal"  stroke="#4a63dd" stroke-width="0.15">0.35 eV</text>
<text x="227" y="223.2" font-size="8.6" fill="#000" text-anchor="start" font-weight="normal"  stroke="#000" stroke-width="0.25">Pd 3d</text>
<rect x="37.5" y="210.1" width="217.2" height="159.70000000000002" fill="none" stroke="#7a7a7a" stroke-width="1.3"/>
<line x1="255.70" y1="369.8" x2="255.70" y2="372.8" stroke="#606060" stroke-width="1"/>
<text x="255.70" y="383.6" font-size="10" fill="#000" text-anchor="middle" font-weight="normal"  stroke="#000" stroke-width="0.25">332</text>
<line x1="240.10" y1="369.8" x2="240.10" y2="371.8" stroke="#606060" stroke-width="1"/>
<line x1="224.50" y1="369.8" x2="224.50" y2="372.8" stroke="#606060" stroke-width="1"/>
<text x="224.50" y="383.6" font-size="10" fill="#000" text-anchor="middle" font-weight="normal"  stroke="#000" stroke-width="0.25">334</text>
<line x1="208.90" y1="369.8" x2="208.90" y2="371.8" stroke="#606060" stroke-width="1"/>
<line x1="193.30" y1="369.8" x2="193.30" y2="372.8" stroke="#606060" stroke-width="1"/>
<text x="193.30" y="383.6" font-size="10" fill="#000" text-anchor="middle" font-weight="normal"  stroke="#000" stroke-width="0.25">336</text>
<line x1="177.70" y1="369.8" x2="177.70" y2="371.8" stroke="#606060" stroke-width="1"/>
<line x1="162.10" y1="369.8" x2="162.10" y2="372.8" stroke="#606060" stroke-width="1"/>
<text x="162.10" y="383.6" font-size="10" fill="#000" text-anchor="middle" font-weight="normal"  stroke="#000" stroke-width="0.25">338</text>
<line x1="146.50" y1="369.8" x2="146.50" y2="371.8" stroke="#606060" stroke-width="1"/>
<line x1="130.90" y1="369.8" x2="130.90" y2="372.8" stroke="#606060" stroke-width="1"/>
<text x="130.90" y="383.6" font-size="10" fill="#000" text-anchor="middle" font-weight="normal"  stroke="#000" stroke-width="0.25">340</text>
<line x1="115.30" y1="369.8" x2="115.30" y2="371.8" stroke="#606060" stroke-width="1"/>
<line x1="99.70" y1="369.8" x2="99.70" y2="372.8" stroke="#606060" stroke-width="1"/>
<text x="99.70" y="383.6" font-size="10" fill="#000" text-anchor="middle" font-weight="normal"  stroke="#000" stroke-width="0.25">342</text>
<line x1="84.10" y1="369.8" x2="84.10" y2="371.8" stroke="#606060" stroke-width="1"/>
<line x1="68.50" y1="369.8" x2="68.50" y2="372.8" stroke="#606060" stroke-width="1"/>
<text x="68.50" y="383.6" font-size="10" fill="#000" text-anchor="middle" font-weight="normal"  stroke="#000" stroke-width="0.25">344</text>
<line x1="52.90" y1="369.8" x2="52.90" y2="371.8" stroke="#606060" stroke-width="1"/>
<line x1="37.30" y1="369.8" x2="37.30" y2="372.8" stroke="#606060" stroke-width="1"/>
<text x="37.30" y="383.6" font-size="10" fill="#000" text-anchor="middle" font-weight="normal"  stroke="#000" stroke-width="0.25">346</text>
<text x="146" y="402.5" font-size="14" fill="#000" text-anchor="middle" font-weight="normal"  stroke="#000" stroke-width="0.25">Binding energy (eV)</text>
<text transform="translate(18.8,298.8) rotate(-90)" font-size="14.3" text-anchor="middle" stroke="#000" stroke-width="0.25">Intensity (a.u.)</text>
<text x="276.6" y="217.4" font-size="20.5" fill="#000" text-anchor="start" font-weight="normal"  stroke="#000" stroke-width="0.35">d</text>
<line x1="319.2" y1="251.7" x2="536.6" y2="251.7" stroke="#2ab26a" stroke-width="1.2"/>
<path d="M319.2,253.5 L320.1,248.9 L321.0,249.1 L321.9,249.5 L322.8,252.5 L323.7,253.9 L324.6,251.2 L325.5,249.6 L326.4,250.1 L327.3,252.3 L328.2,249.3 L329.1,252.9 L330.0,252.8 L330.9,250.8 L331.8,251.6 L332.7,251.8 L333.6,253.0 L334.5,249.1 L335.4,252.4 L336.3,250.1 L337.2,249.5 L338.1,250.8 L339.0,250.3 L339.9,249.2 L340.8,248.2 L341.7,249.2 L342.6,252.8 L343.5,253.6 L344.4,251.6 L345.3,252.4 L346.2,249.8 L347.1,250.5 L348.0,251.0 L348.9,249.0 L349.8,249.1 L350.7,250.7 L351.6,250.1 L352.5,249.0 L353.4,251.1 L354.3,250.1 L355.2,252.1 L356.1,250.5 L357.0,250.1 L357.9,250.7 L358.8,250.2 L359.7,249.5 L360.6,249.9 L361.5,251.6 L362.4,251.4 L363.3,252.4 L364.2,247.9 L365.1,249.8 L366.0,249.8 L366.9,250.6 L367.8,249.7 L368.7,249.6 L369.6,251.5 L370.5,250.6 L371.4,248.5 L372.3,252.2 L373.2,251.7 L374.1,249.3 L375.0,251.4 L375.9,249.0 L376.8,251.8 L377.7,249.7 L378.6,248.8 L379.5,249.4 L380.4,248.7 L381.3,250.1 L382.2,250.0 L383.1,249.8 L384.0,248.8 L384.9,244.1 L385.8,249.6 L386.7,246.6 L387.6,249.7 L388.5,250.9 L389.4,249.5 L390.3,248.4 L391.2,248.6 L392.1,248.6 L393.0,247.8 L393.9,247.6 L394.8,247.0 L395.7,250.0 L396.6,248.0 L397.5,249.3 L398.4,247.3 L399.3,247.6 L400.2,247.0 L401.1,247.8 L402.0,248.1 L402.9,247.0 L403.8,245.4 L404.7,245.0 L405.6,248.4 L406.5,245.2 L407.4,244.9 L408.3,247.3 L409.2,246.4 L410.1,245.3 L411.0,243.6 L411.9,247.4 L412.8,244.2 L413.7,244.1 L414.6,242.7 L415.5,240.6 L416.4,240.4 L417.3,242.7 L418.2,242.4 L419.1,241.1 L420.0,239.4 L420.9,238.7 L421.8,240.1 L422.7,238.2 L423.6,241.5 L424.5,241.6 L425.4,243.9 L426.3,240.8 L427.2,238.4 L428.1,237.8 L429.0,233.8 L429.9,238.0 L430.8,238.5 L431.7,240.2 L432.6,239.6 L433.5,239.6 L434.4,239.0 L435.3,239.8 L436.2,241.0 L437.1,237.4 L438.0,238.4 L438.9,237.1 L439.8,241.8 L440.7,241.5 L441.6,240.9 L442.5,238.2 L443.4,240.5 L444.3,240.2 L445.2,240.9 L446.1,240.8 L447.0,242.2 L447.9,241.1 L448.8,243.3 L449.7,242.6 L450.6,242.2 L451.5,242.7 L452.4,242.5 L453.3,244.7 L454.2,243.4 L455.1,244.6 L456.0,243.8 L456.9,242.5 L457.8,246.3 L458.7,243.7 L459.6,246.6 L460.5,246.4 L461.4,243.6 L462.3,244.9 L463.2,245.8 L464.1,245.5 L465.0,245.2 L465.9,248.3 L466.8,247.1 L467.7,248.2 L468.6,247.2 L469.5,248.4 L470.4,247.0 L471.3,248.3 L472.2,249.3 L473.1,248.7 L474.0,248.0 L474.9,247.2 L475.8,249.2 L476.7,249.6 L477.6,248.8 L478.5,248.1 L479.4,250.2 L480.3,253.2 L481.2,249.1 L482.1,250.1 L483.0,250.3 L483.9,245.9 L484.8,250.0 L485.7,248.8 L486.6,252.0 L487.5,249.6 L488.4,248.9 L489.3,249.7 L490.2,250.3 L491.1,249.3 L492.0,250.1 L492.9,248.2 L493.8,249.9 L494.7,251.4 L495.6,253.2 L496.5,251.4 L497.4,250.7 L498.3,252.1 L499.2,251.9 L500.1,252.9 L501.0,252.0 L501.9,250.2 L502.8,250.8 L503.7,250.7 L504.6,250.9 L505.5,250.8 L506.4,249.3 L507.3,247.3 L508.2,249.5 L509.1,247.5 L510.0,250.6 L510.9,250.5 L511.8,248.0 L512.7,251.6 L513.6,251.8 L514.5,250.7 L515.4,253.1 L516.3,253.4 L517.2,248.8 L518.1,252.1 L519.0,251.3 L519.9,251.2 L520.8,252.0 L521.7,249.5 L522.6,249.7 L523.5,249.4 L524.4,249.5 L525.3,250.5 L526.2,248.5 L527.1,249.1 L528.0,251.5 L528.9,250.5 L529.8,251.2 L530.7,247.8 L531.6,249.5 L532.5,249.8 L533.4,250.7 L534.3,249.8 L535.2,252.1 L536.1,250.6" fill="none" stroke="#505050" stroke-width="0.7"/>
<path d="M319.2,251.5 L320.1,251.5 L321.0,251.5 L321.9,251.5 L322.8,251.5 L323.7,251.5 L324.6,251.5 L325.5,251.5 L326.4,251.5 L327.3,251.5 L328.2,251.5 L329.1,251.5 L330.0,251.5 L330.9,251.5 L331.8,251.5 L332.7,251.5 L333.6,251.5 L334.5,251.5 L335.4,251.5 L336.3,251.5 L337.2,251.4 L338.1,251.4 L339.0,251.4 L339.9,251.4 L340.8,251.4 L341.7,251.4 L342.6,251.4 L343.5,251.4 L344.4,251.4 L345.3,251.4 L346.2,251.4 L347.1,251.4 L348.0,251.4 L348.9,251.4 L349.8,251.4 L350.7,251.4 L351.6,251.4 L352.5,251.3 L353.4,251.3 L354.3,251.3 L355.2,251.3 L356.1,251.3 L357.0,251.3 L357.9,251.3 L358.8,251.3 L359.7,251.3 L360.6,251.3 L361.5,251.3 L362.4,251.2 L363.3,251.2 L364.2,251.2 L365.1,251.2 L366.0,251.2 L366.9,251.2 L367.8,251.1 L368.7,251.1 L369.6,251.1 L370.5,251.1 L371.4,251.1 L372.3,251.0 L373.2,251.0 L374.1,251.0 L375.0,250.9 L375.9,250.9 L376.8,250.9 L377.7,250.8 L378.6,250.8 L379.5,250.7 L380.4,250.7 L381.3,250.6 L382.2,250.6 L383.1,250.5 L384.0,250.4 L384.9,250.4 L385.8,250.3 L386.7,250.2 L387.6,250.1 L388.5,250.0 L389.4,249.9 L390.3,249.8 L391.2,249.7 L392.1,249.6 L393.0,249.4 L393.9,249.3 L394.8,249.2 L395.7,249.0 L396.6,248.8 L397.5,248.7 L398.4,248.5 L399.3,248.3 L400.2,248.1 L401.1,247.9 L402.0,247.7 L402.9,247.4 L403.8,247.2 L404.7,246.9 L405.6,246.7 L406.5,246.4 L407.4,246.2 L408.3,245.9 L409.2,245.6 L410.1,245.3 L411.0,245.0 L411.9,244.7 L412.8,244.4 L413.7,244.1 L414.6,243.8 L415.5,243.5 L416.4,243.2 L417.3,242.9 L418.2,242.6 L419.1,242.3 L420.0,242.0 L420.9,241.7 L421.8,241.4 L422.7,241.2 L423.6,240.9 L424.5,240.7 L425.4,240.5 L426.3,240.3 L427.2,240.1 L428.1,239.9 L429.0,239.8 L429.9,239.7 L430.8,239.6 L431.7,239.5 L432.6,239.5 L433.5,239.5 L434.4,239.5 L435.3,239.6 L436.2,239.7 L437.1,239.8 L438.0,239.9 L438.9,240.0 L439.8,240.2 L440.7,240.4 L441.6,240.6 L442.5,240.8 L443.4,241.1 L444.3,241.3 L445.2,241.6 L446.1,241.9 L447.0,242.2 L447.9,242.5 L448.8,242.8 L449.7,243.1 L450.6,243.4 L451.5,243.7 L452.4,244.0 L453.3,244.3 L454.2,244.6 L455.1,244.9 L456.0,245.2 L456.9,245.5 L457.8,245.8 L458.7,246.1 L459.6,246.3 L460.5,246.6 L461.4,246.9 L462.3,247.1 L463.2,247.3 L464.1,247.6 L465.0,247.8 L465.9,248.0 L466.8,248.2 L467.7,248.4 L468.6,248.6 L469.5,248.8 L470.4,248.9 L471.3,249.1 L472.2,249.3 L473.1,249.4 L474.0,249.5 L474.9,249.7 L475.8,249.8 L476.7,249.9 L477.6,250.0 L478.5,250.1 L479.4,250.2 L480.3,250.3 L481.2,250.4 L482.1,250.4 L483.0,250.5 L483.9,250.6 L484.8,250.6 L485.7,250.7 L486.6,250.7 L487.5,250.8 L488.4,250.8 L489.3,250.9 L490.2,250.9 L491.1,250.9 L492.0,251.0 L492.9,251.0 L493.8,251.0 L494.7,251.1 L495.6,251.1 L496.5,251.1 L497.4,251.1 L498.3,251.1 L499.2,251.2 L500.1,251.2 L501.0,251.2 L501.9,251.2 L502.8,251.2 L503.7,251.2 L504.6,251.2 L505.5,251.3 L506.4,251.3 L507.3,251.3 L508.2,251.3 L509.1,251.3 L510.0,251.3 L510.9,251.3 L511.8,251.3 L512.7,251.3 L513.6,251.3 L514.5,251.4 L515.4,251.4 L516.3,251.4 L517.2,251.4 L518.1,251.4 L519.0,251.4 L519.9,251.4 L520.8,251.4 L521.7,251.4 L522.6,251.4 L523.5,251.4 L524.4,251.4 L525.3,251.4 L526.2,251.4 L527.1,251.4 L528.0,251.4 L528.9,251.4 L529.8,251.5 L530.7,251.5 L531.6,251.5 L532.5,251.5 L533.4,251.5 L534.3,251.5 L535.2,251.5 L536.1,251.5" fill="none" stroke="#2ab26a" stroke-width="1.2"/>
<text x="327.5" y="242.3" font-size="8.6" fill="#2ab26a" text-anchor="start" font-weight="normal"  stroke="#2ab26a" stroke-width="0.15">RuPd</text>
<line x1="319.2" y1="305.8" x2="536.6" y2="305.8" stroke="#4a63dd" stroke-width="1.2"/>
<path d="M319.2,304.3 L320.1,304.3 L321.0,305.4 L321.9,303.6 L322.8,305.9 L323.7,304.9 L324.6,304.5 L325.5,304.3 L326.4,305.0 L327.3,305.7 L328.2,305.6 L329.1,304.7 L330.0,305.5 L330.9,304.3 L331.8,306.0 L332.7,304.1 L333.6,301.0 L334.5,306.1 L335.4,304.2 L336.3,302.3 L337.2,303.7 L338.1,302.7 L339.0,307.1 L339.9,304.7 L340.8,301.6 L341.7,304.7 L342.6,303.3 L343.5,306.8 L344.4,302.3 L345.3,300.5 L346.2,303.9 L347.1,303.3 L348.0,303.1 L348.9,300.5 L349.8,304.4 L350.7,306.2 L351.6,300.8 L352.5,305.4 L353.4,302.7 L354.3,307.1 L355.2,304.2 L356.1,303.2 L357.0,305.1 L357.9,304.2 L358.8,302.5 L359.7,304.4 L360.6,302.5 L361.5,300.6 L362.4,306.3 L363.3,302.6 L364.2,302.2 L365.1,303.6 L366.0,300.7 L366.9,300.9 L367.8,302.1 L368.7,302.1 L369.6,302.9 L370.5,304.4 L371.4,301.9 L372.3,303.3 L373.2,303.4 L374.1,300.8 L375.0,302.7 L375.9,300.8 L376.8,303.8 L377.7,302.7 L378.6,302.0 L379.5,299.8 L380.4,301.9 L381.3,300.5 L382.2,302.6 L383.1,301.2 L384.0,300.0 L384.9,302.5 L385.8,302.0 L386.7,299.9 L387.6,302.4 L388.5,300.0 L389.4,299.8 L390.3,300.2 L391.2,298.7 L392.1,299.0 L393.0,299.2 L393.9,301.5 L394.8,301.2 L395.7,298.3 L396.6,300.8 L397.5,298.1 L398.4,298.4 L399.3,298.9 L400.2,297.6 L401.1,300.5 L402.0,296.9 L402.9,294.4 L403.8,297.7 L404.7,294.8 L405.6,294.5 L406.5,290.1 L407.4,295.7 L408.3,294.9 L409.2,294.5 L410.1,294.3 L411.0,294.9 L411.9,291.8 L412.8,292.8 L413.7,289.8 L414.6,289.9 L415.5,291.6 L416.4,290.1 L417.3,287.1 L418.2,289.2 L419.1,288.0 L420.0,286.7 L420.9,288.2 L421.8,286.7 L422.7,284.6 L423.6,285.1 L424.5,289.3 L425.4,284.2 L426.3,286.8 L427.2,287.3 L428.1,287.4 L429.0,284.7 L429.9,286.2 L430.8,287.1 L431.7,288.3 L432.6,286.4 L433.5,286.0 L434.4,289.6 L435.3,290.1 L436.2,289.4 L437.1,288.4 L438.0,290.4 L438.9,290.4 L439.8,291.9 L440.7,289.3 L441.6,291.8 L442.5,291.9 L443.4,290.9 L444.3,293.3 L445.2,293.5 L446.1,293.3 L447.0,294.9 L447.9,292.6 L448.8,295.1 L449.7,296.2 L450.6,296.4 L451.5,297.9 L452.4,294.9 L453.3,294.8 L454.2,297.7 L455.1,298.3 L456.0,301.1 L456.9,299.2 L457.8,297.2 L458.7,300.0 L459.6,297.8 L460.5,297.1 L461.4,303.4 L462.3,300.2 L463.2,301.0 L464.1,301.0 L465.0,303.1 L465.9,300.9 L466.8,302.5 L467.7,299.3 L468.6,298.9 L469.5,303.3 L470.4,303.5 L471.3,302.2 L472.2,301.9 L473.1,301.9 L474.0,300.8 L474.9,304.2 L475.8,303.0 L476.7,302.9 L477.6,302.8 L478.5,303.9 L479.4,303.1 L480.3,303.6 L481.2,300.8 L482.1,303.4 L483.0,306.0 L483.9,302.0 L484.8,302.6 L485.7,304.2 L486.6,304.4 L487.5,303.9 L488.4,300.6 L489.3,303.8 L490.2,301.4 L491.1,301.9 L492.0,304.1 L492.9,302.8 L493.8,304.5 L494.7,308.1 L495.6,304.6 L496.5,304.5 L497.4,302.1 L498.3,302.5 L499.2,301.9 L500.1,302.8 L501.0,302.0 L501.9,302.6 L502.8,303.4 L503.7,302.2 L504.6,301.6 L505.5,301.7 L506.4,304.5 L507.3,303.9 L508.2,305.4 L509.1,305.4 L510.0,303.4 L510.9,304.9 L511.8,301.8 L512.7,307.4 L513.6,305.8 L514.5,303.7 L515.4,302.3 L516.3,304.6 L517.2,301.2 L518.1,302.9 L519.0,305.2 L519.9,304.2 L520.8,303.4 L521.7,305.5 L522.6,302.6 L523.5,304.6 L524.4,303.4 L525.3,302.9 L526.2,304.9 L527.1,302.7 L528.0,307.1 L528.9,303.4 L529.8,307.2 L530.7,302.6 L531.6,305.2 L532.5,302.5 L533.4,302.3 L534.3,304.5 L535.2,305.3 L536.1,302.4" fill="none" stroke="#505050" stroke-width="0.7"/>
<path d="M319.2,305.1 L320.1,305.1 L321.0,305.1 L321.9,305.1 L322.8,305.1 L323.7,305.1 L324.6,305.0 L325.5,305.0 L326.4,305.0 L327.3,305.0 L328.2,305.0 L329.1,305.0 L330.0,305.0 L330.9,304.9 L331.8,304.9 L332.7,304.9 L333.6,304.9 L334.5,304.9 L335.4,304.9 L336.3,304.8 L337.2,304.8 L338.1,304.8 L339.0,304.8 L339.9,304.8 L340.8,304.7 L341.7,304.7 L342.6,304.7 L343.5,304.7 L344.4,304.7 L345.3,304.6 L346.2,304.6 L347.1,304.6 L348.0,304.6 L348.9,304.5 L349.8,304.5 L350.7,304.5 L351.6,304.5 L352.5,304.4 L353.4,304.4 L354.3,304.4 L355.2,304.3 L356.1,304.3 L357.0,304.3 L357.9,304.2 L358.8,304.2 L359.7,304.1 L360.6,304.1 L361.5,304.1 L362.4,304.0 L363.3,304.0 L364.2,303.9 L365.1,303.9 L366.0,303.8 L366.9,303.8 L367.8,303.7 L368.7,303.6 L369.6,303.6 L370.5,303.5 L371.4,303.4 L372.3,303.4 L373.2,303.3 L374.1,303.2 L375.0,303.1 L375.9,303.0 L376.8,303.0 L377.7,302.9 L378.6,302.8 L379.5,302.7 L380.4,302.5 L381.3,302.4 L382.2,302.3 L383.1,302.2 L384.0,302.0 L384.9,301.9 L385.8,301.7 L386.7,301.6 L387.6,301.4 L388.5,301.2 L389.4,301.1 L390.3,300.9 L391.2,300.7 L392.1,300.4 L393.0,300.2 L393.9,300.0 L394.8,299.7 L395.7,299.5 L396.6,299.2 L397.5,298.9 L398.4,298.6 L399.3,298.3 L400.2,298.0 L401.1,297.7 L402.0,297.3 L402.9,297.0 L403.8,296.6 L404.7,296.2 L405.6,295.8 L406.5,295.4 L407.4,295.0 L408.3,294.5 L409.2,294.1 L410.1,293.6 L411.0,293.2 L411.9,292.7 L412.8,292.2 L413.7,291.7 L414.6,291.3 L415.5,290.8 L416.4,290.4 L417.3,289.9 L418.2,289.5 L419.1,289.1 L420.0,288.7 L420.9,288.4 L421.8,288.1 L422.7,287.8 L423.6,287.6 L424.5,287.4 L425.4,287.3 L426.3,287.2 L427.2,287.2 L428.1,287.2 L429.0,287.3 L429.9,287.5 L430.8,287.7 L431.7,287.9 L432.6,288.2 L433.5,288.5 L434.4,288.9 L435.3,289.3 L436.2,289.7 L437.1,290.1 L438.0,290.6 L438.9,291.0 L439.8,291.5 L440.7,291.9 L441.6,292.4 L442.5,292.9 L443.4,293.4 L444.3,293.8 L445.2,294.3 L446.1,294.7 L447.0,295.1 L447.9,295.6 L448.8,296.0 L449.7,296.4 L450.6,296.8 L451.5,297.1 L452.4,297.5 L453.3,297.8 L454.2,298.2 L455.1,298.5 L456.0,298.8 L456.9,299.1 L457.8,299.3 L458.7,299.6 L459.6,299.9 L460.5,300.1 L461.4,300.3 L462.3,300.5 L463.2,300.8 L464.1,301.0 L465.0,301.1 L465.9,301.3 L466.8,301.5 L467.7,301.7 L468.6,301.8 L469.5,302.0 L470.4,302.1 L471.3,302.2 L472.2,302.4 L473.1,302.5 L474.0,302.6 L474.9,302.7 L475.8,302.8 L476.7,302.9 L477.6,303.0 L478.5,303.1 L479.4,303.2 L480.3,303.3 L481.2,303.3 L482.1,303.4 L483.0,303.5 L483.9,303.5 L484.8,303.6 L485.7,303.7 L486.6,303.7 L487.5,303.8 L488.4,303.8 L489.3,303.9 L490.2,303.9 L491.1,304.0 L492.0,304.0 L492.9,304.1 L493.8,304.1 L494.7,304.2 L495.6,304.2 L496.5,304.2 L497.4,304.3 L498.3,304.3 L499.2,304.3 L500.1,304.4 L501.0,304.4 L501.9,304.4 L502.8,304.5 L503.7,304.5 L504.6,304.5 L505.5,304.5 L506.4,304.6 L507.3,304.6 L508.2,304.6 L509.1,304.6 L510.0,304.7 L510.9,304.7 L511.8,304.7 L512.7,304.7 L513.6,304.8 L514.5,304.8 L515.4,304.8 L516.3,304.8 L517.2,304.8 L518.1,304.9 L519.0,304.9 L519.9,304.9 L520.8,304.9 L521.7,304.9 L522.6,304.9 L523.5,305.0 L524.4,305.0 L525.3,305.0 L526.2,305.0 L527.1,305.0 L528.0,305.0 L528.9,305.0 L529.8,305.0 L530.7,305.1 L531.6,305.1 L532.5,305.1 L533.4,305.1 L534.3,305.1 L535.2,305.1 L536.1,305.1" fill="none" stroke="#4a63dd" stroke-width="1.2"/>
<text x="327.5" y="294.3" font-size="8.6" fill="#4a63dd" text-anchor="start" font-weight="normal"  stroke="#4a63dd" stroke-width="0.15">RuPd<tspan font-size="5.5">2</tspan></text>
<line x1="319.2" y1="352.0" x2="536.6" y2="352.0" stroke="#ff7a2a" stroke-width="1.2"/>
<path d="M319.2,352.7 L320.1,349.7 L321.0,351.1 L321.9,351.4 L322.8,351.7 L323.7,348.2 L324.6,353.3 L325.5,351.7 L326.4,350.2 L327.3,349.3 L328.2,348.3 L329.1,348.8 L330.0,351.6 L330.9,350.3 L331.8,349.1 L332.7,350.0 L333.6,353.1 L334.5,350.3 L335.4,349.9 L336.3,352.8 L337.2,351.4 L338.1,350.8 L339.0,349.8 L339.9,348.4 L340.8,348.9 L341.7,350.0 L342.6,350.4 L343.5,351.2 L344.4,351.5 L345.3,351.0 L346.2,351.0 L347.1,349.1 L348.0,347.4 L348.9,349.8 L349.8,349.2 L350.7,349.6 L351.6,350.1 L352.5,348.7 L353.4,348.9 L354.3,350.4 L355.2,350.7 L356.1,349.5 L357.0,351.2 L357.9,350.1 L358.8,348.9 L359.7,350.5 L360.6,353.2 L361.5,349.3 L362.4,352.1 L363.3,352.4 L364.2,352.5 L365.1,349.0 L366.0,353.2 L366.9,350.4 L367.8,349.8 L368.7,349.8 L369.6,351.0 L370.5,350.1 L371.4,349.7 L372.3,351.9 L373.2,348.8 L374.1,348.3 L375.0,351.0 L375.9,350.8 L376.8,351.3 L377.7,348.0 L378.6,351.2 L379.5,350.2 L380.4,352.0 L381.3,347.4 L382.2,349.5 L383.1,348.7 L384.0,346.6 L384.9,347.8 L385.8,350.5 L386.7,347.9 L387.6,347.4 L388.5,349.7 L389.4,349.7 L390.3,349.5 L391.2,346.7 L392.1,347.6 L393.0,349.0 L393.9,346.3 L394.8,345.9 L395.7,348.0 L396.6,348.9 L397.5,344.6 L398.4,342.1 L399.3,343.6 L400.2,343.9 L401.1,344.9 L402.0,345.7 L402.9,344.2 L403.8,343.1 L404.7,344.0 L405.6,342.0 L406.5,343.0 L407.4,341.7 L408.3,346.3 L409.2,343.1 L410.1,340.2 L411.0,339.6 L411.9,340.0 L412.8,337.8 L413.7,338.8 L414.6,338.5 L415.5,340.5 L416.4,338.2 L417.3,337.4 L418.2,336.3 L419.1,336.2 L420.0,337.7 L420.9,337.2 L421.8,339.1 L422.7,336.4 L423.6,338.8 L424.5,337.6 L425.4,337.2 L426.3,334.3 L427.2,335.5 L428.1,338.6 L429.0,339.8 L429.9,338.3 L430.8,339.3 L431.7,337.9 L432.6,338.2 L433.5,338.1 L434.4,340.9 L435.3,340.4 L436.2,339.9 L437.1,340.1 L438.0,341.8 L438.9,341.9 L439.8,340.5 L440.7,344.8 L441.6,343.0 L442.5,343.0 L443.4,345.5 L444.3,345.2 L445.2,343.9 L446.1,345.2 L447.0,343.1 L447.9,344.1 L448.8,342.0 L449.7,347.5 L450.6,343.1 L451.5,347.2 L452.4,345.2 L453.3,345.3 L454.2,346.7 L455.1,347.6 L456.0,348.3 L456.9,350.3 L457.8,348.3 L458.7,349.3 L459.6,347.3 L460.5,349.4 L461.4,348.7 L462.3,347.9 L463.2,348.6 L464.1,348.8 L465.0,349.3 L465.9,349.7 L466.8,348.4 L467.7,348.2 L468.6,350.5 L469.5,346.9 L470.4,348.6 L471.3,351.9 L472.2,345.6 L473.1,348.7 L474.0,350.8 L474.9,347.4 L475.8,353.8 L476.7,346.1 L477.6,352.1 L478.5,352.4 L479.4,351.4 L480.3,349.8 L481.2,350.7 L482.1,348.8 L483.0,351.4 L483.9,348.6 L484.8,349.9 L485.7,351.8 L486.6,348.7 L487.5,349.8 L488.4,350.6 L489.3,348.4 L490.2,352.2 L491.1,350.9 L492.0,348.2 L492.9,350.4 L493.8,349.3 L494.7,349.5 L495.6,350.6 L496.5,349.5 L497.4,352.0 L498.3,349.5 L499.2,352.1 L500.1,350.5 L501.0,351.9 L501.9,349.8 L502.8,349.9 L503.7,348.9 L504.6,351.5 L505.5,352.1 L506.4,353.9 L507.3,352.6 L508.2,351.1 L509.1,350.4 L510.0,351.3 L510.9,350.7 L511.8,352.9 L512.7,352.2 L513.6,349.5 L514.5,349.7 L515.4,352.8 L516.3,351.2 L517.2,350.4 L518.1,352.6 L519.0,350.2 L519.9,350.4 L520.8,350.1 L521.7,347.9 L522.6,352.1 L523.5,349.0 L524.4,350.0 L525.3,349.7 L526.2,351.9 L527.1,350.8 L528.0,350.9 L528.9,348.4 L529.8,350.7 L530.7,348.7 L531.6,351.3 L532.5,351.4 L533.4,350.9 L534.3,354.0 L535.2,351.7 L536.1,351.8" fill="none" stroke="#505050" stroke-width="0.7"/>
<path d="M319.2,351.7 L320.1,351.7 L321.0,351.7 L321.9,351.7 L322.8,351.7 L323.7,351.7 L324.6,351.6 L325.5,351.6 L326.4,351.6 L327.3,351.6 L328.2,351.6 L329.1,351.6 L330.0,351.6 L330.9,351.6 L331.8,351.6 L332.7,351.6 L333.6,351.6 L334.5,351.6 L335.4,351.6 L336.3,351.6 L337.2,351.5 L338.1,351.5 L339.0,351.5 L339.9,351.5 L340.8,351.5 L341.7,351.5 L342.6,351.5 L343.5,351.5 L344.4,351.5 L345.3,351.4 L346.2,351.4 L347.1,351.4 L348.0,351.4 L348.9,351.4 L349.8,351.4 L350.7,351.4 L351.6,351.4 L352.5,351.3 L353.4,351.3 L354.3,351.3 L355.2,351.3 L356.1,351.3 L357.0,351.3 L357.9,351.2 L358.8,351.2 L359.7,351.2 L360.6,351.2 L361.5,351.2 L362.4,351.1 L363.3,351.1 L364.2,351.1 L365.1,351.0 L366.0,351.0 L366.9,351.0 L367.8,351.0 L368.7,350.9 L369.6,350.9 L370.5,350.8 L371.4,350.8 L372.3,350.8 L373.2,350.7 L374.1,350.7 L375.0,350.6 L375.9,350.5 L376.8,350.5 L377.7,350.4 L378.6,350.3 L379.5,350.3 L380.4,350.2 L381.3,350.1 L382.2,350.0 L383.1,349.9 L384.0,349.8 L384.9,349.7 L385.8,349.6 L386.7,349.4 L387.6,349.3 L388.5,349.2 L389.4,349.0 L390.3,348.8 L391.2,348.7 L392.1,348.5 L393.0,348.3 L393.9,348.0 L394.8,347.8 L395.7,347.6 L396.6,347.3 L397.5,347.1 L398.4,346.8 L399.3,346.5 L400.2,346.2 L401.1,345.9 L402.0,345.6 L402.9,345.3 L403.8,344.9 L404.7,344.6 L405.6,344.2 L406.5,343.8 L407.4,343.5 L408.3,343.1 L409.2,342.7 L410.1,342.3 L411.0,341.9 L411.9,341.5 L412.8,341.1 L413.7,340.7 L414.6,340.4 L415.5,340.0 L416.4,339.7 L417.3,339.4 L418.2,339.1 L419.1,338.8 L420.0,338.6 L420.9,338.4 L421.8,338.2 L422.7,338.1 L423.6,338.0 L424.5,338.0 L425.4,338.0 L426.3,338.1 L427.2,338.2 L428.1,338.3 L429.0,338.5 L429.9,338.7 L430.8,339.0 L431.7,339.3 L432.6,339.6 L433.5,339.9 L434.4,340.3 L435.3,340.7 L436.2,341.0 L437.1,341.4 L438.0,341.8 L438.9,342.2 L439.8,342.6 L440.7,343.0 L441.6,343.4 L442.5,343.8 L443.4,344.1 L444.3,344.5 L445.2,344.8 L446.1,345.2 L447.0,345.5 L447.9,345.8 L448.8,346.2 L449.7,346.5 L450.6,346.7 L451.5,347.0 L452.4,347.3 L453.3,347.5 L454.2,347.8 L455.1,348.0 L456.0,348.2 L456.9,348.4 L457.8,348.6 L458.7,348.8 L459.6,349.0 L460.5,349.1 L461.4,349.3 L462.3,349.4 L463.2,349.5 L464.1,349.7 L465.0,349.8 L465.9,349.9 L466.8,350.0 L467.7,350.1 L468.6,350.2 L469.5,350.3 L470.4,350.3 L471.3,350.4 L472.2,350.5 L473.1,350.5 L474.0,350.6 L474.9,350.6 L475.8,350.7 L476.7,350.7 L477.6,350.8 L478.5,350.8 L479.4,350.9 L480.3,350.9 L481.2,350.9 L482.1,351.0 L483.0,351.0 L483.9,351.0 L484.8,351.1 L485.7,351.1 L486.6,351.1 L487.5,351.1 L488.4,351.2 L489.3,351.2 L490.2,351.2 L491.1,351.2 L492.0,351.3 L492.9,351.3 L493.8,351.3 L494.7,351.3 L495.6,351.3 L496.5,351.3 L497.4,351.4 L498.3,351.4 L499.2,351.4 L500.1,351.4 L501.0,351.4 L501.9,351.4 L502.8,351.4 L503.7,351.4 L504.6,351.5 L505.5,351.5 L506.4,351.5 L507.3,351.5 L508.2,351.5 L509.1,351.5 L510.0,351.5 L510.9,351.5 L511.8,351.5 L512.7,351.5 L513.6,351.6 L514.5,351.6 L515.4,351.6 L516.3,351.6 L517.2,351.6 L518.1,351.6 L519.0,351.6 L519.9,351.6 L520.8,351.6 L521.7,351.6 L522.6,351.6 L523.5,351.6 L524.4,351.6 L525.3,351.6 L526.2,351.7 L527.1,351.7 L528.0,351.7 L528.9,351.7 L529.8,351.7 L530.7,351.7 L531.6,351.7 L532.5,351.7 L533.4,351.7 L534.3,351.7 L535.2,351.7 L536.1,351.7" fill="none" stroke="#ff7a2a" stroke-width="1.2"/>
<text x="327.5" y="344.0" font-size="8.6" fill="#ff7a2a" text-anchor="start" font-weight="normal"  stroke="#ff7a2a" stroke-width="0.15">RuPd<tspan font-size="5.5">3</tspan> ANs</text>
<line x1="423.2" y1="228" x2="423.2" y2="347" stroke="#ff2a2a" stroke-width="1.7" stroke-dasharray="1.8,1.6"/>
<line x1="432.8" y1="228" x2="432.8" y2="244" stroke="#2ab26a" stroke-width="1.3" stroke-dasharray="1.6,5"/>
<line x1="427" y1="272" x2="427" y2="293" stroke="#3050e0" stroke-width="1.3" stroke-dasharray="1.6,2"/>
<line x1="406" y1="232.3" x2="419.3" y2="232.3" stroke="#2ab26a" stroke-width="1.1"/>
<path d="M422.3,232.3 L418.3,230.3 L418.3,234.3 Z" fill="#2ab26a"/>
<line x1="449.5" y1="232.3" x2="436.8" y2="232.3" stroke="#2ab26a" stroke-width="1.1"/>
<path d="M433.8,232.3 L437.8,230.3 L437.8,234.3 Z" fill="#2ab26a"/>
<line x1="406" y1="275.5" x2="418.8" y2="275.5" stroke="#4a63dd" stroke-width="1.1"/>
<path d="M421.8,275.5 L417.8,273.5 L417.8,277.5 Z" fill="#4a63dd"/>
<line x1="443.8" y1="275.5" x2="431.4" y2="275.5" stroke="#4a63dd" stroke-width="1.1"/>
<path d="M428.4,275.5 L432.4,273.5 L432.4,277.5 Z" fill="#4a63dd"/>
<text x="429.3" y="224.2" font-size="8.6" fill="#2ab26a" text-anchor="start" font-weight="normal"  stroke="#2ab26a" stroke-width="0.15">1.05 eV</text>
<text x="429.3" y="269.8" font-size="8.6" fill="#4a63dd" text-anchor="start" font-weight="normal"  stroke="#4a63dd" stroke-width="0.15">0.46 eV</text>
<text x="509.3" y="222.6" font-size="8.6" fill="#000" text-anchor="start" font-weight="normal"  stroke="#000" stroke-width="0.25">Ru 3p</text>
<rect x="319.2" y="209.9" width="217.40000000000003" height="159.99999999999997" fill="none" stroke="#858585" stroke-width="1.3"/>
<line x1="536.6" y1="209.9" x2="536.6" y2="369.9" stroke="#555" stroke-width="1.3"/>
<line x1="536.60" y1="369.9" x2="536.60" y2="372.9" stroke="#606060" stroke-width="1"/>
<text x="536.60" y="383.6" font-size="10" fill="#000" text-anchor="middle" font-weight="normal"  stroke="#000" stroke-width="0.25">450</text>
<line x1="514.86" y1="369.9" x2="514.86" y2="371.9" stroke="#606060" stroke-width="1"/>
<line x1="493.12" y1="369.9" x2="493.12" y2="372.9" stroke="#606060" stroke-width="1"/>
<text x="493.12" y="383.6" font-size="10" fill="#000" text-anchor="middle" font-weight="normal"  stroke="#000" stroke-width="0.25">455</text>
<line x1="471.38" y1="369.9" x2="471.38" y2="371.9" stroke="#606060" stroke-width="1"/>
<line x1="449.64" y1="369.9" x2="449.64" y2="372.9" stroke="#606060" stroke-width="1"/>
<text x="449.64" y="383.6" font-size="10" fill="#000" text-anchor="middle" font-weight="normal"  stroke="#000" stroke-width="0.25">460</text>
<line x1="427.90" y1="369.9" x2="427.90" y2="371.9" stroke="#606060" stroke-width="1"/>
<line x1="406.16" y1="369.9" x2="406.16" y2="372.9" stroke="#606060" stroke-width="1"/>
<text x="406.16" y="383.6" font-size="10" fill="#000" text-anchor="middle" font-weight="normal"  stroke="#000" stroke-width="0.25">465</text>
<line x1="384.42" y1="369.9" x2="384.42" y2="371.9" stroke="#606060" stroke-width="1"/>
<line x1="362.68" y1="369.9" x2="362.68" y2="372.9" stroke="#606060" stroke-width="1"/>
<text x="362.68" y="383.6" font-size="10" fill="#000" text-anchor="middle" font-weight="normal"  stroke="#000" stroke-width="0.25">470</text>
<line x1="340.94" y1="369.9" x2="340.94" y2="371.9" stroke="#606060" stroke-width="1"/>
<line x1="319.20" y1="369.9" x2="319.20" y2="372.9" stroke="#606060" stroke-width="1"/>
<text x="319.20" y="383.6" font-size="10" fill="#000" text-anchor="middle" font-weight="normal"  stroke="#000" stroke-width="0.25">475</text>
<text x="427" y="402.5" font-size="14" fill="#000" text-anchor="middle" font-weight="normal"  stroke="#000" stroke-width="0.25">Binding energy (eV)</text>
<text transform="translate(300.5,297.1) rotate(-90)" font-size="14.6" text-anchor="middle" stroke="#000" stroke-width="0.25">Intensity (a.u.)</text>
</svg></body></html>
